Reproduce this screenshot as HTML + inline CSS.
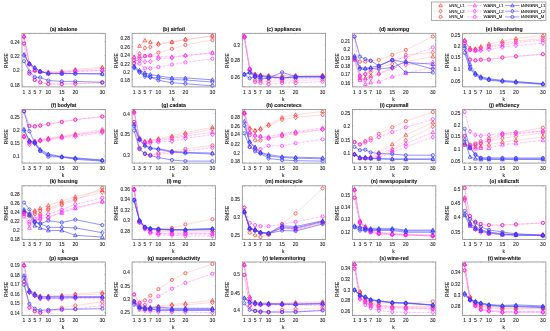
<!DOCTYPE html>
<html><head><meta charset="utf-8"><style>
html,body{margin:0;padding:0;background:#fff;width:550px;height:331px;overflow:hidden}
svg{display:block;font-family:"Liberation Sans",sans-serif;will-change:transform}
</style></head><body>
<svg width="550" height="331" viewBox="0 0 550 331">
<g fill="none"><polyline points="24.00,36.00 29.40,63.60 34.80,70.30 40.20,71.40 48.30,72.10 61.80,71.40 75.30,69.40 102.30,67.20" stroke="#ffb8b8" stroke-width="0.5"/><path d="M24.00,34.05L25.87,37.36L22.13,37.36Z" stroke="#ff3030" stroke-width="0.7"/><path d="M29.40,61.65L31.27,64.96L27.53,64.96Z" stroke="#ff3030" stroke-width="0.7"/><path d="M34.80,68.34L36.67,71.66L32.93,71.66Z" stroke="#ff3030" stroke-width="0.7"/><path d="M40.20,69.45L42.07,72.76L38.33,72.76Z" stroke="#ff3030" stroke-width="0.7"/><path d="M48.30,70.14L50.17,73.46L46.43,73.46Z" stroke="#ff3030" stroke-width="0.7"/><path d="M61.80,69.45L63.67,72.76L59.93,72.76Z" stroke="#ff3030" stroke-width="0.7"/><path d="M75.30,67.45L77.17,70.76L73.43,70.76Z" stroke="#ff3030" stroke-width="0.7"/><path d="M102.30,65.25L104.17,68.56L100.43,68.56Z" stroke="#ff3030" stroke-width="0.7"/><polyline points="24.00,37.00 29.40,64.00 34.80,70.50 40.20,71.60 48.30,72.50 61.80,72.00 75.30,70.50 102.30,68.50" stroke="#ffb8b8" stroke-width="0.5"/><path d="M24.00,34.79L25.61,37.00L24.00,39.21L22.39,37.00Z" stroke="#ff3030" stroke-width="0.7"/><path d="M29.40,61.79L31.01,64.00L29.40,66.21L27.79,64.00Z" stroke="#ff3030" stroke-width="0.7"/><path d="M34.80,68.29L36.41,70.50L34.80,72.71L33.18,70.50Z" stroke="#ff3030" stroke-width="0.7"/><path d="M40.20,69.39L41.82,71.60L40.20,73.81L38.59,71.60Z" stroke="#ff3030" stroke-width="0.7"/><path d="M48.30,70.29L49.91,72.50L48.30,74.71L46.68,72.50Z" stroke="#ff3030" stroke-width="0.7"/><path d="M61.80,69.79L63.42,72.00L61.80,74.21L60.19,72.00Z" stroke="#ff3030" stroke-width="0.7"/><path d="M75.30,68.29L76.92,70.50L75.30,72.71L73.69,70.50Z" stroke="#ff3030" stroke-width="0.7"/><path d="M102.30,66.29L103.92,68.50L102.30,70.71L100.69,68.50Z" stroke="#ff3030" stroke-width="0.7"/><polyline points="24.00,43.60 29.40,73.60 34.80,79.90 40.20,82.30 48.30,83.90 61.80,84.10 75.30,83.70 102.30,82.60" stroke="#ffb8b8" stroke-width="0.5"/><circle cx="24.00" cy="43.60" r="1.61" stroke="#ff3030" stroke-width="0.7"/><circle cx="29.40" cy="73.60" r="1.61" stroke="#ff3030" stroke-width="0.7"/><circle cx="34.80" cy="79.90" r="1.61" stroke="#ff3030" stroke-width="0.7"/><circle cx="40.20" cy="82.30" r="1.61" stroke="#ff3030" stroke-width="0.7"/><circle cx="48.30" cy="83.90" r="1.61" stroke="#ff3030" stroke-width="0.7"/><circle cx="61.80" cy="84.10" r="1.61" stroke="#ff3030" stroke-width="0.7"/><circle cx="75.30" cy="83.70" r="1.61" stroke="#ff3030" stroke-width="0.7"/><circle cx="102.30" cy="82.60" r="1.61" stroke="#ff3030" stroke-width="0.7"/><polyline points="24.00,36.00 29.40,64.00 34.80,70.30 40.20,71.40 48.30,72.50 61.80,72.50 75.30,71.40 102.30,70.30" stroke="#ff6cff" stroke-width="0.5" stroke-dasharray="2.2,0.8,0.6,0.8"/><path d="M24.00,34.05L25.87,37.36L22.13,37.36Z" stroke="#ff20ff" stroke-width="0.7"/><path d="M29.40,62.05L31.27,65.36L27.53,65.36Z" stroke="#ff20ff" stroke-width="0.7"/><path d="M34.80,68.34L36.67,71.66L32.93,71.66Z" stroke="#ff20ff" stroke-width="0.7"/><path d="M40.20,69.45L42.07,72.76L38.33,72.76Z" stroke="#ff20ff" stroke-width="0.7"/><path d="M48.30,70.55L50.17,73.86L46.43,73.86Z" stroke="#ff20ff" stroke-width="0.7"/><path d="M61.80,70.55L63.67,73.86L59.93,73.86Z" stroke="#ff20ff" stroke-width="0.7"/><path d="M75.30,69.45L77.17,72.76L73.43,72.76Z" stroke="#ff20ff" stroke-width="0.7"/><path d="M102.30,68.34L104.17,71.66L100.43,71.66Z" stroke="#ff20ff" stroke-width="0.7"/><polyline points="24.00,37.00 29.40,64.20 34.80,70.50 40.20,71.60 48.30,73.00 61.80,72.80 75.30,71.40 102.30,70.30" stroke="#ff6cff" stroke-width="0.5" stroke-dasharray="2.2,0.8,0.6,0.8"/><path d="M24.00,34.79L25.61,37.00L24.00,39.21L22.39,37.00Z" stroke="#ff20ff" stroke-width="0.7"/><path d="M29.40,61.99L31.01,64.20L29.40,66.41L27.79,64.20Z" stroke="#ff20ff" stroke-width="0.7"/><path d="M34.80,68.29L36.41,70.50L34.80,72.71L33.18,70.50Z" stroke="#ff20ff" stroke-width="0.7"/><path d="M40.20,69.39L41.82,71.60L40.20,73.81L38.59,71.60Z" stroke="#ff20ff" stroke-width="0.7"/><path d="M48.30,70.79L49.91,73.00L48.30,75.21L46.68,73.00Z" stroke="#ff20ff" stroke-width="0.7"/><path d="M61.80,70.59L63.42,72.80L61.80,75.01L60.19,72.80Z" stroke="#ff20ff" stroke-width="0.7"/><path d="M75.30,69.19L76.92,71.40L75.30,73.61L73.69,71.40Z" stroke="#ff20ff" stroke-width="0.7"/><path d="M102.30,68.09L103.92,70.30L102.30,72.51L100.69,70.30Z" stroke="#ff20ff" stroke-width="0.7"/><polyline points="24.00,43.60 29.40,73.60 34.80,79.90 40.20,82.30 48.30,83.90 61.80,84.10 75.30,83.70 102.30,82.60" stroke="#ff6cff" stroke-width="0.5" stroke-dasharray="2.2,0.8,0.6,0.8"/><circle cx="24.00" cy="43.60" r="1.61" stroke="#ff20ff" stroke-width="0.7"/><circle cx="29.40" cy="73.60" r="1.61" stroke="#ff20ff" stroke-width="0.7"/><circle cx="34.80" cy="79.90" r="1.61" stroke="#ff20ff" stroke-width="0.7"/><circle cx="40.20" cy="82.30" r="1.61" stroke="#ff20ff" stroke-width="0.7"/><circle cx="48.30" cy="83.90" r="1.61" stroke="#ff20ff" stroke-width="0.7"/><circle cx="61.80" cy="84.10" r="1.61" stroke="#ff20ff" stroke-width="0.7"/><circle cx="75.30" cy="83.70" r="1.61" stroke="#ff20ff" stroke-width="0.7"/><circle cx="102.30" cy="82.60" r="1.61" stroke="#ff20ff" stroke-width="0.7"/><polyline points="24.00,54.50 29.40,63.60 34.80,67.60 40.20,71.40 48.30,73.60 61.80,73.60 75.30,73.60 102.30,73.90" stroke="#4a4aff" stroke-width="0.6"/><path d="M24.00,52.55L25.87,55.86L22.13,55.86Z" stroke="#3030ff" stroke-width="0.7"/><path d="M29.40,61.65L31.27,64.96L27.53,64.96Z" stroke="#3030ff" stroke-width="0.7"/><path d="M34.80,65.64L36.67,68.96L32.93,68.96Z" stroke="#3030ff" stroke-width="0.7"/><path d="M40.20,69.45L42.07,72.76L38.33,72.76Z" stroke="#3030ff" stroke-width="0.7"/><path d="M48.30,71.64L50.17,74.96L46.43,74.96Z" stroke="#3030ff" stroke-width="0.7"/><path d="M61.80,71.64L63.67,74.96L59.93,74.96Z" stroke="#3030ff" stroke-width="0.7"/><path d="M75.30,71.64L77.17,74.96L73.43,74.96Z" stroke="#3030ff" stroke-width="0.7"/><path d="M102.30,71.95L104.17,75.26L100.43,75.26Z" stroke="#3030ff" stroke-width="0.7"/><polyline points="24.00,55.50 29.40,63.60 34.80,68.00 40.20,71.40 48.30,73.60 61.80,73.60 75.30,73.60 102.30,73.90" stroke="#4a4aff" stroke-width="0.6"/><path d="M24.00,53.29L25.61,55.50L24.00,57.71L22.39,55.50Z" stroke="#3030ff" stroke-width="0.7"/><path d="M29.40,61.39L31.01,63.60L29.40,65.81L27.79,63.60Z" stroke="#3030ff" stroke-width="0.7"/><path d="M34.80,65.79L36.41,68.00L34.80,70.21L33.18,68.00Z" stroke="#3030ff" stroke-width="0.7"/><path d="M40.20,69.19L41.82,71.40L40.20,73.61L38.59,71.40Z" stroke="#3030ff" stroke-width="0.7"/><path d="M48.30,71.39L49.91,73.60L48.30,75.81L46.68,73.60Z" stroke="#3030ff" stroke-width="0.7"/><path d="M61.80,71.39L63.42,73.60L61.80,75.81L60.19,73.60Z" stroke="#3030ff" stroke-width="0.7"/><path d="M75.30,71.39L76.92,73.60L75.30,75.81L73.69,73.60Z" stroke="#3030ff" stroke-width="0.7"/><path d="M102.30,71.69L103.92,73.90L102.30,76.11L100.69,73.90Z" stroke="#3030ff" stroke-width="0.7"/><polyline points="24.00,61.20 29.40,71.70 34.80,77.20 40.20,77.50 48.30,80.50 61.80,81.40 75.30,81.40 102.30,82.30" stroke="#4a4aff" stroke-width="0.6"/><circle cx="24.00" cy="61.20" r="1.61" stroke="#3030ff" stroke-width="0.7"/><circle cx="29.40" cy="71.70" r="1.61" stroke="#3030ff" stroke-width="0.7"/><circle cx="34.80" cy="77.20" r="1.61" stroke="#3030ff" stroke-width="0.7"/><circle cx="40.20" cy="77.50" r="1.61" stroke="#3030ff" stroke-width="0.7"/><circle cx="48.30" cy="80.50" r="1.61" stroke="#3030ff" stroke-width="0.7"/><circle cx="61.80" cy="81.40" r="1.61" stroke="#3030ff" stroke-width="0.7"/><circle cx="75.30" cy="81.40" r="1.61" stroke="#3030ff" stroke-width="0.7"/><circle cx="102.30" cy="82.30" r="1.61" stroke="#3030ff" stroke-width="0.7"/></g>
<rect x="22.00" y="33.30" width="83.30" height="53.60" fill="none" stroke="#8c8c8c" stroke-width="0.8"/>
<path d="M24.00,86.90v-0.9M24.00,33.30v0.9M29.40,86.90v-0.9M29.40,33.30v0.9M34.80,86.90v-0.9M34.80,33.30v0.9M40.20,86.90v-0.9M40.20,33.30v0.9M48.30,86.90v-0.9M48.30,33.30v0.9M61.80,86.90v-0.9M61.80,33.30v0.9M75.30,86.90v-0.9M75.30,33.30v0.9M102.30,86.90v-0.9M102.30,33.30v0.9M22.00,41.60h0.9M105.30,41.60h-0.9M22.00,55.70h0.9M105.30,55.70h-0.9M22.00,70.30h0.9M105.30,70.30h-0.9M22.00,85.10h0.9M105.30,85.10h-0.9" stroke="#8c8c8c" stroke-width="0.6"/>
<g font-size="5.0" fill="#1e1e1e" stroke="#1e1e1e" stroke-width="0.09"><text x="24.00" y="93.50" text-anchor="middle">1</text><text x="29.40" y="93.50" text-anchor="middle">3</text><text x="34.80" y="93.50" text-anchor="middle">5</text><text x="40.20" y="93.50" text-anchor="middle">7</text><text x="48.30" y="93.50" text-anchor="middle">10</text><text x="61.80" y="93.50" text-anchor="middle">15</text><text x="75.30" y="93.50" text-anchor="middle">20</text><text x="102.30" y="93.50" text-anchor="middle">30</text><text x="19.70" y="43.70" text-anchor="end" font-size="4.75">0.24</text><text x="19.70" y="57.80" text-anchor="end" font-size="4.75">0.22</text><text x="19.70" y="72.40" text-anchor="end" font-size="4.75">0.2</text><text x="19.70" y="87.20" text-anchor="end" font-size="4.75">0.18</text><text x="63.05" y="100.50" text-anchor="middle">k</text><text transform="translate(8.30,60.70) rotate(-90)" text-anchor="middle" fill="#222" font-size="5.2">RMSE</text></g>
<text x="63.65" y="30.80" text-anchor="middle" font-size="5.2" font-weight="bold" fill="#111" stroke="#111" stroke-width="0.08">(a) abalone</text>
<g fill="none"><polyline points="134.10,57.10 139.50,46.00 144.90,40.50 150.30,42.10 158.40,43.30 171.90,42.10 185.40,39.60 212.40,35.80" stroke="#ffb8b8" stroke-width="0.5"/><path d="M134.10,55.15L135.97,58.46L132.23,58.46Z" stroke="#ff3030" stroke-width="0.7"/><path d="M139.50,44.05L141.37,47.36L137.63,47.36Z" stroke="#ff3030" stroke-width="0.7"/><path d="M144.90,38.55L146.77,41.86L143.03,41.86Z" stroke="#ff3030" stroke-width="0.7"/><path d="M150.30,40.15L152.17,43.46L148.43,43.46Z" stroke="#ff3030" stroke-width="0.7"/><path d="M158.40,41.34L160.27,44.66L156.53,44.66Z" stroke="#ff3030" stroke-width="0.7"/><path d="M171.90,40.15L173.77,43.46L170.03,43.46Z" stroke="#ff3030" stroke-width="0.7"/><path d="M185.40,37.65L187.27,40.96L183.53,40.96Z" stroke="#ff3030" stroke-width="0.7"/><path d="M212.40,33.84L214.27,37.16L210.53,37.16Z" stroke="#ff3030" stroke-width="0.7"/><polyline points="134.10,60.40 139.50,53.80 144.90,48.00 150.30,47.10 158.40,44.60 171.90,42.10 185.40,39.60 212.40,35.80" stroke="#ffb8b8" stroke-width="0.5"/><path d="M134.10,58.19L135.72,60.40L134.10,62.61L132.48,60.40Z" stroke="#ff3030" stroke-width="0.7"/><path d="M139.50,51.59L141.12,53.80L139.50,56.01L137.88,53.80Z" stroke="#ff3030" stroke-width="0.7"/><path d="M144.90,45.79L146.52,48.00L144.90,50.21L143.28,48.00Z" stroke="#ff3030" stroke-width="0.7"/><path d="M150.30,44.89L151.92,47.10L150.30,49.31L148.69,47.10Z" stroke="#ff3030" stroke-width="0.7"/><path d="M158.40,42.39L160.02,44.60L158.40,46.81L156.78,44.60Z" stroke="#ff3030" stroke-width="0.7"/><path d="M171.90,39.89L173.52,42.10L171.90,44.31L170.28,42.10Z" stroke="#ff3030" stroke-width="0.7"/><path d="M185.40,37.39L187.02,39.60L185.40,41.81L183.78,39.60Z" stroke="#ff3030" stroke-width="0.7"/><path d="M212.40,33.59L214.02,35.80L212.40,38.01L210.78,35.80Z" stroke="#ff3030" stroke-width="0.7"/><polyline points="134.10,63.20 139.50,58.40 144.90,55.90 150.30,55.40 158.40,52.60 171.90,48.80 185.40,45.00 212.40,40.00" stroke="#ffb8b8" stroke-width="0.5"/><circle cx="134.10" cy="63.20" r="1.61" stroke="#ff3030" stroke-width="0.7"/><circle cx="139.50" cy="58.40" r="1.61" stroke="#ff3030" stroke-width="0.7"/><circle cx="144.90" cy="55.90" r="1.61" stroke="#ff3030" stroke-width="0.7"/><circle cx="150.30" cy="55.40" r="1.61" stroke="#ff3030" stroke-width="0.7"/><circle cx="158.40" cy="52.60" r="1.61" stroke="#ff3030" stroke-width="0.7"/><circle cx="171.90" cy="48.80" r="1.61" stroke="#ff3030" stroke-width="0.7"/><circle cx="185.40" cy="45.00" r="1.61" stroke="#ff3030" stroke-width="0.7"/><circle cx="212.40" cy="40.00" r="1.61" stroke="#ff3030" stroke-width="0.7"/><polyline points="134.10,57.10 139.50,56.30 144.90,55.90 150.30,55.40 158.40,56.80 171.90,56.80 185.40,55.40 212.40,52.90" stroke="#ff6cff" stroke-width="0.5" stroke-dasharray="2.2,0.8,0.6,0.8"/><path d="M134.10,55.15L135.97,58.46L132.23,58.46Z" stroke="#ff20ff" stroke-width="0.7"/><path d="M139.50,54.34L141.37,57.66L137.63,57.66Z" stroke="#ff20ff" stroke-width="0.7"/><path d="M144.90,53.95L146.77,57.26L143.03,57.26Z" stroke="#ff20ff" stroke-width="0.7"/><path d="M150.30,53.45L152.17,56.76L148.43,56.76Z" stroke="#ff20ff" stroke-width="0.7"/><path d="M158.40,54.84L160.27,58.16L156.53,58.16Z" stroke="#ff20ff" stroke-width="0.7"/><path d="M171.90,54.84L173.77,58.16L170.03,58.16Z" stroke="#ff20ff" stroke-width="0.7"/><path d="M185.40,53.45L187.27,56.76L183.53,56.76Z" stroke="#ff20ff" stroke-width="0.7"/><path d="M212.40,50.95L214.27,54.26L210.53,54.26Z" stroke="#ff20ff" stroke-width="0.7"/><polyline points="134.10,60.40 139.50,60.40 144.90,61.70 150.30,61.60 158.40,58.70 171.90,57.90 185.40,55.40 212.40,52.90" stroke="#ff6cff" stroke-width="0.5" stroke-dasharray="2.2,0.8,0.6,0.8"/><path d="M134.10,58.19L135.72,60.40L134.10,62.61L132.48,60.40Z" stroke="#ff20ff" stroke-width="0.7"/><path d="M139.50,58.19L141.12,60.40L139.50,62.61L137.88,60.40Z" stroke="#ff20ff" stroke-width="0.7"/><path d="M144.90,59.49L146.52,61.70L144.90,63.91L143.28,61.70Z" stroke="#ff20ff" stroke-width="0.7"/><path d="M150.30,59.39L151.92,61.60L150.30,63.81L148.69,61.60Z" stroke="#ff20ff" stroke-width="0.7"/><path d="M158.40,56.49L160.02,58.70L158.40,60.91L156.78,58.70Z" stroke="#ff20ff" stroke-width="0.7"/><path d="M171.90,55.69L173.52,57.90L171.90,60.11L170.28,57.90Z" stroke="#ff20ff" stroke-width="0.7"/><path d="M185.40,53.19L187.02,55.40L185.40,57.61L183.78,55.40Z" stroke="#ff20ff" stroke-width="0.7"/><path d="M212.40,50.69L214.02,52.90L212.40,55.11L210.78,52.90Z" stroke="#ff20ff" stroke-width="0.7"/><polyline points="134.10,63.20 139.50,63.70 144.90,68.40 150.30,68.40 158.40,67.10 171.90,64.60 185.40,62.40 212.40,58.70" stroke="#ff6cff" stroke-width="0.5" stroke-dasharray="2.2,0.8,0.6,0.8"/><circle cx="134.10" cy="63.20" r="1.61" stroke="#ff20ff" stroke-width="0.7"/><circle cx="139.50" cy="63.70" r="1.61" stroke="#ff20ff" stroke-width="0.7"/><circle cx="144.90" cy="68.40" r="1.61" stroke="#ff20ff" stroke-width="0.7"/><circle cx="150.30" cy="68.40" r="1.61" stroke="#ff20ff" stroke-width="0.7"/><circle cx="158.40" cy="67.10" r="1.61" stroke="#ff20ff" stroke-width="0.7"/><circle cx="171.90" cy="64.60" r="1.61" stroke="#ff20ff" stroke-width="0.7"/><circle cx="185.40" cy="62.40" r="1.61" stroke="#ff20ff" stroke-width="0.7"/><circle cx="212.40" cy="58.70" r="1.61" stroke="#ff20ff" stroke-width="0.7"/><polyline points="134.10,66.20 139.50,70.40 144.90,72.90 150.30,74.50 158.40,75.90 171.90,77.90 185.40,77.90 212.40,79.80" stroke="#4a4aff" stroke-width="0.6"/><path d="M134.10,64.25L135.97,67.56L132.23,67.56Z" stroke="#3030ff" stroke-width="0.7"/><path d="M139.50,68.45L141.37,71.76L137.63,71.76Z" stroke="#3030ff" stroke-width="0.7"/><path d="M144.90,70.95L146.77,74.26L143.03,74.26Z" stroke="#3030ff" stroke-width="0.7"/><path d="M150.30,72.55L152.17,75.86L148.43,75.86Z" stroke="#3030ff" stroke-width="0.7"/><path d="M158.40,73.95L160.27,77.26L156.53,77.26Z" stroke="#3030ff" stroke-width="0.7"/><path d="M171.90,75.95L173.77,79.26L170.03,79.26Z" stroke="#3030ff" stroke-width="0.7"/><path d="M185.40,75.95L187.27,79.26L183.53,79.26Z" stroke="#3030ff" stroke-width="0.7"/><path d="M212.40,77.84L214.27,81.16L210.53,81.16Z" stroke="#3030ff" stroke-width="0.7"/><polyline points="134.10,67.90 139.50,72.40 144.90,76.50 150.30,77.50 158.40,77.90 171.90,79.50 185.40,80.00 212.40,82.00" stroke="#4a4aff" stroke-width="0.6"/><path d="M134.10,65.69L135.72,67.90L134.10,70.11L132.48,67.90Z" stroke="#3030ff" stroke-width="0.7"/><path d="M139.50,70.19L141.12,72.40L139.50,74.61L137.88,72.40Z" stroke="#3030ff" stroke-width="0.7"/><path d="M144.90,74.29L146.52,76.50L144.90,78.71L143.28,76.50Z" stroke="#3030ff" stroke-width="0.7"/><path d="M150.30,75.29L151.92,77.50L150.30,79.71L148.69,77.50Z" stroke="#3030ff" stroke-width="0.7"/><path d="M158.40,75.69L160.02,77.90L158.40,80.11L156.78,77.90Z" stroke="#3030ff" stroke-width="0.7"/><path d="M171.90,77.29L173.52,79.50L171.90,81.71L170.28,79.50Z" stroke="#3030ff" stroke-width="0.7"/><path d="M185.40,77.79L187.02,80.00L185.40,82.21L183.78,80.00Z" stroke="#3030ff" stroke-width="0.7"/><path d="M212.40,79.79L214.02,82.00L212.40,84.21L210.78,82.00Z" stroke="#3030ff" stroke-width="0.7"/><polyline points="134.10,67.00 139.50,71.50 144.90,75.00 150.30,77.00 158.40,80.30 171.90,82.80 185.40,83.70 212.40,85.80" stroke="#4a4aff" stroke-width="0.6"/><circle cx="134.10" cy="67.00" r="1.61" stroke="#3030ff" stroke-width="0.7"/><circle cx="139.50" cy="71.50" r="1.61" stroke="#3030ff" stroke-width="0.7"/><circle cx="144.90" cy="75.00" r="1.61" stroke="#3030ff" stroke-width="0.7"/><circle cx="150.30" cy="77.00" r="1.61" stroke="#3030ff" stroke-width="0.7"/><circle cx="158.40" cy="80.30" r="1.61" stroke="#3030ff" stroke-width="0.7"/><circle cx="171.90" cy="82.80" r="1.61" stroke="#3030ff" stroke-width="0.7"/><circle cx="185.40" cy="83.70" r="1.61" stroke="#3030ff" stroke-width="0.7"/><circle cx="212.40" cy="85.80" r="1.61" stroke="#3030ff" stroke-width="0.7"/></g>
<rect x="132.10" y="33.30" width="83.30" height="53.60" fill="none" stroke="#8c8c8c" stroke-width="0.8"/>
<path d="M134.10,86.90v-0.9M134.10,33.30v0.9M139.50,86.90v-0.9M139.50,33.30v0.9M144.90,86.90v-0.9M144.90,33.30v0.9M150.30,86.90v-0.9M150.30,33.30v0.9M158.40,86.90v-0.9M158.40,33.30v0.9M171.90,86.90v-0.9M171.90,33.30v0.9M185.40,86.90v-0.9M185.40,33.30v0.9M212.40,86.90v-0.9M212.40,33.30v0.9M132.10,38.30h0.9M215.40,38.30h-0.9M132.10,46.40h0.9M215.40,46.40h-0.9M132.10,54.70h0.9M215.40,54.70h-0.9M132.10,63.40h0.9M215.40,63.40h-0.9M132.10,71.50h0.9M215.40,71.50h-0.9M132.10,79.70h0.9M215.40,79.70h-0.9" stroke="#8c8c8c" stroke-width="0.6"/>
<g font-size="5.0" fill="#1e1e1e" stroke="#1e1e1e" stroke-width="0.09"><text x="134.10" y="93.50" text-anchor="middle">1</text><text x="139.50" y="93.50" text-anchor="middle">3</text><text x="144.90" y="93.50" text-anchor="middle">5</text><text x="150.30" y="93.50" text-anchor="middle">7</text><text x="158.40" y="93.50" text-anchor="middle">10</text><text x="171.90" y="93.50" text-anchor="middle">15</text><text x="185.40" y="93.50" text-anchor="middle">20</text><text x="212.40" y="93.50" text-anchor="middle">30</text><text x="129.80" y="40.40" text-anchor="end" font-size="4.75">0.28</text><text x="129.80" y="48.50" text-anchor="end" font-size="4.75">0.26</text><text x="129.80" y="56.80" text-anchor="end" font-size="4.75">0.24</text><text x="129.80" y="65.50" text-anchor="end" font-size="4.75">0.22</text><text x="129.80" y="73.60" text-anchor="end" font-size="4.75">0.2</text><text x="129.80" y="81.80" text-anchor="end" font-size="4.75">0.18</text><text x="173.15" y="100.50" text-anchor="middle">k</text><text transform="translate(118.40,60.70) rotate(-90)" text-anchor="middle" fill="#222" font-size="5.2">RMSE</text></g>
<text x="173.75" y="30.80" text-anchor="middle" font-size="5.2" font-weight="bold" fill="#111" stroke="#111" stroke-width="0.08">(b) airfoil</text>
<g fill="none"><polyline points="244.30,36.00 249.70,69.00 255.10,74.00 260.50,74.70 268.60,75.50 282.10,75.90 295.60,75.50 322.60,75.00" stroke="#ffb8b8" stroke-width="0.5"/><path d="M244.30,34.05L246.17,37.36L242.43,37.36Z" stroke="#ff3030" stroke-width="0.7"/><path d="M249.70,67.05L251.57,70.36L247.83,70.36Z" stroke="#ff3030" stroke-width="0.7"/><path d="M255.10,72.05L256.97,75.36L253.23,75.36Z" stroke="#ff3030" stroke-width="0.7"/><path d="M260.50,72.75L262.37,76.06L258.63,76.06Z" stroke="#ff3030" stroke-width="0.7"/><path d="M268.60,73.55L270.47,76.86L266.73,76.86Z" stroke="#ff3030" stroke-width="0.7"/><path d="M282.10,73.95L283.97,77.26L280.23,77.26Z" stroke="#ff3030" stroke-width="0.7"/><path d="M295.60,73.55L297.47,76.86L293.73,76.86Z" stroke="#ff3030" stroke-width="0.7"/><path d="M322.60,73.05L324.47,76.36L320.73,76.36Z" stroke="#ff3030" stroke-width="0.7"/><polyline points="244.30,36.50 249.70,69.00 255.10,74.50 260.50,75.50 268.60,76.00 282.10,76.50 295.60,76.00 322.60,75.50" stroke="#ffb8b8" stroke-width="0.5"/><path d="M244.30,34.29L245.92,36.50L244.30,38.71L242.69,36.50Z" stroke="#ff3030" stroke-width="0.7"/><path d="M249.70,66.79L251.32,69.00L249.70,71.21L248.09,69.00Z" stroke="#ff3030" stroke-width="0.7"/><path d="M255.10,72.29L256.72,74.50L255.10,76.71L253.49,74.50Z" stroke="#ff3030" stroke-width="0.7"/><path d="M260.50,73.29L262.12,75.50L260.50,77.71L258.88,75.50Z" stroke="#ff3030" stroke-width="0.7"/><path d="M268.60,73.79L270.22,76.00L268.60,78.21L266.99,76.00Z" stroke="#ff3030" stroke-width="0.7"/><path d="M282.10,74.29L283.72,76.50L282.10,78.71L280.49,76.50Z" stroke="#ff3030" stroke-width="0.7"/><path d="M295.60,73.79L297.22,76.00L295.60,78.21L293.99,76.00Z" stroke="#ff3030" stroke-width="0.7"/><path d="M322.60,73.29L324.22,75.50L322.60,77.71L320.99,75.50Z" stroke="#ff3030" stroke-width="0.7"/><polyline points="244.30,37.50 249.70,69.50 255.10,80.50 260.50,81.00 268.60,81.30 282.10,81.00 295.60,80.50 322.60,79.60" stroke="#ffb8b8" stroke-width="0.5"/><circle cx="244.30" cy="37.50" r="1.61" stroke="#ff3030" stroke-width="0.7"/><circle cx="249.70" cy="69.50" r="1.61" stroke="#ff3030" stroke-width="0.7"/><circle cx="255.10" cy="80.50" r="1.61" stroke="#ff3030" stroke-width="0.7"/><circle cx="260.50" cy="81.00" r="1.61" stroke="#ff3030" stroke-width="0.7"/><circle cx="268.60" cy="81.30" r="1.61" stroke="#ff3030" stroke-width="0.7"/><circle cx="282.10" cy="81.00" r="1.61" stroke="#ff3030" stroke-width="0.7"/><circle cx="295.60" cy="80.50" r="1.61" stroke="#ff3030" stroke-width="0.7"/><circle cx="322.60" cy="79.60" r="1.61" stroke="#ff3030" stroke-width="0.7"/><polyline points="244.30,36.00 249.70,69.00 255.10,76.00 260.50,77.00 268.60,77.50 282.10,78.00 295.60,77.00 322.60,76.50" stroke="#ff6cff" stroke-width="0.5" stroke-dasharray="2.2,0.8,0.6,0.8"/><path d="M244.30,34.05L246.17,37.36L242.43,37.36Z" stroke="#ff20ff" stroke-width="0.7"/><path d="M249.70,67.05L251.57,70.36L247.83,70.36Z" stroke="#ff20ff" stroke-width="0.7"/><path d="M255.10,74.05L256.97,77.36L253.23,77.36Z" stroke="#ff20ff" stroke-width="0.7"/><path d="M260.50,75.05L262.37,78.36L258.63,78.36Z" stroke="#ff20ff" stroke-width="0.7"/><path d="M268.60,75.55L270.47,78.86L266.73,78.86Z" stroke="#ff20ff" stroke-width="0.7"/><path d="M282.10,76.05L283.97,79.36L280.23,79.36Z" stroke="#ff20ff" stroke-width="0.7"/><path d="M295.60,75.05L297.47,78.36L293.73,78.36Z" stroke="#ff20ff" stroke-width="0.7"/><path d="M322.60,74.55L324.47,77.86L320.73,77.86Z" stroke="#ff20ff" stroke-width="0.7"/><polyline points="244.30,36.50 249.70,69.00 255.10,77.00 260.50,78.00 268.60,78.50 282.10,79.00 295.60,78.50 322.60,78.00" stroke="#ff6cff" stroke-width="0.5" stroke-dasharray="2.2,0.8,0.6,0.8"/><path d="M244.30,34.29L245.92,36.50L244.30,38.71L242.69,36.50Z" stroke="#ff20ff" stroke-width="0.7"/><path d="M249.70,66.79L251.32,69.00L249.70,71.21L248.09,69.00Z" stroke="#ff20ff" stroke-width="0.7"/><path d="M255.10,74.79L256.72,77.00L255.10,79.21L253.49,77.00Z" stroke="#ff20ff" stroke-width="0.7"/><path d="M260.50,75.79L262.12,78.00L260.50,80.21L258.88,78.00Z" stroke="#ff20ff" stroke-width="0.7"/><path d="M268.60,76.29L270.22,78.50L268.60,80.71L266.99,78.50Z" stroke="#ff20ff" stroke-width="0.7"/><path d="M282.10,76.79L283.72,79.00L282.10,81.21L280.49,79.00Z" stroke="#ff20ff" stroke-width="0.7"/><path d="M295.60,76.29L297.22,78.50L295.60,80.71L293.99,78.50Z" stroke="#ff20ff" stroke-width="0.7"/><path d="M322.60,75.79L324.22,78.00L322.60,80.21L320.99,78.00Z" stroke="#ff20ff" stroke-width="0.7"/><polyline points="244.30,37.50 249.70,69.50 255.10,82.10 260.50,82.90 268.60,84.20 282.10,82.90 295.60,82.90 322.60,81.60" stroke="#ff6cff" stroke-width="0.5" stroke-dasharray="2.2,0.8,0.6,0.8"/><circle cx="244.30" cy="37.50" r="1.61" stroke="#ff20ff" stroke-width="0.7"/><circle cx="249.70" cy="69.50" r="1.61" stroke="#ff20ff" stroke-width="0.7"/><circle cx="255.10" cy="82.10" r="1.61" stroke="#ff20ff" stroke-width="0.7"/><circle cx="260.50" cy="82.90" r="1.61" stroke="#ff20ff" stroke-width="0.7"/><circle cx="268.60" cy="84.20" r="1.61" stroke="#ff20ff" stroke-width="0.7"/><circle cx="282.10" cy="82.90" r="1.61" stroke="#ff20ff" stroke-width="0.7"/><circle cx="295.60" cy="82.90" r="1.61" stroke="#ff20ff" stroke-width="0.7"/><circle cx="322.60" cy="81.60" r="1.61" stroke="#ff20ff" stroke-width="0.7"/><polyline points="244.30,74.40 249.70,71.80 255.10,75.00 260.50,75.50 268.60,76.50 282.10,78.00 295.60,76.70 322.60,76.40" stroke="#4a4aff" stroke-width="0.6"/><path d="M244.30,72.45L246.17,75.76L242.43,75.76Z" stroke="#3030ff" stroke-width="0.7"/><path d="M249.70,69.84L251.57,73.16L247.83,73.16Z" stroke="#3030ff" stroke-width="0.7"/><path d="M255.10,73.05L256.97,76.36L253.23,76.36Z" stroke="#3030ff" stroke-width="0.7"/><path d="M260.50,73.55L262.37,76.86L258.63,76.86Z" stroke="#3030ff" stroke-width="0.7"/><path d="M268.60,74.55L270.47,77.86L266.73,77.86Z" stroke="#3030ff" stroke-width="0.7"/><path d="M282.10,76.05L283.97,79.36L280.23,79.36Z" stroke="#3030ff" stroke-width="0.7"/><path d="M295.60,74.75L297.47,78.06L293.73,78.06Z" stroke="#3030ff" stroke-width="0.7"/><path d="M322.60,74.45L324.47,77.76L320.73,77.76Z" stroke="#3030ff" stroke-width="0.7"/><polyline points="244.30,74.40 249.70,73.00 255.10,76.00 260.50,76.40 268.60,77.20 282.10,78.00 295.60,77.00 322.60,76.80" stroke="#4a4aff" stroke-width="0.6"/><path d="M244.30,72.19L245.92,74.40L244.30,76.61L242.69,74.40Z" stroke="#3030ff" stroke-width="0.7"/><path d="M249.70,70.79L251.32,73.00L249.70,75.21L248.09,73.00Z" stroke="#3030ff" stroke-width="0.7"/><path d="M255.10,73.79L256.72,76.00L255.10,78.21L253.49,76.00Z" stroke="#3030ff" stroke-width="0.7"/><path d="M260.50,74.19L262.12,76.40L260.50,78.61L258.88,76.40Z" stroke="#3030ff" stroke-width="0.7"/><path d="M268.60,74.99L270.22,77.20L268.60,79.41L266.99,77.20Z" stroke="#3030ff" stroke-width="0.7"/><path d="M282.10,75.79L283.72,78.00L282.10,80.21L280.49,78.00Z" stroke="#3030ff" stroke-width="0.7"/><path d="M295.60,74.79L297.22,77.00L295.60,79.21L293.99,77.00Z" stroke="#3030ff" stroke-width="0.7"/><path d="M322.60,74.59L324.22,76.80L322.60,79.01L320.99,76.80Z" stroke="#3030ff" stroke-width="0.7"/><polyline points="244.30,74.40 249.70,78.30 255.10,77.00 260.50,79.30 268.60,78.00 282.10,72.30 295.60,76.50 322.60,77.00" stroke="#4a4aff" stroke-width="0.6"/><circle cx="244.30" cy="74.40" r="1.61" stroke="#3030ff" stroke-width="0.7"/><circle cx="249.70" cy="78.30" r="1.61" stroke="#3030ff" stroke-width="0.7"/><circle cx="255.10" cy="77.00" r="1.61" stroke="#3030ff" stroke-width="0.7"/><circle cx="260.50" cy="79.30" r="1.61" stroke="#3030ff" stroke-width="0.7"/><circle cx="268.60" cy="78.00" r="1.61" stroke="#3030ff" stroke-width="0.7"/><circle cx="282.10" cy="72.30" r="1.61" stroke="#3030ff" stroke-width="0.7"/><circle cx="295.60" cy="76.50" r="1.61" stroke="#3030ff" stroke-width="0.7"/><circle cx="322.60" cy="77.00" r="1.61" stroke="#3030ff" stroke-width="0.7"/></g>
<rect x="242.30" y="33.30" width="83.30" height="53.60" fill="none" stroke="#8c8c8c" stroke-width="0.8"/>
<path d="M244.30,86.90v-0.9M244.30,33.30v0.9M249.70,86.90v-0.9M249.70,33.30v0.9M255.10,86.90v-0.9M255.10,33.30v0.9M260.50,86.90v-0.9M260.50,33.30v0.9M268.60,86.90v-0.9M268.60,33.30v0.9M282.10,86.90v-0.9M282.10,33.30v0.9M295.60,86.90v-0.9M295.60,33.30v0.9M322.60,86.90v-0.9M322.60,33.30v0.9M242.30,44.80h0.9M325.60,44.80h-0.9M242.30,60.30h0.9M325.60,60.30h-0.9M242.30,76.40h0.9M325.60,76.40h-0.9" stroke="#8c8c8c" stroke-width="0.6"/>
<g font-size="5.0" fill="#1e1e1e" stroke="#1e1e1e" stroke-width="0.09"><text x="244.30" y="93.50" text-anchor="middle">1</text><text x="249.70" y="93.50" text-anchor="middle">3</text><text x="255.10" y="93.50" text-anchor="middle">5</text><text x="260.50" y="93.50" text-anchor="middle">7</text><text x="268.60" y="93.50" text-anchor="middle">10</text><text x="282.10" y="93.50" text-anchor="middle">15</text><text x="295.60" y="93.50" text-anchor="middle">20</text><text x="322.60" y="93.50" text-anchor="middle">30</text><text x="240.00" y="46.90" text-anchor="end" font-size="4.75">0.3</text><text x="240.00" y="62.40" text-anchor="end" font-size="4.75">0.28</text><text x="240.00" y="78.50" text-anchor="end" font-size="4.75">0.26</text><text x="283.35" y="100.50" text-anchor="middle">k</text><text transform="translate(228.60,60.70) rotate(-90)" text-anchor="middle" fill="#222" font-size="5.2">RMSE</text></g>
<text x="283.95" y="30.80" text-anchor="middle" font-size="5.2" font-weight="bold" fill="#111" stroke="#111" stroke-width="0.08">(c) appliances</text>
<g fill="none"><polyline points="354.50,59.09 359.90,78.32 365.30,78.32 370.70,75.81 378.80,73.30 392.30,67.45 405.80,61.60 432.80,56.58" stroke="#ffb8b8" stroke-width="0.5"/><path d="M354.50,57.14L356.37,60.45L352.63,60.45Z" stroke="#ff3030" stroke-width="0.7"/><path d="M359.90,76.36L361.77,79.68L358.03,79.68Z" stroke="#ff3030" stroke-width="0.7"/><path d="M365.30,76.36L367.17,79.68L363.43,79.68Z" stroke="#ff3030" stroke-width="0.7"/><path d="M370.70,73.86L372.57,77.17L368.83,77.17Z" stroke="#ff3030" stroke-width="0.7"/><path d="M378.80,71.35L380.67,74.66L376.93,74.66Z" stroke="#ff3030" stroke-width="0.7"/><path d="M392.30,65.50L394.17,68.81L390.43,68.81Z" stroke="#ff3030" stroke-width="0.7"/><path d="M405.80,59.64L407.67,62.96L403.93,62.96Z" stroke="#ff3030" stroke-width="0.7"/><path d="M432.80,54.63L434.67,57.94L430.93,57.94Z" stroke="#ff3030" stroke-width="0.7"/><polyline points="354.50,59.09 359.90,75.81 365.30,74.14 370.70,72.47 378.80,67.45 392.30,64.11 405.80,54.91 432.80,52.40" stroke="#ffb8b8" stroke-width="0.5"/><path d="M354.50,56.88L356.12,59.09L354.50,61.30L352.88,59.09Z" stroke="#ff3030" stroke-width="0.7"/><path d="M359.90,73.60L361.51,75.81L359.90,78.02L358.28,75.81Z" stroke="#ff3030" stroke-width="0.7"/><path d="M365.30,71.93L366.92,74.14L365.30,76.35L363.69,74.14Z" stroke="#ff3030" stroke-width="0.7"/><path d="M370.70,70.26L372.31,72.47L370.70,74.68L369.08,72.47Z" stroke="#ff3030" stroke-width="0.7"/><path d="M378.80,65.24L380.42,67.45L378.80,69.66L377.19,67.45Z" stroke="#ff3030" stroke-width="0.7"/><path d="M392.30,61.90L393.92,64.11L392.30,66.32L390.69,64.11Z" stroke="#ff3030" stroke-width="0.7"/><path d="M405.80,52.70L407.42,54.91L405.80,57.12L404.19,54.91Z" stroke="#ff3030" stroke-width="0.7"/><path d="M432.80,50.19L434.42,52.40L432.80,54.61L431.19,52.40Z" stroke="#ff3030" stroke-width="0.7"/><polyline points="354.50,58.26 359.90,61.60 365.30,61.60 370.70,60.76 378.80,59.93 392.30,54.91 405.80,49.90 432.80,36.52" stroke="#ffb8b8" stroke-width="0.5"/><circle cx="354.50" cy="58.26" r="1.61" stroke="#ff3030" stroke-width="0.7"/><circle cx="359.90" cy="61.60" r="1.61" stroke="#ff3030" stroke-width="0.7"/><circle cx="365.30" cy="61.60" r="1.61" stroke="#ff3030" stroke-width="0.7"/><circle cx="370.70" cy="60.76" r="1.61" stroke="#ff3030" stroke-width="0.7"/><circle cx="378.80" cy="59.93" r="1.61" stroke="#ff3030" stroke-width="0.7"/><circle cx="392.30" cy="54.91" r="1.61" stroke="#ff3030" stroke-width="0.7"/><circle cx="405.80" cy="49.90" r="1.61" stroke="#ff3030" stroke-width="0.7"/><circle cx="432.80" cy="36.52" r="1.61" stroke="#ff3030" stroke-width="0.7"/><polyline points="354.50,59.93 359.90,79.99 365.30,84.17 370.70,82.50 378.80,81.66 392.30,76.65 405.80,73.30 432.80,67.45" stroke="#ff6cff" stroke-width="0.5" stroke-dasharray="2.2,0.8,0.6,0.8"/><path d="M354.50,57.97L356.37,61.29L352.63,61.29Z" stroke="#ff20ff" stroke-width="0.7"/><path d="M359.90,78.04L361.77,81.35L358.03,81.35Z" stroke="#ff20ff" stroke-width="0.7"/><path d="M365.30,82.22L367.17,85.53L363.43,85.53Z" stroke="#ff20ff" stroke-width="0.7"/><path d="M370.70,80.55L372.57,83.86L368.83,83.86Z" stroke="#ff20ff" stroke-width="0.7"/><path d="M378.80,79.71L380.67,83.02L376.93,83.02Z" stroke="#ff20ff" stroke-width="0.7"/><path d="M392.30,74.69L394.17,78.01L390.43,78.01Z" stroke="#ff20ff" stroke-width="0.7"/><path d="M405.80,71.35L407.67,74.66L403.93,74.66Z" stroke="#ff20ff" stroke-width="0.7"/><path d="M432.80,65.50L434.67,68.81L430.93,68.81Z" stroke="#ff20ff" stroke-width="0.7"/><polyline points="354.50,36.69 359.90,77.48 365.30,79.99 370.70,78.32 378.80,74.14 392.30,68.29 405.80,64.94 432.80,62.44" stroke="#ff6cff" stroke-width="0.5" stroke-dasharray="2.2,0.8,0.6,0.8"/><path d="M354.50,34.48L356.12,36.69L354.50,38.90L352.88,36.69Z" stroke="#ff20ff" stroke-width="0.7"/><path d="M359.90,75.27L361.51,77.48L359.90,79.69L358.28,77.48Z" stroke="#ff20ff" stroke-width="0.7"/><path d="M365.30,77.78L366.92,79.99L365.30,82.20L363.69,79.99Z" stroke="#ff20ff" stroke-width="0.7"/><path d="M370.70,76.11L372.31,78.32L370.70,80.53L369.08,78.32Z" stroke="#ff20ff" stroke-width="0.7"/><path d="M378.80,71.93L380.42,74.14L378.80,76.35L377.19,74.14Z" stroke="#ff20ff" stroke-width="0.7"/><path d="M392.30,66.08L393.92,68.29L392.30,70.50L390.69,68.29Z" stroke="#ff20ff" stroke-width="0.7"/><path d="M405.80,62.73L407.42,64.94L405.80,67.15L404.19,64.94Z" stroke="#ff20ff" stroke-width="0.7"/><path d="M432.80,60.23L434.42,62.44L432.80,64.65L431.19,62.44Z" stroke="#ff20ff" stroke-width="0.7"/><polyline points="354.50,58.26 359.90,75.81 365.30,74.14 370.70,69.96 378.80,65.78 392.30,59.93 405.80,57.42 432.80,47.39" stroke="#ff6cff" stroke-width="0.5" stroke-dasharray="2.2,0.8,0.6,0.8"/><circle cx="354.50" cy="58.26" r="1.61" stroke="#ff20ff" stroke-width="0.7"/><circle cx="359.90" cy="75.81" r="1.61" stroke="#ff20ff" stroke-width="0.7"/><circle cx="365.30" cy="74.14" r="1.61" stroke="#ff20ff" stroke-width="0.7"/><circle cx="370.70" cy="69.96" r="1.61" stroke="#ff20ff" stroke-width="0.7"/><circle cx="378.80" cy="65.78" r="1.61" stroke="#ff20ff" stroke-width="0.7"/><circle cx="392.30" cy="59.93" r="1.61" stroke="#ff20ff" stroke-width="0.7"/><circle cx="405.80" cy="57.42" r="1.61" stroke="#ff20ff" stroke-width="0.7"/><circle cx="432.80" cy="47.39" r="1.61" stroke="#ff20ff" stroke-width="0.7"/><polyline points="354.50,55.75 359.90,67.45 365.30,68.29 370.70,67.45 378.80,65.78 392.30,59.93 405.80,62.44 432.80,64.11" stroke="#4a4aff" stroke-width="0.6"/><path d="M354.50,53.79L356.37,57.11L352.63,57.11Z" stroke="#3030ff" stroke-width="0.7"/><path d="M359.90,65.50L361.77,68.81L358.03,68.81Z" stroke="#3030ff" stroke-width="0.7"/><path d="M365.30,66.33L367.17,69.65L363.43,69.65Z" stroke="#3030ff" stroke-width="0.7"/><path d="M370.70,65.50L372.57,68.81L368.83,68.81Z" stroke="#3030ff" stroke-width="0.7"/><path d="M378.80,63.83L380.67,67.14L376.93,67.14Z" stroke="#3030ff" stroke-width="0.7"/><path d="M392.30,57.97L394.17,61.29L390.43,61.29Z" stroke="#3030ff" stroke-width="0.7"/><path d="M405.80,60.48L407.67,63.80L403.93,63.80Z" stroke="#3030ff" stroke-width="0.7"/><path d="M432.80,62.15L434.67,65.47L430.93,65.47Z" stroke="#3030ff" stroke-width="0.7"/><polyline points="354.50,57.42 359.90,69.12 365.30,69.12 370.70,68.29 378.80,69.12 392.30,67.45 405.80,61.60 432.80,69.12" stroke="#4a4aff" stroke-width="0.6"/><path d="M354.50,55.21L356.12,57.42L354.50,59.63L352.88,57.42Z" stroke="#3030ff" stroke-width="0.7"/><path d="M359.90,66.91L361.51,69.12L359.90,71.33L358.28,69.12Z" stroke="#3030ff" stroke-width="0.7"/><path d="M365.30,66.91L366.92,69.12L365.30,71.33L363.69,69.12Z" stroke="#3030ff" stroke-width="0.7"/><path d="M370.70,66.08L372.31,68.29L370.70,70.50L369.08,68.29Z" stroke="#3030ff" stroke-width="0.7"/><path d="M378.80,66.91L380.42,69.12L378.80,71.33L377.19,69.12Z" stroke="#3030ff" stroke-width="0.7"/><path d="M392.30,65.24L393.92,67.45L392.30,69.66L390.69,67.45Z" stroke="#3030ff" stroke-width="0.7"/><path d="M405.80,59.39L407.42,61.60L405.80,63.81L404.19,61.60Z" stroke="#3030ff" stroke-width="0.7"/><path d="M432.80,66.91L434.42,69.12L432.80,71.33L431.19,69.12Z" stroke="#3030ff" stroke-width="0.7"/><polyline points="354.50,36.52 359.90,56.58 365.30,59.09 370.70,60.76 378.80,65.78 392.30,59.93 405.80,72.47 432.80,72.47" stroke="#4a4aff" stroke-width="0.6"/><circle cx="354.50" cy="36.52" r="1.61" stroke="#3030ff" stroke-width="0.7"/><circle cx="359.90" cy="56.58" r="1.61" stroke="#3030ff" stroke-width="0.7"/><circle cx="365.30" cy="59.09" r="1.61" stroke="#3030ff" stroke-width="0.7"/><circle cx="370.70" cy="60.76" r="1.61" stroke="#3030ff" stroke-width="0.7"/><circle cx="378.80" cy="65.78" r="1.61" stroke="#3030ff" stroke-width="0.7"/><circle cx="392.30" cy="59.93" r="1.61" stroke="#3030ff" stroke-width="0.7"/><circle cx="405.80" cy="72.47" r="1.61" stroke="#3030ff" stroke-width="0.7"/><circle cx="432.80" cy="72.47" r="1.61" stroke="#3030ff" stroke-width="0.7"/></g>
<rect x="352.50" y="33.30" width="83.30" height="53.60" fill="none" stroke="#8c8c8c" stroke-width="0.8"/>
<path d="M354.50,86.90v-0.9M354.50,33.30v0.9M359.90,86.90v-0.9M359.90,33.30v0.9M365.30,86.90v-0.9M365.30,33.30v0.9M370.70,86.90v-0.9M370.70,33.30v0.9M378.80,86.90v-0.9M378.80,33.30v0.9M392.30,86.90v-0.9M392.30,33.30v0.9M405.80,86.90v-0.9M405.80,33.30v0.9M432.80,86.90v-0.9M432.80,33.30v0.9M352.50,40.70h0.9M435.80,40.70h-0.9M352.50,49.20h0.9M435.80,49.20h-0.9M352.50,57.50h0.9M435.80,57.50h-0.9M352.50,65.70h0.9M435.80,65.70h-0.9M352.50,74.30h0.9M435.80,74.30h-0.9M352.50,82.50h0.9M435.80,82.50h-0.9" stroke="#8c8c8c" stroke-width="0.6"/>
<g font-size="5.0" fill="#1e1e1e" stroke="#1e1e1e" stroke-width="0.09"><text x="354.50" y="93.50" text-anchor="middle">1</text><text x="359.90" y="93.50" text-anchor="middle">3</text><text x="365.30" y="93.50" text-anchor="middle">5</text><text x="370.70" y="93.50" text-anchor="middle">7</text><text x="378.80" y="93.50" text-anchor="middle">10</text><text x="392.30" y="93.50" text-anchor="middle">15</text><text x="405.80" y="93.50" text-anchor="middle">20</text><text x="432.80" y="93.50" text-anchor="middle">30</text><text x="350.20" y="42.80" text-anchor="end" font-size="4.75">0.21</text><text x="350.20" y="51.30" text-anchor="end" font-size="4.75">0.2</text><text x="350.20" y="59.60" text-anchor="end" font-size="4.75">0.19</text><text x="350.20" y="67.80" text-anchor="end" font-size="4.75">0.18</text><text x="350.20" y="76.40" text-anchor="end" font-size="4.75">0.17</text><text x="350.20" y="84.60" text-anchor="end" font-size="4.75">0.16</text><text x="393.55" y="100.50" text-anchor="middle">k</text><text transform="translate(338.80,60.70) rotate(-90)" text-anchor="middle" fill="#222" font-size="5.2">RMSE</text></g>
<text x="394.15" y="30.80" text-anchor="middle" font-size="5.2" font-weight="bold" fill="#111" stroke="#111" stroke-width="0.08">(d) autompg</text>
<g fill="none"><polyline points="464.60,40.40 470.00,48.30 475.40,48.70 480.80,46.50 488.90,43.90 502.40,41.10 515.90,38.50 542.90,35.60" stroke="#ffb8b8" stroke-width="0.5"/><path d="M464.60,38.45L466.47,41.76L462.73,41.76Z" stroke="#ff3030" stroke-width="0.7"/><path d="M470.00,46.34L471.87,49.66L468.13,49.66Z" stroke="#ff3030" stroke-width="0.7"/><path d="M475.40,46.75L477.27,50.06L473.53,50.06Z" stroke="#ff3030" stroke-width="0.7"/><path d="M480.80,44.55L482.67,47.86L478.93,47.86Z" stroke="#ff3030" stroke-width="0.7"/><path d="M488.90,41.95L490.77,45.26L487.03,45.26Z" stroke="#ff3030" stroke-width="0.7"/><path d="M502.40,39.15L504.27,42.46L500.53,42.46Z" stroke="#ff3030" stroke-width="0.7"/><path d="M515.90,36.55L517.77,39.86L514.03,39.86Z" stroke="#ff3030" stroke-width="0.7"/><path d="M542.90,33.65L544.77,36.96L541.03,36.96Z" stroke="#ff3030" stroke-width="0.7"/><polyline points="464.60,40.80 470.00,48.50 475.40,49.50 480.80,48.00 488.90,46.00 502.40,43.50 515.90,41.00 542.90,38.50" stroke="#ffb8b8" stroke-width="0.5"/><path d="M464.60,38.59L466.22,40.80L464.60,43.01L462.99,40.80Z" stroke="#ff3030" stroke-width="0.7"/><path d="M470.00,46.29L471.62,48.50L470.00,50.71L468.38,48.50Z" stroke="#ff3030" stroke-width="0.7"/><path d="M475.40,47.29L477.02,49.50L475.40,51.71L473.79,49.50Z" stroke="#ff3030" stroke-width="0.7"/><path d="M480.80,45.79L482.42,48.00L480.80,50.21L479.19,48.00Z" stroke="#ff3030" stroke-width="0.7"/><path d="M488.90,43.79L490.52,46.00L488.90,48.21L487.29,46.00Z" stroke="#ff3030" stroke-width="0.7"/><path d="M502.40,41.29L504.02,43.50L502.40,45.71L500.79,43.50Z" stroke="#ff3030" stroke-width="0.7"/><path d="M515.90,38.79L517.51,41.00L515.90,43.21L514.28,41.00Z" stroke="#ff3030" stroke-width="0.7"/><path d="M542.90,36.29L544.52,38.50L542.90,40.71L541.29,38.50Z" stroke="#ff3030" stroke-width="0.7"/><polyline points="464.60,43.30 470.00,59.60 475.40,60.30 480.80,59.60 488.90,59.60 502.40,57.50 515.90,56.40 542.90,54.20" stroke="#ffb8b8" stroke-width="0.5"/><circle cx="464.60" cy="43.30" r="1.61" stroke="#ff3030" stroke-width="0.7"/><circle cx="470.00" cy="59.60" r="1.61" stroke="#ff3030" stroke-width="0.7"/><circle cx="475.40" cy="60.30" r="1.61" stroke="#ff3030" stroke-width="0.7"/><circle cx="480.80" cy="59.60" r="1.61" stroke="#ff3030" stroke-width="0.7"/><circle cx="488.90" cy="59.60" r="1.61" stroke="#ff3030" stroke-width="0.7"/><circle cx="502.40" cy="57.50" r="1.61" stroke="#ff3030" stroke-width="0.7"/><circle cx="515.90" cy="56.40" r="1.61" stroke="#ff3030" stroke-width="0.7"/><circle cx="542.90" cy="54.20" r="1.61" stroke="#ff3030" stroke-width="0.7"/><polyline points="464.60,40.40 470.00,49.80 475.40,50.50 480.80,49.50 488.90,47.20 502.40,45.00 515.90,42.50 542.90,40.00" stroke="#ff6cff" stroke-width="0.5" stroke-dasharray="2.2,0.8,0.6,0.8"/><path d="M464.60,38.45L466.47,41.76L462.73,41.76Z" stroke="#ff20ff" stroke-width="0.7"/><path d="M470.00,47.84L471.87,51.16L468.13,51.16Z" stroke="#ff20ff" stroke-width="0.7"/><path d="M475.40,48.55L477.27,51.86L473.53,51.86Z" stroke="#ff20ff" stroke-width="0.7"/><path d="M480.80,47.55L482.67,50.86L478.93,50.86Z" stroke="#ff20ff" stroke-width="0.7"/><path d="M488.90,45.25L490.77,48.56L487.03,48.56Z" stroke="#ff20ff" stroke-width="0.7"/><path d="M502.40,43.05L504.27,46.36L500.53,46.36Z" stroke="#ff20ff" stroke-width="0.7"/><path d="M515.90,40.55L517.77,43.86L514.03,43.86Z" stroke="#ff20ff" stroke-width="0.7"/><path d="M542.90,38.05L544.77,41.36L541.03,41.36Z" stroke="#ff20ff" stroke-width="0.7"/><polyline points="464.60,40.80 470.00,50.00 475.40,50.80 480.80,50.50 488.90,49.40 502.40,47.20 515.90,45.50 542.90,43.30" stroke="#ff6cff" stroke-width="0.5" stroke-dasharray="2.2,0.8,0.6,0.8"/><path d="M464.60,38.59L466.22,40.80L464.60,43.01L462.99,40.80Z" stroke="#ff20ff" stroke-width="0.7"/><path d="M470.00,47.79L471.62,50.00L470.00,52.21L468.38,50.00Z" stroke="#ff20ff" stroke-width="0.7"/><path d="M475.40,48.59L477.02,50.80L475.40,53.01L473.79,50.80Z" stroke="#ff20ff" stroke-width="0.7"/><path d="M480.80,48.29L482.42,50.50L480.80,52.71L479.19,50.50Z" stroke="#ff20ff" stroke-width="0.7"/><path d="M488.90,47.19L490.52,49.40L488.90,51.61L487.29,49.40Z" stroke="#ff20ff" stroke-width="0.7"/><path d="M502.40,44.99L504.02,47.20L502.40,49.41L500.79,47.20Z" stroke="#ff20ff" stroke-width="0.7"/><path d="M515.90,43.29L517.51,45.50L515.90,47.71L514.28,45.50Z" stroke="#ff20ff" stroke-width="0.7"/><path d="M542.90,41.09L544.52,43.30L542.90,45.51L541.29,43.30Z" stroke="#ff20ff" stroke-width="0.7"/><polyline points="464.60,43.30 470.00,59.80 475.40,60.50 480.80,59.80 488.90,59.60 502.40,57.50 515.90,56.40 542.90,54.20" stroke="#ff6cff" stroke-width="0.5" stroke-dasharray="2.2,0.8,0.6,0.8"/><circle cx="464.60" cy="43.30" r="1.61" stroke="#ff20ff" stroke-width="0.7"/><circle cx="470.00" cy="59.80" r="1.61" stroke="#ff20ff" stroke-width="0.7"/><circle cx="475.40" cy="60.50" r="1.61" stroke="#ff20ff" stroke-width="0.7"/><circle cx="480.80" cy="59.80" r="1.61" stroke="#ff20ff" stroke-width="0.7"/><circle cx="488.90" cy="59.60" r="1.61" stroke="#ff20ff" stroke-width="0.7"/><circle cx="502.40" cy="57.50" r="1.61" stroke="#ff20ff" stroke-width="0.7"/><circle cx="515.90" cy="56.40" r="1.61" stroke="#ff20ff" stroke-width="0.7"/><circle cx="542.90" cy="54.20" r="1.61" stroke="#ff20ff" stroke-width="0.7"/><polyline points="464.60,45.90 470.00,64.30 475.40,73.10 480.80,76.60 488.90,78.70 502.40,80.40 515.90,81.50 542.90,83.60" stroke="#4a4aff" stroke-width="0.6"/><path d="M464.60,43.95L466.47,47.26L462.73,47.26Z" stroke="#3030ff" stroke-width="0.7"/><path d="M470.00,62.34L471.87,65.66L468.13,65.66Z" stroke="#3030ff" stroke-width="0.7"/><path d="M475.40,71.14L477.27,74.46L473.53,74.46Z" stroke="#3030ff" stroke-width="0.7"/><path d="M480.80,74.64L482.67,77.96L478.93,77.96Z" stroke="#3030ff" stroke-width="0.7"/><path d="M488.90,76.75L490.77,80.06L487.03,80.06Z" stroke="#3030ff" stroke-width="0.7"/><path d="M502.40,78.45L504.27,81.76L500.53,81.76Z" stroke="#3030ff" stroke-width="0.7"/><path d="M515.90,79.55L517.77,82.86L514.03,82.86Z" stroke="#3030ff" stroke-width="0.7"/><path d="M542.90,81.64L544.77,84.96L541.03,84.96Z" stroke="#3030ff" stroke-width="0.7"/><polyline points="464.60,48.50 470.00,67.80 475.40,74.00 480.80,77.50 488.90,79.50 502.40,81.00 515.90,82.00 542.90,84.00" stroke="#4a4aff" stroke-width="0.6"/><path d="M464.60,46.29L466.22,48.50L464.60,50.71L462.99,48.50Z" stroke="#3030ff" stroke-width="0.7"/><path d="M470.00,65.59L471.62,67.80L470.00,70.01L468.38,67.80Z" stroke="#3030ff" stroke-width="0.7"/><path d="M475.40,71.79L477.02,74.00L475.40,76.21L473.79,74.00Z" stroke="#3030ff" stroke-width="0.7"/><path d="M480.80,75.29L482.42,77.50L480.80,79.71L479.19,77.50Z" stroke="#3030ff" stroke-width="0.7"/><path d="M488.90,77.29L490.52,79.50L488.90,81.71L487.29,79.50Z" stroke="#3030ff" stroke-width="0.7"/><path d="M502.40,78.79L504.02,81.00L502.40,83.21L500.79,81.00Z" stroke="#3030ff" stroke-width="0.7"/><path d="M515.90,79.79L517.51,82.00L515.90,84.21L514.28,82.00Z" stroke="#3030ff" stroke-width="0.7"/><path d="M542.90,81.79L544.52,84.00L542.90,86.21L541.29,84.00Z" stroke="#3030ff" stroke-width="0.7"/><polyline points="464.60,52.90 470.00,69.20 475.40,74.90 480.80,78.40 488.90,80.10 502.40,81.50 515.90,82.60 542.90,84.30" stroke="#4a4aff" stroke-width="0.6"/><circle cx="464.60" cy="52.90" r="1.61" stroke="#3030ff" stroke-width="0.7"/><circle cx="470.00" cy="69.20" r="1.61" stroke="#3030ff" stroke-width="0.7"/><circle cx="475.40" cy="74.90" r="1.61" stroke="#3030ff" stroke-width="0.7"/><circle cx="480.80" cy="78.40" r="1.61" stroke="#3030ff" stroke-width="0.7"/><circle cx="488.90" cy="80.10" r="1.61" stroke="#3030ff" stroke-width="0.7"/><circle cx="502.40" cy="81.50" r="1.61" stroke="#3030ff" stroke-width="0.7"/><circle cx="515.90" cy="82.60" r="1.61" stroke="#3030ff" stroke-width="0.7"/><circle cx="542.90" cy="84.30" r="1.61" stroke="#3030ff" stroke-width="0.7"/></g>
<rect x="462.60" y="33.30" width="83.30" height="53.60" fill="none" stroke="#8c8c8c" stroke-width="0.8"/>
<path d="M464.60,86.90v-0.9M464.60,33.30v0.9M470.00,86.90v-0.9M470.00,33.30v0.9M475.40,86.90v-0.9M475.40,33.30v0.9M480.80,86.90v-0.9M480.80,33.30v0.9M488.90,86.90v-0.9M488.90,33.30v0.9M502.40,86.90v-0.9M502.40,33.30v0.9M515.90,86.90v-0.9M515.90,33.30v0.9M542.90,86.90v-0.9M542.90,33.30v0.9M462.60,35.00h0.9M545.90,35.00h-0.9M462.60,45.90h0.9M545.90,45.90h-0.9M462.60,57.00h0.9M545.90,57.00h-0.9M462.60,68.40h0.9M545.90,68.40h-0.9M462.60,80.40h0.9M545.90,80.40h-0.9" stroke="#8c8c8c" stroke-width="0.6"/>
<g font-size="5.0" fill="#1e1e1e" stroke="#1e1e1e" stroke-width="0.09"><text x="464.60" y="93.50" text-anchor="middle">1</text><text x="470.00" y="93.50" text-anchor="middle">3</text><text x="475.40" y="93.50" text-anchor="middle">5</text><text x="480.80" y="93.50" text-anchor="middle">7</text><text x="488.90" y="93.50" text-anchor="middle">10</text><text x="502.40" y="93.50" text-anchor="middle">15</text><text x="515.90" y="93.50" text-anchor="middle">20</text><text x="542.90" y="93.50" text-anchor="middle">30</text><text x="460.30" y="37.10" text-anchor="end" font-size="4.75">0.25</text><text x="460.30" y="48.00" text-anchor="end" font-size="4.75">0.2</text><text x="460.30" y="59.10" text-anchor="end" font-size="4.75">0.15</text><text x="460.30" y="70.50" text-anchor="end" font-size="4.75">0.1</text><text x="460.30" y="82.50" text-anchor="end" font-size="4.75">0.05</text><text x="503.65" y="100.50" text-anchor="middle">k</text><text transform="translate(448.90,60.70) rotate(-90)" text-anchor="middle" fill="#222" font-size="5.2">RMSE</text></g>
<text x="504.25" y="30.80" text-anchor="middle" font-size="5.2" font-weight="bold" fill="#111" stroke="#111" stroke-width="0.08">(e) bikesharing</text>
<g fill="none"><polyline points="24.00,136.00 29.40,141.00 34.80,141.00 40.20,139.50 48.30,138.20 61.80,136.00 75.30,133.80 102.30,129.50" stroke="#ffb8b8" stroke-width="0.5"/><path d="M24.00,134.04L25.87,137.36L22.13,137.36Z" stroke="#ff3030" stroke-width="0.7"/><path d="M29.40,139.04L31.27,142.36L27.53,142.36Z" stroke="#ff3030" stroke-width="0.7"/><path d="M34.80,139.04L36.67,142.36L32.93,142.36Z" stroke="#ff3030" stroke-width="0.7"/><path d="M40.20,137.54L42.07,140.86L38.33,140.86Z" stroke="#ff3030" stroke-width="0.7"/><path d="M48.30,136.24L50.17,139.56L46.43,139.56Z" stroke="#ff3030" stroke-width="0.7"/><path d="M61.80,134.04L63.67,137.36L59.93,137.36Z" stroke="#ff3030" stroke-width="0.7"/><path d="M75.30,131.84L77.17,135.16L73.43,135.16Z" stroke="#ff3030" stroke-width="0.7"/><path d="M102.30,127.55L104.17,130.86L100.43,130.86Z" stroke="#ff3030" stroke-width="0.7"/><polyline points="24.00,136.50 29.40,143.00 34.80,142.00 40.20,140.50 48.30,139.00 61.80,137.00 75.30,135.00 102.30,131.60" stroke="#ffb8b8" stroke-width="0.5"/><path d="M24.00,134.29L25.61,136.50L24.00,138.71L22.39,136.50Z" stroke="#ff3030" stroke-width="0.7"/><path d="M29.40,140.79L31.01,143.00L29.40,145.21L27.79,143.00Z" stroke="#ff3030" stroke-width="0.7"/><path d="M34.80,139.79L36.41,142.00L34.80,144.21L33.18,142.00Z" stroke="#ff3030" stroke-width="0.7"/><path d="M40.20,138.29L41.82,140.50L40.20,142.71L38.59,140.50Z" stroke="#ff3030" stroke-width="0.7"/><path d="M48.30,136.79L49.91,139.00L48.30,141.21L46.68,139.00Z" stroke="#ff3030" stroke-width="0.7"/><path d="M61.80,134.79L63.42,137.00L61.80,139.21L60.19,137.00Z" stroke="#ff3030" stroke-width="0.7"/><path d="M75.30,132.79L76.92,135.00L75.30,137.21L73.69,135.00Z" stroke="#ff3030" stroke-width="0.7"/><path d="M102.30,129.39L103.92,131.60L102.30,133.81L100.69,131.60Z" stroke="#ff3030" stroke-width="0.7"/><polyline points="24.00,111.20 29.40,125.90 34.80,126.30 40.20,125.50 48.30,124.10 61.80,121.80 75.30,119.60 102.30,116.40" stroke="#ffb8b8" stroke-width="0.5"/><circle cx="24.00" cy="111.20" r="1.61" stroke="#ff3030" stroke-width="0.7"/><circle cx="29.40" cy="125.90" r="1.61" stroke="#ff3030" stroke-width="0.7"/><circle cx="34.80" cy="126.30" r="1.61" stroke="#ff3030" stroke-width="0.7"/><circle cx="40.20" cy="125.50" r="1.61" stroke="#ff3030" stroke-width="0.7"/><circle cx="48.30" cy="124.10" r="1.61" stroke="#ff3030" stroke-width="0.7"/><circle cx="61.80" cy="121.80" r="1.61" stroke="#ff3030" stroke-width="0.7"/><circle cx="75.30" cy="119.60" r="1.61" stroke="#ff3030" stroke-width="0.7"/><circle cx="102.30" cy="116.40" r="1.61" stroke="#ff3030" stroke-width="0.7"/><polyline points="24.00,136.00 29.40,142.00 34.80,141.50 40.20,140.00 48.30,139.00 61.80,137.00 75.30,135.00 102.30,131.00" stroke="#ff6cff" stroke-width="0.5" stroke-dasharray="2.2,0.8,0.6,0.8"/><path d="M24.00,134.04L25.87,137.36L22.13,137.36Z" stroke="#ff20ff" stroke-width="0.7"/><path d="M29.40,140.04L31.27,143.36L27.53,143.36Z" stroke="#ff20ff" stroke-width="0.7"/><path d="M34.80,139.54L36.67,142.86L32.93,142.86Z" stroke="#ff20ff" stroke-width="0.7"/><path d="M40.20,138.04L42.07,141.36L38.33,141.36Z" stroke="#ff20ff" stroke-width="0.7"/><path d="M48.30,137.04L50.17,140.36L46.43,140.36Z" stroke="#ff20ff" stroke-width="0.7"/><path d="M61.80,135.04L63.67,138.36L59.93,138.36Z" stroke="#ff20ff" stroke-width="0.7"/><path d="M75.30,133.04L77.17,136.36L73.43,136.36Z" stroke="#ff20ff" stroke-width="0.7"/><path d="M102.30,129.04L104.17,132.36L100.43,132.36Z" stroke="#ff20ff" stroke-width="0.7"/><polyline points="24.00,137.00 29.40,144.60 34.80,143.00 40.20,141.00 48.30,140.00 61.80,138.00 75.30,136.50 102.30,132.70" stroke="#ff6cff" stroke-width="0.5" stroke-dasharray="2.2,0.8,0.6,0.8"/><path d="M24.00,134.79L25.61,137.00L24.00,139.21L22.39,137.00Z" stroke="#ff20ff" stroke-width="0.7"/><path d="M29.40,142.39L31.01,144.60L29.40,146.81L27.79,144.60Z" stroke="#ff20ff" stroke-width="0.7"/><path d="M34.80,140.79L36.41,143.00L34.80,145.21L33.18,143.00Z" stroke="#ff20ff" stroke-width="0.7"/><path d="M40.20,138.79L41.82,141.00L40.20,143.21L38.59,141.00Z" stroke="#ff20ff" stroke-width="0.7"/><path d="M48.30,137.79L49.91,140.00L48.30,142.21L46.68,140.00Z" stroke="#ff20ff" stroke-width="0.7"/><path d="M61.80,135.79L63.42,138.00L61.80,140.21L60.19,138.00Z" stroke="#ff20ff" stroke-width="0.7"/><path d="M75.30,134.29L76.92,136.50L75.30,138.71L73.69,136.50Z" stroke="#ff20ff" stroke-width="0.7"/><path d="M102.30,130.49L103.92,132.70L102.30,134.91L100.69,132.70Z" stroke="#ff20ff" stroke-width="0.7"/><polyline points="24.00,111.20 29.40,126.00 34.80,126.50 40.20,125.70 48.30,124.30 61.80,122.00 75.30,119.80 102.30,116.60" stroke="#ff6cff" stroke-width="0.5" stroke-dasharray="2.2,0.8,0.6,0.8"/><circle cx="24.00" cy="111.20" r="1.61" stroke="#ff20ff" stroke-width="0.7"/><circle cx="29.40" cy="126.00" r="1.61" stroke="#ff20ff" stroke-width="0.7"/><circle cx="34.80" cy="126.50" r="1.61" stroke="#ff20ff" stroke-width="0.7"/><circle cx="40.20" cy="125.70" r="1.61" stroke="#ff20ff" stroke-width="0.7"/><circle cx="48.30" cy="124.30" r="1.61" stroke="#ff20ff" stroke-width="0.7"/><circle cx="61.80" cy="122.00" r="1.61" stroke="#ff20ff" stroke-width="0.7"/><circle cx="75.30" cy="119.80" r="1.61" stroke="#ff20ff" stroke-width="0.7"/><circle cx="102.30" cy="116.60" r="1.61" stroke="#ff20ff" stroke-width="0.7"/><polyline points="24.00,129.20 29.40,140.40 34.80,142.20 40.20,149.40 48.30,154.00 61.80,156.70 75.30,157.80 102.30,160.00" stroke="#4a4aff" stroke-width="0.6"/><path d="M24.00,127.24L25.87,130.56L22.13,130.56Z" stroke="#3030ff" stroke-width="0.7"/><path d="M29.40,138.44L31.27,141.76L27.53,141.76Z" stroke="#3030ff" stroke-width="0.7"/><path d="M34.80,140.24L36.67,143.56L32.93,143.56Z" stroke="#3030ff" stroke-width="0.7"/><path d="M40.20,147.44L42.07,150.76L38.33,150.76Z" stroke="#3030ff" stroke-width="0.7"/><path d="M48.30,152.04L50.17,155.36L46.43,155.36Z" stroke="#3030ff" stroke-width="0.7"/><path d="M61.80,154.74L63.67,158.06L59.93,158.06Z" stroke="#3030ff" stroke-width="0.7"/><path d="M75.30,155.84L77.17,159.16L73.43,159.16Z" stroke="#3030ff" stroke-width="0.7"/><path d="M102.30,158.04L104.17,161.36L100.43,161.36Z" stroke="#3030ff" stroke-width="0.7"/><polyline points="24.00,130.50 29.40,141.50 34.80,143.50 40.20,150.50 48.30,155.00 61.80,157.00 75.30,159.30 102.30,161.10" stroke="#4a4aff" stroke-width="0.6"/><path d="M24.00,128.29L25.61,130.50L24.00,132.71L22.39,130.50Z" stroke="#3030ff" stroke-width="0.7"/><path d="M29.40,139.29L31.01,141.50L29.40,143.71L27.79,141.50Z" stroke="#3030ff" stroke-width="0.7"/><path d="M34.80,141.29L36.41,143.50L34.80,145.71L33.18,143.50Z" stroke="#3030ff" stroke-width="0.7"/><path d="M40.20,148.29L41.82,150.50L40.20,152.71L38.59,150.50Z" stroke="#3030ff" stroke-width="0.7"/><path d="M48.30,152.79L49.91,155.00L48.30,157.21L46.68,155.00Z" stroke="#3030ff" stroke-width="0.7"/><path d="M61.80,154.79L63.42,157.00L61.80,159.21L60.19,157.00Z" stroke="#3030ff" stroke-width="0.7"/><path d="M75.30,157.09L76.92,159.30L75.30,161.51L73.69,159.30Z" stroke="#3030ff" stroke-width="0.7"/><path d="M102.30,158.89L103.92,161.10L102.30,163.31L100.69,161.10Z" stroke="#3030ff" stroke-width="0.7"/><polyline points="24.00,111.40 29.40,131.30 34.80,143.00 40.20,151.20 48.30,156.70 61.80,157.00 75.30,158.50 102.30,160.50" stroke="#4a4aff" stroke-width="0.6"/><circle cx="24.00" cy="111.40" r="1.61" stroke="#3030ff" stroke-width="0.7"/><circle cx="29.40" cy="131.30" r="1.61" stroke="#3030ff" stroke-width="0.7"/><circle cx="34.80" cy="143.00" r="1.61" stroke="#3030ff" stroke-width="0.7"/><circle cx="40.20" cy="151.20" r="1.61" stroke="#3030ff" stroke-width="0.7"/><circle cx="48.30" cy="156.70" r="1.61" stroke="#3030ff" stroke-width="0.7"/><circle cx="61.80" cy="157.00" r="1.61" stroke="#3030ff" stroke-width="0.7"/><circle cx="75.30" cy="158.50" r="1.61" stroke="#3030ff" stroke-width="0.7"/><circle cx="102.30" cy="160.50" r="1.61" stroke="#3030ff" stroke-width="0.7"/></g>
<rect x="22.00" y="109.50" width="83.30" height="53.60" fill="none" stroke="#8c8c8c" stroke-width="0.8"/>
<path d="M24.00,163.10v-0.9M24.00,109.50v0.9M29.40,163.10v-0.9M29.40,109.50v0.9M34.80,163.10v-0.9M34.80,109.50v0.9M40.20,163.10v-0.9M40.20,109.50v0.9M48.30,163.10v-0.9M48.30,109.50v0.9M61.80,163.10v-0.9M61.80,109.50v0.9M75.30,163.10v-0.9M75.30,109.50v0.9M102.30,163.10v-0.9M102.30,109.50v0.9M22.00,116.80h0.9M105.30,116.80h-0.9M22.00,129.90h0.9M105.30,129.90h-0.9M22.00,143.00h0.9M105.30,143.00h-0.9M22.00,156.30h0.9M105.30,156.30h-0.9" stroke="#8c8c8c" stroke-width="0.6"/>
<g font-size="5.0" fill="#1e1e1e" stroke="#1e1e1e" stroke-width="0.09"><text x="24.00" y="169.70" text-anchor="middle">1</text><text x="29.40" y="169.70" text-anchor="middle">3</text><text x="34.80" y="169.70" text-anchor="middle">5</text><text x="40.20" y="169.70" text-anchor="middle">7</text><text x="48.30" y="169.70" text-anchor="middle">10</text><text x="61.80" y="169.70" text-anchor="middle">15</text><text x="75.30" y="169.70" text-anchor="middle">20</text><text x="102.30" y="169.70" text-anchor="middle">30</text><text x="19.70" y="118.90" text-anchor="end" font-size="4.75">0.25</text><text x="19.70" y="132.00" text-anchor="end" font-size="4.75">0.2</text><text x="19.70" y="145.10" text-anchor="end" font-size="4.75">0.15</text><text x="19.70" y="158.40" text-anchor="end" font-size="4.75">0.1</text><text x="63.05" y="176.70" text-anchor="middle">k</text><text transform="translate(8.30,136.90) rotate(-90)" text-anchor="middle" fill="#222" font-size="5.2">RMSE</text></g>
<text x="63.65" y="107.00" text-anchor="middle" font-size="5.2" font-weight="bold" fill="#111" stroke="#111" stroke-width="0.08">(f) bodyfat</text>
<g fill="none"><polyline points="134.10,111.40 139.50,137.70 144.90,141.30 150.30,140.40 158.40,138.60 171.90,135.90 185.40,132.70 212.40,127.30" stroke="#ffb8b8" stroke-width="0.5"/><path d="M134.10,109.45L135.97,112.76L132.23,112.76Z" stroke="#ff3030" stroke-width="0.7"/><path d="M139.50,135.74L141.37,139.06L137.63,139.06Z" stroke="#ff3030" stroke-width="0.7"/><path d="M144.90,139.34L146.77,142.66L143.03,142.66Z" stroke="#ff3030" stroke-width="0.7"/><path d="M150.30,138.44L152.17,141.76L148.43,141.76Z" stroke="#ff3030" stroke-width="0.7"/><path d="M158.40,136.64L160.27,139.96L156.53,139.96Z" stroke="#ff3030" stroke-width="0.7"/><path d="M171.90,133.94L173.77,137.26L170.03,137.26Z" stroke="#ff3030" stroke-width="0.7"/><path d="M185.40,130.74L187.27,134.06L183.53,134.06Z" stroke="#ff3030" stroke-width="0.7"/><path d="M212.40,125.34L214.27,128.66L210.53,128.66Z" stroke="#ff3030" stroke-width="0.7"/><polyline points="134.10,112.00 139.50,138.50 144.90,142.00 150.30,141.00 158.40,139.50 171.90,137.50 185.40,134.50 212.40,129.00" stroke="#ffb8b8" stroke-width="0.5"/><path d="M134.10,109.79L135.72,112.00L134.10,114.21L132.48,112.00Z" stroke="#ff3030" stroke-width="0.7"/><path d="M139.50,136.29L141.12,138.50L139.50,140.71L137.88,138.50Z" stroke="#ff3030" stroke-width="0.7"/><path d="M144.90,139.79L146.52,142.00L144.90,144.21L143.28,142.00Z" stroke="#ff3030" stroke-width="0.7"/><path d="M150.30,138.79L151.92,141.00L150.30,143.21L148.69,141.00Z" stroke="#ff3030" stroke-width="0.7"/><path d="M158.40,137.29L160.02,139.50L158.40,141.71L156.78,139.50Z" stroke="#ff3030" stroke-width="0.7"/><path d="M171.90,135.29L173.52,137.50L171.90,139.71L170.28,137.50Z" stroke="#ff3030" stroke-width="0.7"/><path d="M185.40,132.29L187.02,134.50L185.40,136.71L183.78,134.50Z" stroke="#ff3030" stroke-width="0.7"/><path d="M212.40,126.79L214.02,129.00L212.40,131.21L210.78,129.00Z" stroke="#ff3030" stroke-width="0.7"/><polyline points="134.10,122.00 139.50,148.00 144.90,153.60 150.30,154.90 158.40,153.10 171.90,151.30 185.40,149.00 212.40,145.40" stroke="#ffb8b8" stroke-width="0.5"/><circle cx="134.10" cy="122.00" r="1.61" stroke="#ff3030" stroke-width="0.7"/><circle cx="139.50" cy="148.00" r="1.61" stroke="#ff3030" stroke-width="0.7"/><circle cx="144.90" cy="153.60" r="1.61" stroke="#ff3030" stroke-width="0.7"/><circle cx="150.30" cy="154.90" r="1.61" stroke="#ff3030" stroke-width="0.7"/><circle cx="158.40" cy="153.10" r="1.61" stroke="#ff3030" stroke-width="0.7"/><circle cx="171.90" cy="151.30" r="1.61" stroke="#ff3030" stroke-width="0.7"/><circle cx="185.40" cy="149.00" r="1.61" stroke="#ff3030" stroke-width="0.7"/><circle cx="212.40" cy="145.40" r="1.61" stroke="#ff3030" stroke-width="0.7"/><polyline points="134.10,111.40 139.50,138.50 144.90,142.00 150.30,141.50 158.40,140.50 171.90,138.60 185.40,136.00 212.40,132.30" stroke="#ff6cff" stroke-width="0.5" stroke-dasharray="2.2,0.8,0.6,0.8"/><path d="M134.10,109.45L135.97,112.76L132.23,112.76Z" stroke="#ff20ff" stroke-width="0.7"/><path d="M139.50,136.54L141.37,139.86L137.63,139.86Z" stroke="#ff20ff" stroke-width="0.7"/><path d="M144.90,140.04L146.77,143.36L143.03,143.36Z" stroke="#ff20ff" stroke-width="0.7"/><path d="M150.30,139.54L152.17,142.86L148.43,142.86Z" stroke="#ff20ff" stroke-width="0.7"/><path d="M158.40,138.54L160.27,141.86L156.53,141.86Z" stroke="#ff20ff" stroke-width="0.7"/><path d="M171.90,136.64L173.77,139.96L170.03,139.96Z" stroke="#ff20ff" stroke-width="0.7"/><path d="M185.40,134.04L187.27,137.36L183.53,137.36Z" stroke="#ff20ff" stroke-width="0.7"/><path d="M212.40,130.34L214.27,133.66L210.53,133.66Z" stroke="#ff20ff" stroke-width="0.7"/><polyline points="134.10,113.20 139.50,139.50 144.90,144.00 150.30,143.00 158.40,142.00 171.90,141.30 185.40,138.50 212.40,134.50" stroke="#ff6cff" stroke-width="0.5" stroke-dasharray="2.2,0.8,0.6,0.8"/><path d="M134.10,110.99L135.72,113.20L134.10,115.41L132.48,113.20Z" stroke="#ff20ff" stroke-width="0.7"/><path d="M139.50,137.29L141.12,139.50L139.50,141.71L137.88,139.50Z" stroke="#ff20ff" stroke-width="0.7"/><path d="M144.90,141.79L146.52,144.00L144.90,146.21L143.28,144.00Z" stroke="#ff20ff" stroke-width="0.7"/><path d="M150.30,140.79L151.92,143.00L150.30,145.21L148.69,143.00Z" stroke="#ff20ff" stroke-width="0.7"/><path d="M158.40,139.79L160.02,142.00L158.40,144.21L156.78,142.00Z" stroke="#ff20ff" stroke-width="0.7"/><path d="M171.90,139.09L173.52,141.30L171.90,143.51L170.28,141.30Z" stroke="#ff20ff" stroke-width="0.7"/><path d="M185.40,136.29L187.02,138.50L185.40,140.71L183.78,138.50Z" stroke="#ff20ff" stroke-width="0.7"/><path d="M212.40,132.29L214.02,134.50L212.40,136.71L210.78,134.50Z" stroke="#ff20ff" stroke-width="0.7"/><polyline points="134.10,122.00 139.50,148.50 144.90,154.00 150.30,155.50 158.40,154.50 171.90,152.70 185.40,151.00 212.40,147.60" stroke="#ff6cff" stroke-width="0.5" stroke-dasharray="2.2,0.8,0.6,0.8"/><circle cx="134.10" cy="122.00" r="1.61" stroke="#ff20ff" stroke-width="0.7"/><circle cx="139.50" cy="148.50" r="1.61" stroke="#ff20ff" stroke-width="0.7"/><circle cx="144.90" cy="154.00" r="1.61" stroke="#ff20ff" stroke-width="0.7"/><circle cx="150.30" cy="155.50" r="1.61" stroke="#ff20ff" stroke-width="0.7"/><circle cx="158.40" cy="154.50" r="1.61" stroke="#ff20ff" stroke-width="0.7"/><circle cx="171.90" cy="152.70" r="1.61" stroke="#ff20ff" stroke-width="0.7"/><circle cx="185.40" cy="151.00" r="1.61" stroke="#ff20ff" stroke-width="0.7"/><circle cx="212.40" cy="147.60" r="1.61" stroke="#ff20ff" stroke-width="0.7"/><polyline points="134.10,124.10 139.50,139.00 144.90,145.00 150.30,147.70 158.40,148.60 171.90,151.30 185.40,152.40 212.40,153.00" stroke="#4a4aff" stroke-width="0.6"/><path d="M134.10,122.14L135.97,125.46L132.23,125.46Z" stroke="#3030ff" stroke-width="0.7"/><path d="M139.50,137.04L141.37,140.36L137.63,140.36Z" stroke="#3030ff" stroke-width="0.7"/><path d="M144.90,143.04L146.77,146.36L143.03,146.36Z" stroke="#3030ff" stroke-width="0.7"/><path d="M150.30,145.74L152.17,149.06L148.43,149.06Z" stroke="#3030ff" stroke-width="0.7"/><path d="M158.40,146.64L160.27,149.96L156.53,149.96Z" stroke="#3030ff" stroke-width="0.7"/><path d="M171.90,149.34L173.77,152.66L170.03,152.66Z" stroke="#3030ff" stroke-width="0.7"/><path d="M185.40,150.44L187.27,153.76L183.53,153.76Z" stroke="#3030ff" stroke-width="0.7"/><path d="M212.40,151.04L214.27,154.36L210.53,154.36Z" stroke="#3030ff" stroke-width="0.7"/><polyline points="134.10,125.90 139.50,140.00 144.90,146.00 150.30,148.50 158.40,149.50 171.90,152.00 185.40,153.00 212.40,154.00" stroke="#4a4aff" stroke-width="0.6"/><path d="M134.10,123.69L135.72,125.90L134.10,128.11L132.48,125.90Z" stroke="#3030ff" stroke-width="0.7"/><path d="M139.50,137.79L141.12,140.00L139.50,142.21L137.88,140.00Z" stroke="#3030ff" stroke-width="0.7"/><path d="M144.90,143.79L146.52,146.00L144.90,148.21L143.28,146.00Z" stroke="#3030ff" stroke-width="0.7"/><path d="M150.30,146.29L151.92,148.50L150.30,150.71L148.69,148.50Z" stroke="#3030ff" stroke-width="0.7"/><path d="M158.40,147.29L160.02,149.50L158.40,151.71L156.78,149.50Z" stroke="#3030ff" stroke-width="0.7"/><path d="M171.90,149.79L173.52,152.00L171.90,154.21L170.28,152.00Z" stroke="#3030ff" stroke-width="0.7"/><path d="M185.40,150.79L187.02,153.00L185.40,155.21L183.78,153.00Z" stroke="#3030ff" stroke-width="0.7"/><path d="M212.40,151.79L214.02,154.00L212.40,156.21L210.78,154.00Z" stroke="#3030ff" stroke-width="0.7"/><polyline points="134.10,130.50 139.50,149.10 144.90,153.60 150.30,155.60 158.40,157.60 171.90,160.00 185.40,161.10 212.40,161.10" stroke="#4a4aff" stroke-width="0.6"/><circle cx="134.10" cy="130.50" r="1.61" stroke="#3030ff" stroke-width="0.7"/><circle cx="139.50" cy="149.10" r="1.61" stroke="#3030ff" stroke-width="0.7"/><circle cx="144.90" cy="153.60" r="1.61" stroke="#3030ff" stroke-width="0.7"/><circle cx="150.30" cy="155.60" r="1.61" stroke="#3030ff" stroke-width="0.7"/><circle cx="158.40" cy="157.60" r="1.61" stroke="#3030ff" stroke-width="0.7"/><circle cx="171.90" cy="160.00" r="1.61" stroke="#3030ff" stroke-width="0.7"/><circle cx="185.40" cy="161.10" r="1.61" stroke="#3030ff" stroke-width="0.7"/><circle cx="212.40" cy="161.10" r="1.61" stroke="#3030ff" stroke-width="0.7"/></g>
<rect x="132.10" y="109.50" width="83.30" height="53.60" fill="none" stroke="#8c8c8c" stroke-width="0.8"/>
<path d="M134.10,163.10v-0.9M134.10,109.50v0.9M139.50,163.10v-0.9M139.50,109.50v0.9M144.90,163.10v-0.9M144.90,109.50v0.9M150.30,163.10v-0.9M150.30,109.50v0.9M158.40,163.10v-0.9M158.40,109.50v0.9M171.90,163.10v-0.9M171.90,109.50v0.9M185.40,163.10v-0.9M185.40,109.50v0.9M212.40,163.10v-0.9M212.40,109.50v0.9M132.10,113.50h0.9M215.40,113.50h-0.9M132.10,133.80h0.9M215.40,133.80h-0.9M132.10,154.50h0.9M215.40,154.50h-0.9" stroke="#8c8c8c" stroke-width="0.6"/>
<g font-size="5.0" fill="#1e1e1e" stroke="#1e1e1e" stroke-width="0.09"><text x="134.10" y="169.70" text-anchor="middle">1</text><text x="139.50" y="169.70" text-anchor="middle">3</text><text x="144.90" y="169.70" text-anchor="middle">5</text><text x="150.30" y="169.70" text-anchor="middle">7</text><text x="158.40" y="169.70" text-anchor="middle">10</text><text x="171.90" y="169.70" text-anchor="middle">15</text><text x="185.40" y="169.70" text-anchor="middle">20</text><text x="212.40" y="169.70" text-anchor="middle">30</text><text x="129.80" y="115.60" text-anchor="end" font-size="4.75">0.4</text><text x="129.80" y="135.90" text-anchor="end" font-size="4.75">0.35</text><text x="129.80" y="156.60" text-anchor="end" font-size="4.75">0.3</text><text x="173.15" y="176.70" text-anchor="middle">k</text><text transform="translate(118.40,136.90) rotate(-90)" text-anchor="middle" fill="#222" font-size="5.2">RMSE</text></g>
<text x="173.75" y="107.00" text-anchor="middle" font-size="5.2" font-weight="bold" fill="#111" stroke="#111" stroke-width="0.08">(g) cadata</text>
<g fill="none"><polyline points="244.30,112.70 249.70,127.90 255.10,130.50 260.50,128.40 268.60,124.40 282.10,117.50 295.60,114.80 322.60,111.30" stroke="#ffb8b8" stroke-width="0.5"/><path d="M244.30,110.75L246.17,114.06L242.43,114.06Z" stroke="#ff3030" stroke-width="0.7"/><path d="M249.70,125.95L251.57,129.26L247.83,129.26Z" stroke="#ff3030" stroke-width="0.7"/><path d="M255.10,128.54L256.97,131.86L253.23,131.86Z" stroke="#ff3030" stroke-width="0.7"/><path d="M260.50,126.45L262.37,129.76L258.63,129.76Z" stroke="#ff3030" stroke-width="0.7"/><path d="M268.60,122.45L270.47,125.76L266.73,125.76Z" stroke="#ff3030" stroke-width="0.7"/><path d="M282.10,115.55L283.97,118.86L280.23,118.86Z" stroke="#ff3030" stroke-width="0.7"/><path d="M295.60,112.84L297.47,116.16L293.73,116.16Z" stroke="#ff3030" stroke-width="0.7"/><path d="M322.60,109.34L324.47,112.66L320.73,112.66Z" stroke="#ff3030" stroke-width="0.7"/><polyline points="244.30,113.00 249.70,129.00 255.10,131.00 260.50,129.50 268.60,125.50 282.10,119.60 295.60,117.50 322.60,114.80" stroke="#ffb8b8" stroke-width="0.5"/><path d="M244.30,110.79L245.92,113.00L244.30,115.21L242.69,113.00Z" stroke="#ff3030" stroke-width="0.7"/><path d="M249.70,126.79L251.32,129.00L249.70,131.21L248.09,129.00Z" stroke="#ff3030" stroke-width="0.7"/><path d="M255.10,128.79L256.72,131.00L255.10,133.21L253.49,131.00Z" stroke="#ff3030" stroke-width="0.7"/><path d="M260.50,127.29L262.12,129.50L260.50,131.71L258.88,129.50Z" stroke="#ff3030" stroke-width="0.7"/><path d="M268.60,123.29L270.22,125.50L268.60,127.71L266.99,125.50Z" stroke="#ff3030" stroke-width="0.7"/><path d="M282.10,117.39L283.72,119.60L282.10,121.81L280.49,119.60Z" stroke="#ff3030" stroke-width="0.7"/><path d="M295.60,115.29L297.22,117.50L295.60,119.71L293.99,117.50Z" stroke="#ff3030" stroke-width="0.7"/><path d="M322.60,112.59L324.22,114.80L322.60,117.01L320.99,114.80Z" stroke="#ff3030" stroke-width="0.7"/><polyline points="244.30,113.50 249.70,135.00 255.10,140.40 260.50,140.40 268.60,138.50 282.10,136.00 295.60,133.80 322.60,129.50" stroke="#ffb8b8" stroke-width="0.5"/><circle cx="244.30" cy="113.50" r="1.61" stroke="#ff3030" stroke-width="0.7"/><circle cx="249.70" cy="135.00" r="1.61" stroke="#ff3030" stroke-width="0.7"/><circle cx="255.10" cy="140.40" r="1.61" stroke="#ff3030" stroke-width="0.7"/><circle cx="260.50" cy="140.40" r="1.61" stroke="#ff3030" stroke-width="0.7"/><circle cx="268.60" cy="138.50" r="1.61" stroke="#ff3030" stroke-width="0.7"/><circle cx="282.10" cy="136.00" r="1.61" stroke="#ff3030" stroke-width="0.7"/><circle cx="295.60" cy="133.80" r="1.61" stroke="#ff3030" stroke-width="0.7"/><circle cx="322.60" cy="129.50" r="1.61" stroke="#ff3030" stroke-width="0.7"/><polyline points="244.30,112.70 249.70,132.30 255.10,134.90 260.50,136.00 268.60,136.70 282.10,133.80 295.60,131.60 322.60,127.90" stroke="#ff6cff" stroke-width="0.5" stroke-dasharray="2.2,0.8,0.6,0.8"/><path d="M244.30,110.75L246.17,114.06L242.43,114.06Z" stroke="#ff20ff" stroke-width="0.7"/><path d="M249.70,130.34L251.57,133.66L247.83,133.66Z" stroke="#ff20ff" stroke-width="0.7"/><path d="M255.10,132.94L256.97,136.26L253.23,136.26Z" stroke="#ff20ff" stroke-width="0.7"/><path d="M260.50,134.04L262.37,137.36L258.63,137.36Z" stroke="#ff20ff" stroke-width="0.7"/><path d="M268.60,134.74L270.47,138.06L266.73,138.06Z" stroke="#ff20ff" stroke-width="0.7"/><path d="M282.10,131.84L283.97,135.16L280.23,135.16Z" stroke="#ff20ff" stroke-width="0.7"/><path d="M295.60,129.64L297.47,132.96L293.73,132.96Z" stroke="#ff20ff" stroke-width="0.7"/><path d="M322.60,125.95L324.47,129.26L320.73,129.26Z" stroke="#ff20ff" stroke-width="0.7"/><polyline points="244.30,113.00 249.70,133.00 255.10,136.00 260.50,137.00 268.60,138.20 282.10,135.00 295.60,132.50 322.60,129.50" stroke="#ff6cff" stroke-width="0.5" stroke-dasharray="2.2,0.8,0.6,0.8"/><path d="M244.30,110.79L245.92,113.00L244.30,115.21L242.69,113.00Z" stroke="#ff20ff" stroke-width="0.7"/><path d="M249.70,130.79L251.32,133.00L249.70,135.21L248.09,133.00Z" stroke="#ff20ff" stroke-width="0.7"/><path d="M255.10,133.79L256.72,136.00L255.10,138.21L253.49,136.00Z" stroke="#ff20ff" stroke-width="0.7"/><path d="M260.50,134.79L262.12,137.00L260.50,139.21L258.88,137.00Z" stroke="#ff20ff" stroke-width="0.7"/><path d="M268.60,135.99L270.22,138.20L268.60,140.41L266.99,138.20Z" stroke="#ff20ff" stroke-width="0.7"/><path d="M282.10,132.79L283.72,135.00L282.10,137.21L280.49,135.00Z" stroke="#ff20ff" stroke-width="0.7"/><path d="M295.60,130.29L297.22,132.50L295.60,134.71L293.99,132.50Z" stroke="#ff20ff" stroke-width="0.7"/><path d="M322.60,127.29L324.22,129.50L322.60,131.71L320.99,129.50Z" stroke="#ff20ff" stroke-width="0.7"/><polyline points="244.30,113.50 249.70,146.90 255.10,149.50 260.50,149.10 268.60,145.80 282.10,145.80 295.60,143.20 322.60,139.30" stroke="#ff6cff" stroke-width="0.5" stroke-dasharray="2.2,0.8,0.6,0.8"/><circle cx="244.30" cy="113.50" r="1.61" stroke="#ff20ff" stroke-width="0.7"/><circle cx="249.70" cy="146.90" r="1.61" stroke="#ff20ff" stroke-width="0.7"/><circle cx="255.10" cy="149.50" r="1.61" stroke="#ff20ff" stroke-width="0.7"/><circle cx="260.50" cy="149.10" r="1.61" stroke="#ff20ff" stroke-width="0.7"/><circle cx="268.60" cy="145.80" r="1.61" stroke="#ff20ff" stroke-width="0.7"/><circle cx="282.10" cy="145.80" r="1.61" stroke="#ff20ff" stroke-width="0.7"/><circle cx="295.60" cy="143.20" r="1.61" stroke="#ff20ff" stroke-width="0.7"/><circle cx="322.60" cy="139.30" r="1.61" stroke="#ff20ff" stroke-width="0.7"/><polyline points="244.30,121.40 249.70,141.50 255.10,146.90 260.50,152.40 268.60,154.50 282.10,156.70 295.60,157.20 322.60,157.80" stroke="#4a4aff" stroke-width="0.6"/><path d="M244.30,119.45L246.17,122.76L242.43,122.76Z" stroke="#3030ff" stroke-width="0.7"/><path d="M249.70,139.54L251.57,142.86L247.83,142.86Z" stroke="#3030ff" stroke-width="0.7"/><path d="M255.10,144.94L256.97,148.26L253.23,148.26Z" stroke="#3030ff" stroke-width="0.7"/><path d="M260.50,150.44L262.37,153.76L258.63,153.76Z" stroke="#3030ff" stroke-width="0.7"/><path d="M268.60,152.54L270.47,155.86L266.73,155.86Z" stroke="#3030ff" stroke-width="0.7"/><path d="M282.10,154.74L283.97,158.06L280.23,158.06Z" stroke="#3030ff" stroke-width="0.7"/><path d="M295.60,155.24L297.47,158.56L293.73,158.56Z" stroke="#3030ff" stroke-width="0.7"/><path d="M322.60,155.84L324.47,159.16L320.73,159.16Z" stroke="#3030ff" stroke-width="0.7"/><polyline points="244.30,125.50 249.70,142.50 255.10,148.00 260.50,153.00 268.60,156.00 282.10,157.50 295.60,158.20 322.60,158.80" stroke="#4a4aff" stroke-width="0.6"/><path d="M244.30,123.29L245.92,125.50L244.30,127.71L242.69,125.50Z" stroke="#3030ff" stroke-width="0.7"/><path d="M249.70,140.29L251.32,142.50L249.70,144.71L248.09,142.50Z" stroke="#3030ff" stroke-width="0.7"/><path d="M255.10,145.79L256.72,148.00L255.10,150.21L253.49,148.00Z" stroke="#3030ff" stroke-width="0.7"/><path d="M260.50,150.79L262.12,153.00L260.50,155.21L258.88,153.00Z" stroke="#3030ff" stroke-width="0.7"/><path d="M268.60,153.79L270.22,156.00L268.60,158.21L266.99,156.00Z" stroke="#3030ff" stroke-width="0.7"/><path d="M282.10,155.29L283.72,157.50L282.10,159.71L280.49,157.50Z" stroke="#3030ff" stroke-width="0.7"/><path d="M295.60,155.99L297.22,158.20L295.60,160.41L293.99,158.20Z" stroke="#3030ff" stroke-width="0.7"/><path d="M322.60,156.59L324.22,158.80L322.60,161.01L320.99,158.80Z" stroke="#3030ff" stroke-width="0.7"/><polyline points="244.30,133.30 249.70,146.90 255.10,151.30 260.50,153.50 268.60,158.50 282.10,160.00 295.60,160.70 322.60,161.10" stroke="#4a4aff" stroke-width="0.6"/><circle cx="244.30" cy="133.30" r="1.61" stroke="#3030ff" stroke-width="0.7"/><circle cx="249.70" cy="146.90" r="1.61" stroke="#3030ff" stroke-width="0.7"/><circle cx="255.10" cy="151.30" r="1.61" stroke="#3030ff" stroke-width="0.7"/><circle cx="260.50" cy="153.50" r="1.61" stroke="#3030ff" stroke-width="0.7"/><circle cx="268.60" cy="158.50" r="1.61" stroke="#3030ff" stroke-width="0.7"/><circle cx="282.10" cy="160.00" r="1.61" stroke="#3030ff" stroke-width="0.7"/><circle cx="295.60" cy="160.70" r="1.61" stroke="#3030ff" stroke-width="0.7"/><circle cx="322.60" cy="161.10" r="1.61" stroke="#3030ff" stroke-width="0.7"/></g>
<rect x="242.30" y="109.50" width="83.30" height="53.60" fill="none" stroke="#8c8c8c" stroke-width="0.8"/>
<path d="M244.30,163.10v-0.9M244.30,109.50v0.9M249.70,163.10v-0.9M249.70,109.50v0.9M255.10,163.10v-0.9M255.10,109.50v0.9M260.50,163.10v-0.9M260.50,109.50v0.9M268.60,163.10v-0.9M268.60,109.50v0.9M282.10,163.10v-0.9M282.10,109.50v0.9M295.60,163.10v-0.9M295.60,109.50v0.9M322.60,163.10v-0.9M322.60,109.50v0.9M242.30,116.40h0.9M325.60,116.40h-0.9M242.30,125.70h0.9M325.60,125.70h-0.9M242.30,134.30h0.9M325.60,134.30h-0.9M242.30,143.60h0.9M325.60,143.60h-0.9M242.30,152.40h0.9M325.60,152.40h-0.9M242.30,161.10h0.9M325.60,161.10h-0.9" stroke="#8c8c8c" stroke-width="0.6"/>
<g font-size="5.0" fill="#1e1e1e" stroke="#1e1e1e" stroke-width="0.09"><text x="244.30" y="169.70" text-anchor="middle">1</text><text x="249.70" y="169.70" text-anchor="middle">3</text><text x="255.10" y="169.70" text-anchor="middle">5</text><text x="260.50" y="169.70" text-anchor="middle">7</text><text x="268.60" y="169.70" text-anchor="middle">10</text><text x="282.10" y="169.70" text-anchor="middle">15</text><text x="295.60" y="169.70" text-anchor="middle">20</text><text x="322.60" y="169.70" text-anchor="middle">30</text><text x="240.00" y="118.50" text-anchor="end" font-size="4.75">0.28</text><text x="240.00" y="127.80" text-anchor="end" font-size="4.75">0.26</text><text x="240.00" y="136.40" text-anchor="end" font-size="4.75">0.24</text><text x="240.00" y="145.70" text-anchor="end" font-size="4.75">0.22</text><text x="240.00" y="154.50" text-anchor="end" font-size="4.75">0.2</text><text x="240.00" y="163.20" text-anchor="end" font-size="4.75">0.18</text><text x="283.35" y="176.70" text-anchor="middle">k</text><text transform="translate(228.60,136.90) rotate(-90)" text-anchor="middle" fill="#222" font-size="5.2">RMSE</text></g>
<text x="283.95" y="107.00" text-anchor="middle" font-size="5.2" font-weight="bold" fill="#111" stroke="#111" stroke-width="0.08">(h) concretecs</text>
<g fill="none"><polyline points="354.50,154.10 359.90,157.80 365.30,157.80 370.70,156.70 378.80,152.40 392.30,144.30 405.80,134.90 432.80,122.50" stroke="#ffb8b8" stroke-width="0.5"/><path d="M354.50,152.14L356.37,155.46L352.63,155.46Z" stroke="#ff3030" stroke-width="0.7"/><path d="M359.90,155.84L361.77,159.16L358.03,159.16Z" stroke="#ff3030" stroke-width="0.7"/><path d="M365.30,155.84L367.17,159.16L363.43,159.16Z" stroke="#ff3030" stroke-width="0.7"/><path d="M370.70,154.74L372.57,158.06L368.83,158.06Z" stroke="#ff3030" stroke-width="0.7"/><path d="M378.80,150.44L380.67,153.76L376.93,153.76Z" stroke="#ff3030" stroke-width="0.7"/><path d="M392.30,142.34L394.17,145.66L390.43,145.66Z" stroke="#ff3030" stroke-width="0.7"/><path d="M405.80,132.94L407.67,136.26L403.93,136.26Z" stroke="#ff3030" stroke-width="0.7"/><path d="M432.80,120.55L434.67,123.86L430.93,123.86Z" stroke="#ff3030" stroke-width="0.7"/><polyline points="354.50,154.50 359.90,158.00 365.30,158.00 370.70,157.50 378.80,154.00 392.30,149.10 405.80,140.40 432.80,126.60" stroke="#ffb8b8" stroke-width="0.5"/><path d="M354.50,152.29L356.12,154.50L354.50,156.71L352.88,154.50Z" stroke="#ff3030" stroke-width="0.7"/><path d="M359.90,155.79L361.51,158.00L359.90,160.21L358.28,158.00Z" stroke="#ff3030" stroke-width="0.7"/><path d="M365.30,155.79L366.92,158.00L365.30,160.21L363.69,158.00Z" stroke="#ff3030" stroke-width="0.7"/><path d="M370.70,155.29L372.31,157.50L370.70,159.71L369.08,157.50Z" stroke="#ff3030" stroke-width="0.7"/><path d="M378.80,151.79L380.42,154.00L378.80,156.21L377.19,154.00Z" stroke="#ff3030" stroke-width="0.7"/><path d="M392.30,146.89L393.92,149.10L392.30,151.31L390.69,149.10Z" stroke="#ff3030" stroke-width="0.7"/><path d="M405.80,138.19L407.42,140.40L405.80,142.61L404.19,140.40Z" stroke="#ff3030" stroke-width="0.7"/><path d="M432.80,124.39L434.42,126.60L432.80,128.81L431.19,126.60Z" stroke="#ff3030" stroke-width="0.7"/><polyline points="354.50,142.10 359.90,144.30 365.30,141.00 370.70,138.20 378.80,133.80 392.30,127.30 405.80,121.20 432.80,112.00" stroke="#ffb8b8" stroke-width="0.5"/><circle cx="354.50" cy="142.10" r="1.61" stroke="#ff3030" stroke-width="0.7"/><circle cx="359.90" cy="144.30" r="1.61" stroke="#ff3030" stroke-width="0.7"/><circle cx="365.30" cy="141.00" r="1.61" stroke="#ff3030" stroke-width="0.7"/><circle cx="370.70" cy="138.20" r="1.61" stroke="#ff3030" stroke-width="0.7"/><circle cx="378.80" cy="133.80" r="1.61" stroke="#ff3030" stroke-width="0.7"/><circle cx="392.30" cy="127.30" r="1.61" stroke="#ff3030" stroke-width="0.7"/><circle cx="405.80" cy="121.20" r="1.61" stroke="#ff3030" stroke-width="0.7"/><circle cx="432.80" cy="112.00" r="1.61" stroke="#ff3030" stroke-width="0.7"/><polyline points="354.50,154.10 359.90,158.00 365.30,158.20 370.70,158.00 378.80,156.00 392.30,150.20 405.80,143.60 432.80,132.30" stroke="#ff6cff" stroke-width="0.5" stroke-dasharray="2.2,0.8,0.6,0.8"/><path d="M354.50,152.14L356.37,155.46L352.63,155.46Z" stroke="#ff20ff" stroke-width="0.7"/><path d="M359.90,156.04L361.77,159.36L358.03,159.36Z" stroke="#ff20ff" stroke-width="0.7"/><path d="M365.30,156.24L367.17,159.56L363.43,159.56Z" stroke="#ff20ff" stroke-width="0.7"/><path d="M370.70,156.04L372.57,159.36L368.83,159.36Z" stroke="#ff20ff" stroke-width="0.7"/><path d="M378.80,154.04L380.67,157.36L376.93,157.36Z" stroke="#ff20ff" stroke-width="0.7"/><path d="M392.30,148.24L394.17,151.56L390.43,151.56Z" stroke="#ff20ff" stroke-width="0.7"/><path d="M405.80,141.64L407.67,144.96L403.93,144.96Z" stroke="#ff20ff" stroke-width="0.7"/><path d="M432.80,130.34L434.67,133.66L430.93,133.66Z" stroke="#ff20ff" stroke-width="0.7"/><polyline points="354.50,154.50 359.90,158.20 365.30,158.50 370.70,158.50 378.80,157.50 392.30,152.50 405.80,146.90 432.80,137.10" stroke="#ff6cff" stroke-width="0.5" stroke-dasharray="2.2,0.8,0.6,0.8"/><path d="M354.50,152.29L356.12,154.50L354.50,156.71L352.88,154.50Z" stroke="#ff20ff" stroke-width="0.7"/><path d="M359.90,155.99L361.51,158.20L359.90,160.41L358.28,158.20Z" stroke="#ff20ff" stroke-width="0.7"/><path d="M365.30,156.29L366.92,158.50L365.30,160.71L363.69,158.50Z" stroke="#ff20ff" stroke-width="0.7"/><path d="M370.70,156.29L372.31,158.50L370.70,160.71L369.08,158.50Z" stroke="#ff20ff" stroke-width="0.7"/><path d="M378.80,155.29L380.42,157.50L378.80,159.71L377.19,157.50Z" stroke="#ff20ff" stroke-width="0.7"/><path d="M392.30,150.29L393.92,152.50L392.30,154.71L390.69,152.50Z" stroke="#ff20ff" stroke-width="0.7"/><path d="M405.80,144.69L407.42,146.90L405.80,149.11L404.19,146.90Z" stroke="#ff20ff" stroke-width="0.7"/><path d="M432.80,134.89L434.42,137.10L432.80,139.31L431.19,137.10Z" stroke="#ff20ff" stroke-width="0.7"/><polyline points="354.50,142.10 359.90,144.50 365.30,142.50 370.70,140.40 378.80,137.10 392.30,132.10 405.80,127.30 432.80,119.20" stroke="#ff6cff" stroke-width="0.5" stroke-dasharray="2.2,0.8,0.6,0.8"/><circle cx="354.50" cy="142.10" r="1.61" stroke="#ff20ff" stroke-width="0.7"/><circle cx="359.90" cy="144.50" r="1.61" stroke="#ff20ff" stroke-width="0.7"/><circle cx="365.30" cy="142.50" r="1.61" stroke="#ff20ff" stroke-width="0.7"/><circle cx="370.70" cy="140.40" r="1.61" stroke="#ff20ff" stroke-width="0.7"/><circle cx="378.80" cy="137.10" r="1.61" stroke="#ff20ff" stroke-width="0.7"/><circle cx="392.30" cy="132.10" r="1.61" stroke="#ff20ff" stroke-width="0.7"/><circle cx="405.80" cy="127.30" r="1.61" stroke="#ff20ff" stroke-width="0.7"/><circle cx="432.80" cy="119.20" r="1.61" stroke="#ff20ff" stroke-width="0.7"/><polyline points="354.50,154.10 359.90,157.80 365.30,157.80 370.70,158.50 378.80,158.90 392.30,159.30 405.80,159.30 432.80,159.30" stroke="#4a4aff" stroke-width="0.6"/><path d="M354.50,152.14L356.37,155.46L352.63,155.46Z" stroke="#3030ff" stroke-width="0.7"/><path d="M359.90,155.84L361.77,159.16L358.03,159.16Z" stroke="#3030ff" stroke-width="0.7"/><path d="M365.30,155.84L367.17,159.16L363.43,159.16Z" stroke="#3030ff" stroke-width="0.7"/><path d="M370.70,156.54L372.57,159.86L368.83,159.86Z" stroke="#3030ff" stroke-width="0.7"/><path d="M378.80,156.94L380.67,160.26L376.93,160.26Z" stroke="#3030ff" stroke-width="0.7"/><path d="M392.30,157.34L394.17,160.66L390.43,160.66Z" stroke="#3030ff" stroke-width="0.7"/><path d="M405.80,157.34L407.67,160.66L403.93,160.66Z" stroke="#3030ff" stroke-width="0.7"/><path d="M432.80,157.34L434.67,160.66L430.93,160.66Z" stroke="#3030ff" stroke-width="0.7"/><polyline points="354.50,154.50 359.90,157.50 365.30,157.50 370.70,158.00 378.80,158.50 392.30,159.00 405.80,159.00 432.80,159.00" stroke="#4a4aff" stroke-width="0.6"/><path d="M354.50,152.29L356.12,154.50L354.50,156.71L352.88,154.50Z" stroke="#3030ff" stroke-width="0.7"/><path d="M359.90,155.29L361.51,157.50L359.90,159.71L358.28,157.50Z" stroke="#3030ff" stroke-width="0.7"/><path d="M365.30,155.29L366.92,157.50L365.30,159.71L363.69,157.50Z" stroke="#3030ff" stroke-width="0.7"/><path d="M370.70,155.79L372.31,158.00L370.70,160.21L369.08,158.00Z" stroke="#3030ff" stroke-width="0.7"/><path d="M378.80,156.29L380.42,158.50L378.80,160.71L377.19,158.50Z" stroke="#3030ff" stroke-width="0.7"/><path d="M392.30,156.79L393.92,159.00L392.30,161.21L390.69,159.00Z" stroke="#3030ff" stroke-width="0.7"/><path d="M405.80,156.79L407.42,159.00L405.80,161.21L404.19,159.00Z" stroke="#3030ff" stroke-width="0.7"/><path d="M432.80,156.79L434.42,159.00L432.80,161.21L431.19,159.00Z" stroke="#3030ff" stroke-width="0.7"/><polyline points="354.50,146.90 359.90,150.20 365.30,149.70 370.70,152.40 378.80,153.50 392.30,154.10 405.80,155.20 432.80,155.20" stroke="#4a4aff" stroke-width="0.6"/><circle cx="354.50" cy="146.90" r="1.61" stroke="#3030ff" stroke-width="0.7"/><circle cx="359.90" cy="150.20" r="1.61" stroke="#3030ff" stroke-width="0.7"/><circle cx="365.30" cy="149.70" r="1.61" stroke="#3030ff" stroke-width="0.7"/><circle cx="370.70" cy="152.40" r="1.61" stroke="#3030ff" stroke-width="0.7"/><circle cx="378.80" cy="153.50" r="1.61" stroke="#3030ff" stroke-width="0.7"/><circle cx="392.30" cy="154.10" r="1.61" stroke="#3030ff" stroke-width="0.7"/><circle cx="405.80" cy="155.20" r="1.61" stroke="#3030ff" stroke-width="0.7"/><circle cx="432.80" cy="155.20" r="1.61" stroke="#3030ff" stroke-width="0.7"/></g>
<rect x="352.50" y="109.50" width="83.30" height="53.60" fill="none" stroke="#8c8c8c" stroke-width="0.8"/>
<path d="M354.50,163.10v-0.9M354.50,109.50v0.9M359.90,163.10v-0.9M359.90,109.50v0.9M365.30,163.10v-0.9M365.30,109.50v0.9M370.70,163.10v-0.9M370.70,109.50v0.9M378.80,163.10v-0.9M378.80,109.50v0.9M392.30,163.10v-0.9M392.30,109.50v0.9M405.80,163.10v-0.9M405.80,109.50v0.9M432.80,163.10v-0.9M432.80,109.50v0.9M352.50,113.10h0.9M435.80,113.10h-0.9M352.50,126.20h0.9M435.80,126.20h-0.9M352.50,139.90h0.9M435.80,139.90h-0.9M352.50,153.00h0.9M435.80,153.00h-0.9" stroke="#8c8c8c" stroke-width="0.6"/>
<g font-size="5.0" fill="#1e1e1e" stroke="#1e1e1e" stroke-width="0.09"><text x="354.50" y="169.70" text-anchor="middle">1</text><text x="359.90" y="169.70" text-anchor="middle">3</text><text x="365.30" y="169.70" text-anchor="middle">5</text><text x="370.70" y="169.70" text-anchor="middle">7</text><text x="378.80" y="169.70" text-anchor="middle">10</text><text x="392.30" y="169.70" text-anchor="middle">15</text><text x="405.80" y="169.70" text-anchor="middle">20</text><text x="432.80" y="169.70" text-anchor="middle">30</text><text x="350.20" y="115.20" text-anchor="end" font-size="4.75">0.25</text><text x="350.20" y="128.30" text-anchor="end" font-size="4.75">0.2</text><text x="350.20" y="142.00" text-anchor="end" font-size="4.75">0.15</text><text x="350.20" y="155.10" text-anchor="end" font-size="4.75">0.1</text><text x="393.55" y="176.70" text-anchor="middle">k</text><text transform="translate(338.80,136.90) rotate(-90)" text-anchor="middle" fill="#222" font-size="5.2">RMSE</text></g>
<text x="394.15" y="107.00" text-anchor="middle" font-size="5.2" font-weight="bold" fill="#111" stroke="#111" stroke-width="0.08">(i) cpusmall</text>
<g fill="none"><polyline points="464.60,144.70 470.00,147.00 475.40,147.00 480.80,146.40 488.90,144.70 502.40,142.00 515.90,140.30 542.90,136.80" stroke="#ffb8b8" stroke-width="0.5"/><path d="M464.60,142.74L466.47,146.06L462.73,146.06Z" stroke="#ff3030" stroke-width="0.7"/><path d="M470.00,145.04L471.87,148.36L468.13,148.36Z" stroke="#ff3030" stroke-width="0.7"/><path d="M475.40,145.04L477.27,148.36L473.53,148.36Z" stroke="#ff3030" stroke-width="0.7"/><path d="M480.80,144.44L482.67,147.76L478.93,147.76Z" stroke="#ff3030" stroke-width="0.7"/><path d="M488.90,142.74L490.77,146.06L487.03,146.06Z" stroke="#ff3030" stroke-width="0.7"/><path d="M502.40,140.04L504.27,143.36L500.53,143.36Z" stroke="#ff3030" stroke-width="0.7"/><path d="M515.90,138.34L517.77,141.66L514.03,141.66Z" stroke="#ff3030" stroke-width="0.7"/><path d="M542.90,134.84L544.77,138.16L541.03,138.16Z" stroke="#ff3030" stroke-width="0.7"/><polyline points="464.60,144.70 470.00,145.90 475.40,145.20 480.80,143.80 488.90,141.20 502.40,138.20 515.90,136.40 542.90,132.90" stroke="#ffb8b8" stroke-width="0.5"/><path d="M464.60,142.49L466.22,144.70L464.60,146.91L462.99,144.70Z" stroke="#ff3030" stroke-width="0.7"/><path d="M470.00,143.69L471.62,145.90L470.00,148.11L468.38,145.90Z" stroke="#ff3030" stroke-width="0.7"/><path d="M475.40,142.99L477.02,145.20L475.40,147.41L473.79,145.20Z" stroke="#ff3030" stroke-width="0.7"/><path d="M480.80,141.59L482.42,143.80L480.80,146.01L479.19,143.80Z" stroke="#ff3030" stroke-width="0.7"/><path d="M488.90,138.99L490.52,141.20L488.90,143.41L487.29,141.20Z" stroke="#ff3030" stroke-width="0.7"/><path d="M502.40,135.99L504.02,138.20L502.40,140.41L500.79,138.20Z" stroke="#ff3030" stroke-width="0.7"/><path d="M515.90,134.19L517.51,136.40L515.90,138.61L514.28,136.40Z" stroke="#ff3030" stroke-width="0.7"/><path d="M542.90,130.69L544.52,132.90L542.90,135.11L541.29,132.90Z" stroke="#ff3030" stroke-width="0.7"/><polyline points="464.60,135.90 470.00,144.70 475.40,143.40 480.80,141.20 488.90,138.50 502.40,134.10 515.90,132.40 542.90,127.70" stroke="#ffb8b8" stroke-width="0.5"/><circle cx="464.60" cy="135.90" r="1.61" stroke="#ff3030" stroke-width="0.7"/><circle cx="470.00" cy="144.70" r="1.61" stroke="#ff3030" stroke-width="0.7"/><circle cx="475.40" cy="143.40" r="1.61" stroke="#ff3030" stroke-width="0.7"/><circle cx="480.80" cy="141.20" r="1.61" stroke="#ff3030" stroke-width="0.7"/><circle cx="488.90" cy="138.50" r="1.61" stroke="#ff3030" stroke-width="0.7"/><circle cx="502.40" cy="134.10" r="1.61" stroke="#ff3030" stroke-width="0.7"/><circle cx="515.90" cy="132.40" r="1.61" stroke="#ff3030" stroke-width="0.7"/><circle cx="542.90" cy="127.70" r="1.61" stroke="#ff3030" stroke-width="0.7"/><polyline points="464.60,144.70 470.00,148.20 475.40,148.70 480.80,148.20 488.90,148.20 502.40,144.70 515.90,143.40 542.90,140.30" stroke="#ff6cff" stroke-width="0.5" stroke-dasharray="2.2,0.8,0.6,0.8"/><path d="M464.60,142.74L466.47,146.06L462.73,146.06Z" stroke="#ff20ff" stroke-width="0.7"/><path d="M470.00,146.24L471.87,149.56L468.13,149.56Z" stroke="#ff20ff" stroke-width="0.7"/><path d="M475.40,146.74L477.27,150.06L473.53,150.06Z" stroke="#ff20ff" stroke-width="0.7"/><path d="M480.80,146.24L482.67,149.56L478.93,149.56Z" stroke="#ff20ff" stroke-width="0.7"/><path d="M488.90,146.24L490.77,149.56L487.03,149.56Z" stroke="#ff20ff" stroke-width="0.7"/><path d="M502.40,142.74L504.27,146.06L500.53,146.06Z" stroke="#ff20ff" stroke-width="0.7"/><path d="M515.90,141.44L517.77,144.76L514.03,144.76Z" stroke="#ff20ff" stroke-width="0.7"/><path d="M542.90,138.34L544.77,141.66L541.03,141.66Z" stroke="#ff20ff" stroke-width="0.7"/><polyline points="464.60,111.90 470.00,131.50 475.40,135.00 480.80,135.90 488.90,135.00 502.40,133.30 515.90,132.40 542.90,131.50" stroke="#ff6cff" stroke-width="0.5" stroke-dasharray="2.2,0.8,0.6,0.8"/><path d="M464.60,109.69L466.22,111.90L464.60,114.11L462.99,111.90Z" stroke="#ff20ff" stroke-width="0.7"/><path d="M470.00,129.29L471.62,131.50L470.00,133.71L468.38,131.50Z" stroke="#ff20ff" stroke-width="0.7"/><path d="M475.40,132.79L477.02,135.00L475.40,137.21L473.79,135.00Z" stroke="#ff20ff" stroke-width="0.7"/><path d="M480.80,133.69L482.42,135.90L480.80,138.11L479.19,135.90Z" stroke="#ff20ff" stroke-width="0.7"/><path d="M488.90,132.79L490.52,135.00L488.90,137.21L487.29,135.00Z" stroke="#ff20ff" stroke-width="0.7"/><path d="M502.40,131.09L504.02,133.30L502.40,135.51L500.79,133.30Z" stroke="#ff20ff" stroke-width="0.7"/><path d="M515.90,130.19L517.51,132.40L515.90,134.61L514.28,132.40Z" stroke="#ff20ff" stroke-width="0.7"/><path d="M542.90,129.29L544.52,131.50L542.90,133.71L541.29,131.50Z" stroke="#ff20ff" stroke-width="0.7"/><polyline points="464.60,135.90 470.00,145.50 475.40,144.50 480.80,143.00 488.90,140.50 502.40,135.00 515.90,134.00 542.90,131.00" stroke="#ff6cff" stroke-width="0.5" stroke-dasharray="2.2,0.8,0.6,0.8"/><circle cx="464.60" cy="135.90" r="1.61" stroke="#ff20ff" stroke-width="0.7"/><circle cx="470.00" cy="145.50" r="1.61" stroke="#ff20ff" stroke-width="0.7"/><circle cx="475.40" cy="144.50" r="1.61" stroke="#ff20ff" stroke-width="0.7"/><circle cx="480.80" cy="143.00" r="1.61" stroke="#ff20ff" stroke-width="0.7"/><circle cx="488.90" cy="140.50" r="1.61" stroke="#ff20ff" stroke-width="0.7"/><circle cx="502.40" cy="135.00" r="1.61" stroke="#ff20ff" stroke-width="0.7"/><circle cx="515.90" cy="134.00" r="1.61" stroke="#ff20ff" stroke-width="0.7"/><circle cx="542.90" cy="131.00" r="1.61" stroke="#ff20ff" stroke-width="0.7"/><polyline points="464.60,139.40 470.00,156.90 475.40,158.70 480.80,159.50 488.90,159.50 502.40,159.50 515.90,159.50 542.90,159.50" stroke="#4a4aff" stroke-width="0.6"/><path d="M464.60,137.44L466.47,140.76L462.73,140.76Z" stroke="#3030ff" stroke-width="0.7"/><path d="M470.00,154.94L471.87,158.26L468.13,158.26Z" stroke="#3030ff" stroke-width="0.7"/><path d="M475.40,156.74L477.27,160.06L473.53,160.06Z" stroke="#3030ff" stroke-width="0.7"/><path d="M480.80,157.54L482.67,160.86L478.93,160.86Z" stroke="#3030ff" stroke-width="0.7"/><path d="M488.90,157.54L490.77,160.86L487.03,160.86Z" stroke="#3030ff" stroke-width="0.7"/><path d="M502.40,157.54L504.27,160.86L500.53,160.86Z" stroke="#3030ff" stroke-width="0.7"/><path d="M515.90,157.54L517.77,160.86L514.03,160.86Z" stroke="#3030ff" stroke-width="0.7"/><path d="M542.90,157.54L544.77,160.86L541.03,160.86Z" stroke="#3030ff" stroke-width="0.7"/><polyline points="464.60,142.90 470.00,147.30 475.40,155.00 480.80,158.50 488.90,158.80 502.40,158.80 515.90,158.80 542.90,158.80" stroke="#4a4aff" stroke-width="0.6"/><path d="M464.60,140.69L466.22,142.90L464.60,145.11L462.99,142.90Z" stroke="#3030ff" stroke-width="0.7"/><path d="M470.00,145.09L471.62,147.30L470.00,149.51L468.38,147.30Z" stroke="#3030ff" stroke-width="0.7"/><path d="M475.40,152.79L477.02,155.00L475.40,157.21L473.79,155.00Z" stroke="#3030ff" stroke-width="0.7"/><path d="M480.80,156.29L482.42,158.50L480.80,160.71L479.19,158.50Z" stroke="#3030ff" stroke-width="0.7"/><path d="M488.90,156.59L490.52,158.80L488.90,161.01L487.29,158.80Z" stroke="#3030ff" stroke-width="0.7"/><path d="M502.40,156.59L504.02,158.80L502.40,161.01L500.79,158.80Z" stroke="#3030ff" stroke-width="0.7"/><path d="M515.90,156.59L517.51,158.80L515.90,161.01L514.28,158.80Z" stroke="#3030ff" stroke-width="0.7"/><path d="M542.90,156.59L544.52,158.80L542.90,161.01L541.29,158.80Z" stroke="#3030ff" stroke-width="0.7"/><polyline points="464.60,128.90 470.00,148.20 475.40,154.30 480.80,157.80 488.90,157.80 502.40,158.00 515.90,158.00 542.90,158.00" stroke="#4a4aff" stroke-width="0.6"/><circle cx="464.60" cy="128.90" r="1.61" stroke="#3030ff" stroke-width="0.7"/><circle cx="470.00" cy="148.20" r="1.61" stroke="#3030ff" stroke-width="0.7"/><circle cx="475.40" cy="154.30" r="1.61" stroke="#3030ff" stroke-width="0.7"/><circle cx="480.80" cy="157.80" r="1.61" stroke="#3030ff" stroke-width="0.7"/><circle cx="488.90" cy="157.80" r="1.61" stroke="#3030ff" stroke-width="0.7"/><circle cx="502.40" cy="158.00" r="1.61" stroke="#3030ff" stroke-width="0.7"/><circle cx="515.90" cy="158.00" r="1.61" stroke="#3030ff" stroke-width="0.7"/><circle cx="542.90" cy="158.00" r="1.61" stroke="#3030ff" stroke-width="0.7"/></g>
<rect x="462.60" y="109.50" width="83.30" height="53.60" fill="none" stroke="#8c8c8c" stroke-width="0.8"/>
<path d="M464.60,163.10v-0.9M464.60,109.50v0.9M470.00,163.10v-0.9M470.00,109.50v0.9M475.40,163.10v-0.9M475.40,109.50v0.9M480.80,163.10v-0.9M480.80,109.50v0.9M488.90,163.10v-0.9M488.90,109.50v0.9M502.40,163.10v-0.9M502.40,109.50v0.9M515.90,163.10v-0.9M515.90,109.50v0.9M542.90,163.10v-0.9M542.90,109.50v0.9M462.60,113.10h0.9M545.90,113.10h-0.9M462.60,124.70h0.9M545.90,124.70h-0.9M462.60,136.00h0.9M545.90,136.00h-0.9M462.60,148.40h0.9M545.90,148.40h-0.9M462.60,160.40h0.9M545.90,160.40h-0.9" stroke="#8c8c8c" stroke-width="0.6"/>
<g font-size="5.0" fill="#1e1e1e" stroke="#1e1e1e" stroke-width="0.09"><text x="464.60" y="169.70" text-anchor="middle">1</text><text x="470.00" y="169.70" text-anchor="middle">3</text><text x="475.40" y="169.70" text-anchor="middle">5</text><text x="480.80" y="169.70" text-anchor="middle">7</text><text x="488.90" y="169.70" text-anchor="middle">10</text><text x="502.40" y="169.70" text-anchor="middle">15</text><text x="515.90" y="169.70" text-anchor="middle">20</text><text x="542.90" y="169.70" text-anchor="middle">30</text><text x="460.30" y="115.20" text-anchor="end" font-size="4.75">0.25</text><text x="460.30" y="126.80" text-anchor="end" font-size="4.75">0.2</text><text x="460.30" y="138.10" text-anchor="end" font-size="4.75">0.15</text><text x="460.30" y="150.50" text-anchor="end" font-size="4.75">0.1</text><text x="460.30" y="162.50" text-anchor="end" font-size="4.75">0.05</text><text x="503.65" y="176.70" text-anchor="middle">k</text><text transform="translate(448.90,136.90) rotate(-90)" text-anchor="middle" fill="#222" font-size="5.2">RMSE</text></g>
<text x="504.25" y="107.00" text-anchor="middle" font-size="5.2" font-weight="bold" fill="#111" stroke="#111" stroke-width="0.08">(j) efficiency</text>
<g fill="none"><polyline points="24.00,212.00 29.40,214.20 34.80,210.50 40.20,208.30 48.30,205.50 61.80,201.10 75.30,196.70 102.30,190.20" stroke="#ffb8b8" stroke-width="0.5"/><path d="M24.00,210.04L25.87,213.36L22.13,213.36Z" stroke="#ff3030" stroke-width="0.7"/><path d="M29.40,212.24L31.27,215.56L27.53,215.56Z" stroke="#ff3030" stroke-width="0.7"/><path d="M34.80,208.54L36.67,211.86L32.93,211.86Z" stroke="#ff3030" stroke-width="0.7"/><path d="M40.20,206.34L42.07,209.66L38.33,209.66Z" stroke="#ff3030" stroke-width="0.7"/><path d="M48.30,203.54L50.17,206.86L46.43,206.86Z" stroke="#ff3030" stroke-width="0.7"/><path d="M61.80,199.14L63.67,202.46L59.93,202.46Z" stroke="#ff3030" stroke-width="0.7"/><path d="M75.30,194.74L77.17,198.06L73.43,198.06Z" stroke="#ff3030" stroke-width="0.7"/><path d="M102.30,188.24L104.17,191.56L100.43,191.56Z" stroke="#ff3030" stroke-width="0.7"/><polyline points="24.00,213.00 29.40,215.00 34.80,212.00 40.20,211.00 48.30,208.70 61.80,203.30 75.30,198.90 102.30,192.40" stroke="#ffb8b8" stroke-width="0.5"/><path d="M24.00,210.79L25.61,213.00L24.00,215.21L22.39,213.00Z" stroke="#ff3030" stroke-width="0.7"/><path d="M29.40,212.79L31.01,215.00L29.40,217.21L27.79,215.00Z" stroke="#ff3030" stroke-width="0.7"/><path d="M34.80,209.79L36.41,212.00L34.80,214.21L33.18,212.00Z" stroke="#ff3030" stroke-width="0.7"/><path d="M40.20,208.79L41.82,211.00L40.20,213.21L38.59,211.00Z" stroke="#ff3030" stroke-width="0.7"/><path d="M48.30,206.49L49.91,208.70L48.30,210.91L46.68,208.70Z" stroke="#ff3030" stroke-width="0.7"/><path d="M61.80,201.09L63.42,203.30L61.80,205.51L60.19,203.30Z" stroke="#ff3030" stroke-width="0.7"/><path d="M75.30,196.69L76.92,198.90L75.30,201.11L73.69,198.90Z" stroke="#ff3030" stroke-width="0.7"/><path d="M102.30,190.19L103.92,192.40L102.30,194.61L100.69,192.40Z" stroke="#ff3030" stroke-width="0.7"/><polyline points="24.00,212.00 29.40,216.00 34.80,214.00 40.20,214.20 48.30,210.00 61.80,205.00 75.30,200.00 102.30,188.00" stroke="#ffb8b8" stroke-width="0.5"/><circle cx="24.00" cy="212.00" r="1.61" stroke="#ff3030" stroke-width="0.7"/><circle cx="29.40" cy="216.00" r="1.61" stroke="#ff3030" stroke-width="0.7"/><circle cx="34.80" cy="214.00" r="1.61" stroke="#ff3030" stroke-width="0.7"/><circle cx="40.20" cy="214.20" r="1.61" stroke="#ff3030" stroke-width="0.7"/><circle cx="48.30" cy="210.00" r="1.61" stroke="#ff3030" stroke-width="0.7"/><circle cx="61.80" cy="205.00" r="1.61" stroke="#ff3030" stroke-width="0.7"/><circle cx="75.30" cy="200.00" r="1.61" stroke="#ff3030" stroke-width="0.7"/><circle cx="102.30" cy="188.00" r="1.61" stroke="#ff3030" stroke-width="0.7"/><polyline points="24.00,214.20 29.40,227.90 34.80,221.00 40.20,219.00 48.30,217.00 61.80,213.00 75.30,208.50 102.30,201.70" stroke="#ff6cff" stroke-width="0.5" stroke-dasharray="2.2,0.8,0.6,0.8"/><path d="M24.00,212.24L25.87,215.56L22.13,215.56Z" stroke="#ff20ff" stroke-width="0.7"/><path d="M29.40,225.94L31.27,229.26L27.53,229.26Z" stroke="#ff20ff" stroke-width="0.7"/><path d="M34.80,219.04L36.67,222.36L32.93,222.36Z" stroke="#ff20ff" stroke-width="0.7"/><path d="M40.20,217.04L42.07,220.36L38.33,220.36Z" stroke="#ff20ff" stroke-width="0.7"/><path d="M48.30,215.04L50.17,218.36L46.43,218.36Z" stroke="#ff20ff" stroke-width="0.7"/><path d="M61.80,211.04L63.67,214.36L59.93,214.36Z" stroke="#ff20ff" stroke-width="0.7"/><path d="M75.30,206.54L77.17,209.86L73.43,209.86Z" stroke="#ff20ff" stroke-width="0.7"/><path d="M102.30,199.74L104.17,203.06L100.43,203.06Z" stroke="#ff20ff" stroke-width="0.7"/><polyline points="24.00,216.40 29.40,224.00 34.80,221.00 40.20,218.00 48.30,217.50 61.80,212.00 75.30,207.60 102.30,201.70" stroke="#ff6cff" stroke-width="0.5" stroke-dasharray="2.2,0.8,0.6,0.8"/><path d="M24.00,214.19L25.61,216.40L24.00,218.61L22.39,216.40Z" stroke="#ff20ff" stroke-width="0.7"/><path d="M29.40,221.79L31.01,224.00L29.40,226.21L27.79,224.00Z" stroke="#ff20ff" stroke-width="0.7"/><path d="M34.80,218.79L36.41,221.00L34.80,223.21L33.18,221.00Z" stroke="#ff20ff" stroke-width="0.7"/><path d="M40.20,215.79L41.82,218.00L40.20,220.21L38.59,218.00Z" stroke="#ff20ff" stroke-width="0.7"/><path d="M48.30,215.29L49.91,217.50L48.30,219.71L46.68,217.50Z" stroke="#ff20ff" stroke-width="0.7"/><path d="M61.80,209.79L63.42,212.00L61.80,214.21L60.19,212.00Z" stroke="#ff20ff" stroke-width="0.7"/><path d="M75.30,205.39L76.92,207.60L75.30,209.81L73.69,207.60Z" stroke="#ff20ff" stroke-width="0.7"/><path d="M102.30,199.49L103.92,201.70L102.30,203.91L100.69,201.70Z" stroke="#ff20ff" stroke-width="0.7"/><polyline points="24.00,214.00 29.40,221.80 34.80,218.50 40.20,216.00 48.30,214.20 61.80,209.80 75.30,204.40 102.30,197.80" stroke="#ff6cff" stroke-width="0.5" stroke-dasharray="2.2,0.8,0.6,0.8"/><circle cx="24.00" cy="214.00" r="1.61" stroke="#ff20ff" stroke-width="0.7"/><circle cx="29.40" cy="221.80" r="1.61" stroke="#ff20ff" stroke-width="0.7"/><circle cx="34.80" cy="218.50" r="1.61" stroke="#ff20ff" stroke-width="0.7"/><circle cx="40.20" cy="216.00" r="1.61" stroke="#ff20ff" stroke-width="0.7"/><circle cx="48.30" cy="214.20" r="1.61" stroke="#ff20ff" stroke-width="0.7"/><circle cx="61.80" cy="209.80" r="1.61" stroke="#ff20ff" stroke-width="0.7"/><circle cx="75.30" cy="204.40" r="1.61" stroke="#ff20ff" stroke-width="0.7"/><circle cx="102.30" cy="197.80" r="1.61" stroke="#ff20ff" stroke-width="0.7"/><polyline points="24.00,210.50 29.40,215.00 34.80,225.70 40.20,227.90 48.30,230.50 61.80,230.50 75.30,235.30 102.30,237.10" stroke="#4a4aff" stroke-width="0.6"/><path d="M24.00,208.54L25.87,211.86L22.13,211.86Z" stroke="#3030ff" stroke-width="0.7"/><path d="M29.40,213.04L31.27,216.36L27.53,216.36Z" stroke="#3030ff" stroke-width="0.7"/><path d="M34.80,223.74L36.67,227.06L32.93,227.06Z" stroke="#3030ff" stroke-width="0.7"/><path d="M40.20,225.94L42.07,229.26L38.33,229.26Z" stroke="#3030ff" stroke-width="0.7"/><path d="M48.30,228.54L50.17,231.86L46.43,231.86Z" stroke="#3030ff" stroke-width="0.7"/><path d="M61.80,228.54L63.67,231.86L59.93,231.86Z" stroke="#3030ff" stroke-width="0.7"/><path d="M75.30,233.34L77.17,236.66L73.43,236.66Z" stroke="#3030ff" stroke-width="0.7"/><path d="M102.30,235.14L104.17,238.46L100.43,238.46Z" stroke="#3030ff" stroke-width="0.7"/><polyline points="24.00,209.80 29.40,214.00 34.80,222.30 40.20,223.60 48.30,227.30 61.80,227.30 75.30,227.90 102.30,232.70" stroke="#4a4aff" stroke-width="0.6"/><path d="M24.00,207.59L25.61,209.80L24.00,212.01L22.39,209.80Z" stroke="#3030ff" stroke-width="0.7"/><path d="M29.40,211.79L31.01,214.00L29.40,216.21L27.79,214.00Z" stroke="#3030ff" stroke-width="0.7"/><path d="M34.80,220.09L36.41,222.30L34.80,224.51L33.18,222.30Z" stroke="#3030ff" stroke-width="0.7"/><path d="M40.20,221.39L41.82,223.60L40.20,225.81L38.59,223.60Z" stroke="#3030ff" stroke-width="0.7"/><path d="M48.30,225.09L49.91,227.30L48.30,229.51L46.68,227.30Z" stroke="#3030ff" stroke-width="0.7"/><path d="M61.80,225.09L63.42,227.30L61.80,229.51L60.19,227.30Z" stroke="#3030ff" stroke-width="0.7"/><path d="M75.30,225.69L76.92,227.90L75.30,230.11L73.69,227.90Z" stroke="#3030ff" stroke-width="0.7"/><path d="M102.30,230.49L103.92,232.70L102.30,234.91L100.69,232.70Z" stroke="#3030ff" stroke-width="0.7"/><polyline points="24.00,202.60 29.40,209.40 34.80,222.00 40.20,223.60 48.30,220.70 61.80,222.50 75.30,219.60 102.30,225.10" stroke="#4a4aff" stroke-width="0.6"/><circle cx="24.00" cy="202.60" r="1.61" stroke="#3030ff" stroke-width="0.7"/><circle cx="29.40" cy="209.40" r="1.61" stroke="#3030ff" stroke-width="0.7"/><circle cx="34.80" cy="222.00" r="1.61" stroke="#3030ff" stroke-width="0.7"/><circle cx="40.20" cy="223.60" r="1.61" stroke="#3030ff" stroke-width="0.7"/><circle cx="48.30" cy="220.70" r="1.61" stroke="#3030ff" stroke-width="0.7"/><circle cx="61.80" cy="222.50" r="1.61" stroke="#3030ff" stroke-width="0.7"/><circle cx="75.30" cy="219.60" r="1.61" stroke="#3030ff" stroke-width="0.7"/><circle cx="102.30" cy="225.10" r="1.61" stroke="#3030ff" stroke-width="0.7"/></g>
<rect x="22.00" y="185.80" width="83.30" height="53.60" fill="none" stroke="#8c8c8c" stroke-width="0.8"/>
<path d="M24.00,239.40v-0.9M24.00,185.80v0.9M29.40,239.40v-0.9M29.40,185.80v0.9M34.80,239.40v-0.9M34.80,185.80v0.9M40.20,239.40v-0.9M40.20,185.80v0.9M48.30,239.40v-0.9M48.30,185.80v0.9M61.80,239.40v-0.9M61.80,185.80v0.9M75.30,239.40v-0.9M75.30,185.80v0.9M102.30,239.40v-0.9M102.30,185.80v0.9M22.00,193.50h0.9M105.30,193.50h-0.9M22.00,202.60h0.9M105.30,202.60h-0.9M22.00,212.00h0.9M105.30,212.00h-0.9M22.00,220.70h0.9M105.30,220.70h-0.9M22.00,229.90h0.9M105.30,229.90h-0.9M22.00,239.30h0.9M105.30,239.30h-0.9" stroke="#8c8c8c" stroke-width="0.6"/>
<g font-size="5.0" fill="#1e1e1e" stroke="#1e1e1e" stroke-width="0.09"><text x="24.00" y="246.00" text-anchor="middle">1</text><text x="29.40" y="246.00" text-anchor="middle">3</text><text x="34.80" y="246.00" text-anchor="middle">5</text><text x="40.20" y="246.00" text-anchor="middle">7</text><text x="48.30" y="246.00" text-anchor="middle">10</text><text x="61.80" y="246.00" text-anchor="middle">15</text><text x="75.30" y="246.00" text-anchor="middle">20</text><text x="102.30" y="246.00" text-anchor="middle">30</text><text x="19.70" y="195.60" text-anchor="end" font-size="4.75">0.28</text><text x="19.70" y="204.70" text-anchor="end" font-size="4.75">0.26</text><text x="19.70" y="214.10" text-anchor="end" font-size="4.75">0.24</text><text x="19.70" y="222.80" text-anchor="end" font-size="4.75">0.22</text><text x="19.70" y="232.00" text-anchor="end" font-size="4.75">0.2</text><text x="19.70" y="241.40" text-anchor="end" font-size="4.75">0.18</text><text x="63.05" y="253.00" text-anchor="middle">k</text><text transform="translate(8.30,213.20) rotate(-90)" text-anchor="middle" fill="#222" font-size="5.2">RMSE</text></g>
<text x="63.65" y="183.30" text-anchor="middle" font-size="5.2" font-weight="bold" fill="#111" stroke="#111" stroke-width="0.08">(k) housing</text>
<g fill="none"><polyline points="134.10,189.10 139.50,220.50 144.90,227.00 150.30,229.00 158.40,230.00 171.90,230.50 185.40,231.00 212.40,230.50" stroke="#ffb8b8" stroke-width="0.5"/><path d="M134.10,187.14L135.97,190.46L132.23,190.46Z" stroke="#ff3030" stroke-width="0.7"/><path d="M139.50,218.54L141.37,221.86L137.63,221.86Z" stroke="#ff3030" stroke-width="0.7"/><path d="M144.90,225.04L146.77,228.36L143.03,228.36Z" stroke="#ff3030" stroke-width="0.7"/><path d="M150.30,227.04L152.17,230.36L148.43,230.36Z" stroke="#ff3030" stroke-width="0.7"/><path d="M158.40,228.04L160.27,231.36L156.53,231.36Z" stroke="#ff3030" stroke-width="0.7"/><path d="M171.90,228.54L173.77,231.86L170.03,231.86Z" stroke="#ff3030" stroke-width="0.7"/><path d="M185.40,229.04L187.27,232.36L183.53,232.36Z" stroke="#ff3030" stroke-width="0.7"/><path d="M212.40,228.54L214.27,231.86L210.53,231.86Z" stroke="#ff3030" stroke-width="0.7"/><polyline points="134.10,189.50 139.50,221.00 144.90,227.50 150.30,230.00 158.40,231.00 171.90,232.00 185.40,232.30 212.40,231.60" stroke="#ffb8b8" stroke-width="0.5"/><path d="M134.10,187.29L135.72,189.50L134.10,191.71L132.48,189.50Z" stroke="#ff3030" stroke-width="0.7"/><path d="M139.50,218.79L141.12,221.00L139.50,223.21L137.88,221.00Z" stroke="#ff3030" stroke-width="0.7"/><path d="M144.90,225.29L146.52,227.50L144.90,229.71L143.28,227.50Z" stroke="#ff3030" stroke-width="0.7"/><path d="M150.30,227.79L151.92,230.00L150.30,232.21L148.69,230.00Z" stroke="#ff3030" stroke-width="0.7"/><path d="M158.40,228.79L160.02,231.00L158.40,233.21L156.78,231.00Z" stroke="#ff3030" stroke-width="0.7"/><path d="M171.90,229.79L173.52,232.00L171.90,234.21L170.28,232.00Z" stroke="#ff3030" stroke-width="0.7"/><path d="M185.40,230.09L187.02,232.30L185.40,234.51L183.78,232.30Z" stroke="#ff3030" stroke-width="0.7"/><path d="M212.40,229.39L214.02,231.60L212.40,233.81L210.78,231.60Z" stroke="#ff3030" stroke-width="0.7"/><polyline points="134.10,190.00 139.50,221.50 144.90,227.50 150.30,229.50 158.40,228.50 171.90,227.90 185.40,224.40 212.40,219.20" stroke="#ffb8b8" stroke-width="0.5"/><circle cx="134.10" cy="190.00" r="1.61" stroke="#ff3030" stroke-width="0.7"/><circle cx="139.50" cy="221.50" r="1.61" stroke="#ff3030" stroke-width="0.7"/><circle cx="144.90" cy="227.50" r="1.61" stroke="#ff3030" stroke-width="0.7"/><circle cx="150.30" cy="229.50" r="1.61" stroke="#ff3030" stroke-width="0.7"/><circle cx="158.40" cy="228.50" r="1.61" stroke="#ff3030" stroke-width="0.7"/><circle cx="171.90" cy="227.90" r="1.61" stroke="#ff3030" stroke-width="0.7"/><circle cx="185.40" cy="224.40" r="1.61" stroke="#ff3030" stroke-width="0.7"/><circle cx="212.40" cy="219.20" r="1.61" stroke="#ff3030" stroke-width="0.7"/><polyline points="134.10,189.10 139.50,222.00 144.90,228.40 150.30,231.60 158.40,233.20 171.90,233.50 185.40,233.80 212.40,233.50" stroke="#ff6cff" stroke-width="0.5" stroke-dasharray="2.2,0.8,0.6,0.8"/><path d="M134.10,187.14L135.97,190.46L132.23,190.46Z" stroke="#ff20ff" stroke-width="0.7"/><path d="M139.50,220.04L141.37,223.36L137.63,223.36Z" stroke="#ff20ff" stroke-width="0.7"/><path d="M144.90,226.44L146.77,229.76L143.03,229.76Z" stroke="#ff20ff" stroke-width="0.7"/><path d="M150.30,229.64L152.17,232.96L148.43,232.96Z" stroke="#ff20ff" stroke-width="0.7"/><path d="M158.40,231.24L160.27,234.56L156.53,234.56Z" stroke="#ff20ff" stroke-width="0.7"/><path d="M171.90,231.54L173.77,234.86L170.03,234.86Z" stroke="#ff20ff" stroke-width="0.7"/><path d="M185.40,231.84L187.27,235.16L183.53,235.16Z" stroke="#ff20ff" stroke-width="0.7"/><path d="M212.40,231.54L214.27,234.86L210.53,234.86Z" stroke="#ff20ff" stroke-width="0.7"/><polyline points="134.10,189.50 139.50,222.50 144.90,229.00 150.30,233.20 158.40,234.90 171.90,235.30 185.40,236.00 212.40,236.00" stroke="#ff6cff" stroke-width="0.5" stroke-dasharray="2.2,0.8,0.6,0.8"/><path d="M134.10,187.29L135.72,189.50L134.10,191.71L132.48,189.50Z" stroke="#ff20ff" stroke-width="0.7"/><path d="M139.50,220.29L141.12,222.50L139.50,224.71L137.88,222.50Z" stroke="#ff20ff" stroke-width="0.7"/><path d="M144.90,226.79L146.52,229.00L144.90,231.21L143.28,229.00Z" stroke="#ff20ff" stroke-width="0.7"/><path d="M150.30,230.99L151.92,233.20L150.30,235.41L148.69,233.20Z" stroke="#ff20ff" stroke-width="0.7"/><path d="M158.40,232.69L160.02,234.90L158.40,237.11L156.78,234.90Z" stroke="#ff20ff" stroke-width="0.7"/><path d="M171.90,233.09L173.52,235.30L171.90,237.51L170.28,235.30Z" stroke="#ff20ff" stroke-width="0.7"/><path d="M185.40,233.79L187.02,236.00L185.40,238.21L183.78,236.00Z" stroke="#ff20ff" stroke-width="0.7"/><path d="M212.40,233.79L214.02,236.00L212.40,238.21L210.78,236.00Z" stroke="#ff20ff" stroke-width="0.7"/><polyline points="134.10,190.00 139.50,222.50 144.90,228.50 150.30,232.00 158.40,233.50 171.90,234.00 185.40,234.00 212.40,234.00" stroke="#ff6cff" stroke-width="0.5" stroke-dasharray="2.2,0.8,0.6,0.8"/><circle cx="134.10" cy="190.00" r="1.61" stroke="#ff20ff" stroke-width="0.7"/><circle cx="139.50" cy="222.50" r="1.61" stroke="#ff20ff" stroke-width="0.7"/><circle cx="144.90" cy="228.50" r="1.61" stroke="#ff20ff" stroke-width="0.7"/><circle cx="150.30" cy="232.00" r="1.61" stroke="#ff20ff" stroke-width="0.7"/><circle cx="158.40" cy="233.50" r="1.61" stroke="#ff20ff" stroke-width="0.7"/><circle cx="171.90" cy="234.00" r="1.61" stroke="#ff20ff" stroke-width="0.7"/><circle cx="185.40" cy="234.00" r="1.61" stroke="#ff20ff" stroke-width="0.7"/><circle cx="212.40" cy="234.00" r="1.61" stroke="#ff20ff" stroke-width="0.7"/><polyline points="134.10,199.60 139.50,220.30 144.90,226.80 150.30,228.40 158.40,229.00 171.90,229.50 185.40,229.50 212.40,228.40" stroke="#4a4aff" stroke-width="0.6"/><path d="M134.10,197.64L135.97,200.96L132.23,200.96Z" stroke="#3030ff" stroke-width="0.7"/><path d="M139.50,218.34L141.37,221.66L137.63,221.66Z" stroke="#3030ff" stroke-width="0.7"/><path d="M144.90,224.84L146.77,228.16L143.03,228.16Z" stroke="#3030ff" stroke-width="0.7"/><path d="M150.30,226.44L152.17,229.76L148.43,229.76Z" stroke="#3030ff" stroke-width="0.7"/><path d="M158.40,227.04L160.27,230.36L156.53,230.36Z" stroke="#3030ff" stroke-width="0.7"/><path d="M171.90,227.54L173.77,230.86L170.03,230.86Z" stroke="#3030ff" stroke-width="0.7"/><path d="M185.40,227.54L187.27,230.86L183.53,230.86Z" stroke="#3030ff" stroke-width="0.7"/><path d="M212.40,226.44L214.27,229.76L210.53,229.76Z" stroke="#3030ff" stroke-width="0.7"/><polyline points="134.10,200.50 139.50,221.00 144.90,227.50 150.30,229.00 158.40,229.50 171.90,230.00 185.40,230.00 212.40,229.50" stroke="#4a4aff" stroke-width="0.6"/><path d="M134.10,198.29L135.72,200.50L134.10,202.71L132.48,200.50Z" stroke="#3030ff" stroke-width="0.7"/><path d="M139.50,218.79L141.12,221.00L139.50,223.21L137.88,221.00Z" stroke="#3030ff" stroke-width="0.7"/><path d="M144.90,225.29L146.52,227.50L144.90,229.71L143.28,227.50Z" stroke="#3030ff" stroke-width="0.7"/><path d="M150.30,226.79L151.92,229.00L150.30,231.21L148.69,229.00Z" stroke="#3030ff" stroke-width="0.7"/><path d="M158.40,227.29L160.02,229.50L158.40,231.71L156.78,229.50Z" stroke="#3030ff" stroke-width="0.7"/><path d="M171.90,227.79L173.52,230.00L171.90,232.21L170.28,230.00Z" stroke="#3030ff" stroke-width="0.7"/><path d="M185.40,227.79L187.02,230.00L185.40,232.21L183.78,230.00Z" stroke="#3030ff" stroke-width="0.7"/><path d="M212.40,227.29L214.02,229.50L212.40,231.71L210.78,229.50Z" stroke="#3030ff" stroke-width="0.7"/><polyline points="134.10,200.00 139.50,220.50 144.90,227.00 150.30,228.50 158.40,229.30 171.90,229.80 185.40,229.80 212.40,229.00" stroke="#4a4aff" stroke-width="0.6"/><circle cx="134.10" cy="200.00" r="1.61" stroke="#3030ff" stroke-width="0.7"/><circle cx="139.50" cy="220.50" r="1.61" stroke="#3030ff" stroke-width="0.7"/><circle cx="144.90" cy="227.00" r="1.61" stroke="#3030ff" stroke-width="0.7"/><circle cx="150.30" cy="228.50" r="1.61" stroke="#3030ff" stroke-width="0.7"/><circle cx="158.40" cy="229.30" r="1.61" stroke="#3030ff" stroke-width="0.7"/><circle cx="171.90" cy="229.80" r="1.61" stroke="#3030ff" stroke-width="0.7"/><circle cx="185.40" cy="229.80" r="1.61" stroke="#3030ff" stroke-width="0.7"/><circle cx="212.40" cy="229.00" r="1.61" stroke="#3030ff" stroke-width="0.7"/></g>
<rect x="132.10" y="185.80" width="83.30" height="53.60" fill="none" stroke="#8c8c8c" stroke-width="0.8"/>
<path d="M134.10,239.40v-0.9M134.10,185.80v0.9M139.50,239.40v-0.9M139.50,185.80v0.9M144.90,239.40v-0.9M144.90,185.80v0.9M150.30,239.40v-0.9M150.30,185.80v0.9M158.40,239.40v-0.9M158.40,185.80v0.9M171.90,239.40v-0.9M171.90,185.80v0.9M185.40,239.40v-0.9M185.40,185.80v0.9M212.40,239.40v-0.9M212.40,185.80v0.9M132.10,188.40h0.9M215.40,188.40h-0.9M132.10,198.50h0.9M215.40,198.50h-0.9M132.10,209.40h0.9M215.40,209.40h-0.9M132.10,219.60h0.9M215.40,219.60h-0.9M132.10,231.20h0.9M215.40,231.20h-0.9" stroke="#8c8c8c" stroke-width="0.6"/>
<g font-size="5.0" fill="#1e1e1e" stroke="#1e1e1e" stroke-width="0.09"><text x="134.10" y="246.00" text-anchor="middle">1</text><text x="139.50" y="246.00" text-anchor="middle">3</text><text x="144.90" y="246.00" text-anchor="middle">5</text><text x="150.30" y="246.00" text-anchor="middle">7</text><text x="158.40" y="246.00" text-anchor="middle">10</text><text x="171.90" y="246.00" text-anchor="middle">15</text><text x="185.40" y="246.00" text-anchor="middle">20</text><text x="212.40" y="246.00" text-anchor="middle">30</text><text x="129.80" y="190.50" text-anchor="end" font-size="4.75">0.36</text><text x="129.80" y="200.60" text-anchor="end" font-size="4.75">0.34</text><text x="129.80" y="211.50" text-anchor="end" font-size="4.75">0.32</text><text x="129.80" y="221.70" text-anchor="end" font-size="4.75">0.3</text><text x="129.80" y="233.30" text-anchor="end" font-size="4.75">0.28</text><text x="173.15" y="253.00" text-anchor="middle">k</text><text transform="translate(118.40,213.20) rotate(-90)" text-anchor="middle" fill="#222" font-size="5.2">RMSE</text></g>
<text x="173.75" y="183.30" text-anchor="middle" font-size="5.2" font-weight="bold" fill="#111" stroke="#111" stroke-width="0.08">(l) mg</text>
<g fill="none"><polyline points="244.30,211.30 249.70,228.50 255.10,230.00 260.50,232.50 268.60,233.50 282.10,226.50 295.60,228.00 322.60,222.00" stroke="#ffb8b8" stroke-width="0.5"/><path d="M244.30,209.34L246.17,212.66L242.43,212.66Z" stroke="#ff3030" stroke-width="0.7"/><path d="M249.70,226.54L251.57,229.86L247.83,229.86Z" stroke="#ff3030" stroke-width="0.7"/><path d="M255.10,228.04L256.97,231.36L253.23,231.36Z" stroke="#ff3030" stroke-width="0.7"/><path d="M260.50,230.54L262.37,233.86L258.63,233.86Z" stroke="#ff3030" stroke-width="0.7"/><path d="M268.60,231.54L270.47,234.86L266.73,234.86Z" stroke="#ff3030" stroke-width="0.7"/><path d="M282.10,224.54L283.97,227.86L280.23,227.86Z" stroke="#ff3030" stroke-width="0.7"/><path d="M295.60,226.04L297.47,229.36L293.73,229.36Z" stroke="#ff3030" stroke-width="0.7"/><path d="M322.60,220.04L324.47,223.36L320.73,223.36Z" stroke="#ff3030" stroke-width="0.7"/><polyline points="244.30,211.50 249.70,229.00 255.10,230.50 260.50,233.00 268.60,234.00 282.10,227.00 295.60,229.00 322.60,223.00" stroke="#ffb8b8" stroke-width="0.5"/><path d="M244.30,209.29L245.92,211.50L244.30,213.71L242.69,211.50Z" stroke="#ff3030" stroke-width="0.7"/><path d="M249.70,226.79L251.32,229.00L249.70,231.21L248.09,229.00Z" stroke="#ff3030" stroke-width="0.7"/><path d="M255.10,228.29L256.72,230.50L255.10,232.71L253.49,230.50Z" stroke="#ff3030" stroke-width="0.7"/><path d="M260.50,230.79L262.12,233.00L260.50,235.21L258.88,233.00Z" stroke="#ff3030" stroke-width="0.7"/><path d="M268.60,231.79L270.22,234.00L268.60,236.21L266.99,234.00Z" stroke="#ff3030" stroke-width="0.7"/><path d="M282.10,224.79L283.72,227.00L282.10,229.21L280.49,227.00Z" stroke="#ff3030" stroke-width="0.7"/><path d="M295.60,226.79L297.22,229.00L295.60,231.21L293.99,229.00Z" stroke="#ff3030" stroke-width="0.7"/><path d="M322.60,220.79L324.22,223.00L322.60,225.21L320.99,223.00Z" stroke="#ff3030" stroke-width="0.7"/><polyline points="244.30,207.60 249.70,232.70 255.10,235.30 260.50,237.10 268.60,234.90 282.10,224.00 295.60,213.50 322.60,188.40" stroke="#ffb8b8" stroke-width="0.5"/><circle cx="244.30" cy="207.60" r="1.61" stroke="#ff3030" stroke-width="0.7"/><circle cx="249.70" cy="232.70" r="1.61" stroke="#ff3030" stroke-width="0.7"/><circle cx="255.10" cy="235.30" r="1.61" stroke="#ff3030" stroke-width="0.7"/><circle cx="260.50" cy="237.10" r="1.61" stroke="#ff3030" stroke-width="0.7"/><circle cx="268.60" cy="234.90" r="1.61" stroke="#ff3030" stroke-width="0.7"/><circle cx="282.10" cy="224.00" r="1.61" stroke="#ff3030" stroke-width="0.7"/><circle cx="295.60" cy="213.50" r="1.61" stroke="#ff3030" stroke-width="0.7"/><circle cx="322.60" cy="188.40" r="1.61" stroke="#ff3030" stroke-width="0.7"/><polyline points="244.30,211.30 249.70,228.40 255.10,229.50 260.50,232.30 268.60,233.20 282.10,227.00 295.60,229.00 322.60,221.50" stroke="#ff6cff" stroke-width="0.5" stroke-dasharray="2.2,0.8,0.6,0.8"/><path d="M244.30,209.34L246.17,212.66L242.43,212.66Z" stroke="#ff20ff" stroke-width="0.7"/><path d="M249.70,226.44L251.57,229.76L247.83,229.76Z" stroke="#ff20ff" stroke-width="0.7"/><path d="M255.10,227.54L256.97,230.86L253.23,230.86Z" stroke="#ff20ff" stroke-width="0.7"/><path d="M260.50,230.34L262.37,233.66L258.63,233.66Z" stroke="#ff20ff" stroke-width="0.7"/><path d="M268.60,231.24L270.47,234.56L266.73,234.56Z" stroke="#ff20ff" stroke-width="0.7"/><path d="M282.10,225.04L283.97,228.36L280.23,228.36Z" stroke="#ff20ff" stroke-width="0.7"/><path d="M295.60,227.04L297.47,230.36L293.73,230.36Z" stroke="#ff20ff" stroke-width="0.7"/><path d="M322.60,219.54L324.47,222.86L320.73,222.86Z" stroke="#ff20ff" stroke-width="0.7"/><polyline points="244.30,211.80 249.70,228.80 255.10,230.00 260.50,232.80 268.60,233.50 282.10,228.00 295.60,230.00 322.60,222.50" stroke="#ff6cff" stroke-width="0.5" stroke-dasharray="2.2,0.8,0.6,0.8"/><path d="M244.30,209.59L245.92,211.80L244.30,214.01L242.69,211.80Z" stroke="#ff20ff" stroke-width="0.7"/><path d="M249.70,226.59L251.32,228.80L249.70,231.01L248.09,228.80Z" stroke="#ff20ff" stroke-width="0.7"/><path d="M255.10,227.79L256.72,230.00L255.10,232.21L253.49,230.00Z" stroke="#ff20ff" stroke-width="0.7"/><path d="M260.50,230.59L262.12,232.80L260.50,235.01L258.88,232.80Z" stroke="#ff20ff" stroke-width="0.7"/><path d="M268.60,231.29L270.22,233.50L268.60,235.71L266.99,233.50Z" stroke="#ff20ff" stroke-width="0.7"/><path d="M282.10,225.79L283.72,228.00L282.10,230.21L280.49,228.00Z" stroke="#ff20ff" stroke-width="0.7"/><path d="M295.60,227.79L297.22,230.00L295.60,232.21L293.99,230.00Z" stroke="#ff20ff" stroke-width="0.7"/><path d="M322.60,220.29L324.22,222.50L322.60,224.71L320.99,222.50Z" stroke="#ff20ff" stroke-width="0.7"/><polyline points="244.30,207.60 249.70,222.90 255.10,225.10 260.50,226.20 268.60,226.20 282.10,224.50 295.60,221.80 322.60,216.40" stroke="#ff6cff" stroke-width="0.5" stroke-dasharray="2.2,0.8,0.6,0.8"/><circle cx="244.30" cy="207.60" r="1.61" stroke="#ff20ff" stroke-width="0.7"/><circle cx="249.70" cy="222.90" r="1.61" stroke="#ff20ff" stroke-width="0.7"/><circle cx="255.10" cy="225.10" r="1.61" stroke="#ff20ff" stroke-width="0.7"/><circle cx="260.50" cy="226.20" r="1.61" stroke="#ff20ff" stroke-width="0.7"/><circle cx="268.60" cy="226.20" r="1.61" stroke="#ff20ff" stroke-width="0.7"/><circle cx="282.10" cy="224.50" r="1.61" stroke="#ff20ff" stroke-width="0.7"/><circle cx="295.60" cy="221.80" r="1.61" stroke="#ff20ff" stroke-width="0.7"/><circle cx="322.60" cy="216.40" r="1.61" stroke="#ff20ff" stroke-width="0.7"/><polyline points="244.30,211.30 249.70,228.40 255.10,229.50 260.50,232.30 268.60,233.20 282.10,225.70 295.60,226.60 322.60,220.70" stroke="#4a4aff" stroke-width="0.6"/><path d="M244.30,209.34L246.17,212.66L242.43,212.66Z" stroke="#3030ff" stroke-width="0.7"/><path d="M249.70,226.44L251.57,229.76L247.83,229.76Z" stroke="#3030ff" stroke-width="0.7"/><path d="M255.10,227.54L256.97,230.86L253.23,230.86Z" stroke="#3030ff" stroke-width="0.7"/><path d="M260.50,230.34L262.37,233.66L258.63,233.66Z" stroke="#3030ff" stroke-width="0.7"/><path d="M268.60,231.24L270.47,234.56L266.73,234.56Z" stroke="#3030ff" stroke-width="0.7"/><path d="M282.10,223.74L283.97,227.06L280.23,227.06Z" stroke="#3030ff" stroke-width="0.7"/><path d="M295.60,224.64L297.47,227.96L293.73,227.96Z" stroke="#3030ff" stroke-width="0.7"/><path d="M322.60,218.74L324.47,222.06L320.73,222.06Z" stroke="#3030ff" stroke-width="0.7"/><polyline points="244.30,212.00 249.70,228.40 255.10,230.00 260.50,232.50 268.60,233.20 282.10,227.90 295.60,228.00 322.60,221.50" stroke="#4a4aff" stroke-width="0.6"/><path d="M244.30,209.79L245.92,212.00L244.30,214.21L242.69,212.00Z" stroke="#3030ff" stroke-width="0.7"/><path d="M249.70,226.19L251.32,228.40L249.70,230.61L248.09,228.40Z" stroke="#3030ff" stroke-width="0.7"/><path d="M255.10,227.79L256.72,230.00L255.10,232.21L253.49,230.00Z" stroke="#3030ff" stroke-width="0.7"/><path d="M260.50,230.29L262.12,232.50L260.50,234.71L258.88,232.50Z" stroke="#3030ff" stroke-width="0.7"/><path d="M268.60,230.99L270.22,233.20L268.60,235.41L266.99,233.20Z" stroke="#3030ff" stroke-width="0.7"/><path d="M282.10,225.69L283.72,227.90L282.10,230.11L280.49,227.90Z" stroke="#3030ff" stroke-width="0.7"/><path d="M295.60,225.79L297.22,228.00L295.60,230.21L293.99,228.00Z" stroke="#3030ff" stroke-width="0.7"/><path d="M322.60,219.29L324.22,221.50L322.60,223.71L320.99,221.50Z" stroke="#3030ff" stroke-width="0.7"/><polyline points="244.30,212.50 249.70,228.00 255.10,230.50 260.50,232.50 268.60,233.50 282.10,230.50 295.60,231.00 322.60,224.00" stroke="#4a4aff" stroke-width="0.6"/><circle cx="244.30" cy="212.50" r="1.61" stroke="#3030ff" stroke-width="0.7"/><circle cx="249.70" cy="228.00" r="1.61" stroke="#3030ff" stroke-width="0.7"/><circle cx="255.10" cy="230.50" r="1.61" stroke="#3030ff" stroke-width="0.7"/><circle cx="260.50" cy="232.50" r="1.61" stroke="#3030ff" stroke-width="0.7"/><circle cx="268.60" cy="233.50" r="1.61" stroke="#3030ff" stroke-width="0.7"/><circle cx="282.10" cy="230.50" r="1.61" stroke="#3030ff" stroke-width="0.7"/><circle cx="295.60" cy="231.00" r="1.61" stroke="#3030ff" stroke-width="0.7"/><circle cx="322.60" cy="224.00" r="1.61" stroke="#3030ff" stroke-width="0.7"/></g>
<rect x="242.30" y="185.80" width="83.30" height="53.60" fill="none" stroke="#8c8c8c" stroke-width="0.8"/>
<path d="M244.30,239.40v-0.9M244.30,185.80v0.9M249.70,239.40v-0.9M249.70,185.80v0.9M255.10,239.40v-0.9M255.10,185.80v0.9M260.50,239.40v-0.9M260.50,185.80v0.9M268.60,239.40v-0.9M268.60,185.80v0.9M282.10,239.40v-0.9M282.10,185.80v0.9M295.60,239.40v-0.9M295.60,185.80v0.9M322.60,239.40v-0.9M322.60,185.80v0.9M242.30,198.90h0.9M325.60,198.90h-0.9M242.30,217.00h0.9M325.60,217.00h-0.9M242.30,234.90h0.9M325.60,234.90h-0.9" stroke="#8c8c8c" stroke-width="0.6"/>
<g font-size="5.0" fill="#1e1e1e" stroke="#1e1e1e" stroke-width="0.09"><text x="244.30" y="246.00" text-anchor="middle">1</text><text x="249.70" y="246.00" text-anchor="middle">3</text><text x="255.10" y="246.00" text-anchor="middle">5</text><text x="260.50" y="246.00" text-anchor="middle">7</text><text x="268.60" y="246.00" text-anchor="middle">10</text><text x="282.10" y="246.00" text-anchor="middle">15</text><text x="295.60" y="246.00" text-anchor="middle">20</text><text x="322.60" y="246.00" text-anchor="middle">30</text><text x="240.00" y="201.00" text-anchor="end" font-size="4.75">0.35</text><text x="240.00" y="219.10" text-anchor="end" font-size="4.75">0.3</text><text x="240.00" y="237.00" text-anchor="end" font-size="4.75">0.25</text><text x="283.35" y="253.00" text-anchor="middle">k</text><text transform="translate(228.60,213.20) rotate(-90)" text-anchor="middle" fill="#222" font-size="5.2">RMSE</text></g>
<text x="283.95" y="183.30" text-anchor="middle" font-size="5.2" font-weight="bold" fill="#111" stroke="#111" stroke-width="0.08">(m) motorcycle</text>
<g fill="none"><polyline points="354.50,189.50 359.90,220.70 365.30,226.60 370.70,230.00 378.80,232.00 392.30,233.50 405.80,234.00 432.80,235.00" stroke="#ffb8b8" stroke-width="0.5"/><path d="M354.50,187.54L356.37,190.86L352.63,190.86Z" stroke="#ff3030" stroke-width="0.7"/><path d="M359.90,218.74L361.77,222.06L358.03,222.06Z" stroke="#ff3030" stroke-width="0.7"/><path d="M365.30,224.64L367.17,227.96L363.43,227.96Z" stroke="#ff3030" stroke-width="0.7"/><path d="M370.70,228.04L372.57,231.36L368.83,231.36Z" stroke="#ff3030" stroke-width="0.7"/><path d="M378.80,230.04L380.67,233.36L376.93,233.36Z" stroke="#ff3030" stroke-width="0.7"/><path d="M392.30,231.54L394.17,234.86L390.43,234.86Z" stroke="#ff3030" stroke-width="0.7"/><path d="M405.80,232.04L407.67,235.36L403.93,235.36Z" stroke="#ff3030" stroke-width="0.7"/><path d="M432.80,233.04L434.67,236.36L430.93,236.36Z" stroke="#ff3030" stroke-width="0.7"/><polyline points="354.50,190.00 359.90,221.50 365.30,227.00 370.70,230.50 378.80,232.50 392.30,234.00 405.80,234.50 432.80,235.50" stroke="#ffb8b8" stroke-width="0.5"/><path d="M354.50,187.79L356.12,190.00L354.50,192.21L352.88,190.00Z" stroke="#ff3030" stroke-width="0.7"/><path d="M359.90,219.29L361.51,221.50L359.90,223.71L358.28,221.50Z" stroke="#ff3030" stroke-width="0.7"/><path d="M365.30,224.79L366.92,227.00L365.30,229.21L363.69,227.00Z" stroke="#ff3030" stroke-width="0.7"/><path d="M370.70,228.29L372.31,230.50L370.70,232.71L369.08,230.50Z" stroke="#ff3030" stroke-width="0.7"/><path d="M378.80,230.29L380.42,232.50L378.80,234.71L377.19,232.50Z" stroke="#ff3030" stroke-width="0.7"/><path d="M392.30,231.79L393.92,234.00L392.30,236.21L390.69,234.00Z" stroke="#ff3030" stroke-width="0.7"/><path d="M405.80,232.29L407.42,234.50L405.80,236.71L404.19,234.50Z" stroke="#ff3030" stroke-width="0.7"/><path d="M432.80,233.29L434.42,235.50L432.80,237.71L431.19,235.50Z" stroke="#ff3030" stroke-width="0.7"/><polyline points="354.50,197.80 359.90,222.90 365.30,228.40 370.70,232.30 378.80,233.80 392.30,234.50 405.80,234.90 432.80,236.00" stroke="#ffb8b8" stroke-width="0.5"/><circle cx="354.50" cy="197.80" r="1.61" stroke="#ff3030" stroke-width="0.7"/><circle cx="359.90" cy="222.90" r="1.61" stroke="#ff3030" stroke-width="0.7"/><circle cx="365.30" cy="228.40" r="1.61" stroke="#ff3030" stroke-width="0.7"/><circle cx="370.70" cy="232.30" r="1.61" stroke="#ff3030" stroke-width="0.7"/><circle cx="378.80" cy="233.80" r="1.61" stroke="#ff3030" stroke-width="0.7"/><circle cx="392.30" cy="234.50" r="1.61" stroke="#ff3030" stroke-width="0.7"/><circle cx="405.80" cy="234.90" r="1.61" stroke="#ff3030" stroke-width="0.7"/><circle cx="432.80" cy="236.00" r="1.61" stroke="#ff3030" stroke-width="0.7"/><polyline points="354.50,189.50 359.90,221.00 365.30,227.00 370.70,231.00 378.80,233.00 392.30,234.00 405.80,234.50 432.80,235.50" stroke="#ff6cff" stroke-width="0.5" stroke-dasharray="2.2,0.8,0.6,0.8"/><path d="M354.50,187.54L356.37,190.86L352.63,190.86Z" stroke="#ff20ff" stroke-width="0.7"/><path d="M359.90,219.04L361.77,222.36L358.03,222.36Z" stroke="#ff20ff" stroke-width="0.7"/><path d="M365.30,225.04L367.17,228.36L363.43,228.36Z" stroke="#ff20ff" stroke-width="0.7"/><path d="M370.70,229.04L372.57,232.36L368.83,232.36Z" stroke="#ff20ff" stroke-width="0.7"/><path d="M378.80,231.04L380.67,234.36L376.93,234.36Z" stroke="#ff20ff" stroke-width="0.7"/><path d="M392.30,232.04L394.17,235.36L390.43,235.36Z" stroke="#ff20ff" stroke-width="0.7"/><path d="M405.80,232.54L407.67,235.86L403.93,235.86Z" stroke="#ff20ff" stroke-width="0.7"/><path d="M432.80,233.54L434.67,236.86L430.93,236.86Z" stroke="#ff20ff" stroke-width="0.7"/><polyline points="354.50,190.00 359.90,222.00 365.30,227.50 370.70,231.50 378.80,233.50 392.30,234.50 405.80,235.00 432.80,236.00" stroke="#ff6cff" stroke-width="0.5" stroke-dasharray="2.2,0.8,0.6,0.8"/><path d="M354.50,187.79L356.12,190.00L354.50,192.21L352.88,190.00Z" stroke="#ff20ff" stroke-width="0.7"/><path d="M359.90,219.79L361.51,222.00L359.90,224.21L358.28,222.00Z" stroke="#ff20ff" stroke-width="0.7"/><path d="M365.30,225.29L366.92,227.50L365.30,229.71L363.69,227.50Z" stroke="#ff20ff" stroke-width="0.7"/><path d="M370.70,229.29L372.31,231.50L370.70,233.71L369.08,231.50Z" stroke="#ff20ff" stroke-width="0.7"/><path d="M378.80,231.29L380.42,233.50L378.80,235.71L377.19,233.50Z" stroke="#ff20ff" stroke-width="0.7"/><path d="M392.30,232.29L393.92,234.50L392.30,236.71L390.69,234.50Z" stroke="#ff20ff" stroke-width="0.7"/><path d="M405.80,232.79L407.42,235.00L405.80,237.21L404.19,235.00Z" stroke="#ff20ff" stroke-width="0.7"/><path d="M432.80,233.79L434.42,236.00L432.80,238.21L431.19,236.00Z" stroke="#ff20ff" stroke-width="0.7"/><polyline points="354.50,197.80 359.90,223.00 365.30,228.40 370.70,232.30 378.80,233.80 392.30,234.50 405.80,234.90 432.80,236.00" stroke="#ff6cff" stroke-width="0.5" stroke-dasharray="2.2,0.8,0.6,0.8"/><circle cx="354.50" cy="197.80" r="1.61" stroke="#ff20ff" stroke-width="0.7"/><circle cx="359.90" cy="223.00" r="1.61" stroke="#ff20ff" stroke-width="0.7"/><circle cx="365.30" cy="228.40" r="1.61" stroke="#ff20ff" stroke-width="0.7"/><circle cx="370.70" cy="232.30" r="1.61" stroke="#ff20ff" stroke-width="0.7"/><circle cx="378.80" cy="233.80" r="1.61" stroke="#ff20ff" stroke-width="0.7"/><circle cx="392.30" cy="234.50" r="1.61" stroke="#ff20ff" stroke-width="0.7"/><circle cx="405.80" cy="234.90" r="1.61" stroke="#ff20ff" stroke-width="0.7"/><circle cx="432.80" cy="236.00" r="1.61" stroke="#ff20ff" stroke-width="0.7"/><polyline points="354.50,225.70 359.90,226.60 365.30,228.40 370.70,228.40 378.80,228.40 392.30,228.40 405.80,230.10 432.80,230.10" stroke="#4a4aff" stroke-width="0.6"/><path d="M354.50,223.74L356.37,227.06L352.63,227.06Z" stroke="#3030ff" stroke-width="0.7"/><path d="M359.90,224.64L361.77,227.96L358.03,227.96Z" stroke="#3030ff" stroke-width="0.7"/><path d="M365.30,226.44L367.17,229.76L363.43,229.76Z" stroke="#3030ff" stroke-width="0.7"/><path d="M370.70,226.44L372.57,229.76L368.83,229.76Z" stroke="#3030ff" stroke-width="0.7"/><path d="M378.80,226.44L380.67,229.76L376.93,229.76Z" stroke="#3030ff" stroke-width="0.7"/><path d="M392.30,226.44L394.17,229.76L390.43,229.76Z" stroke="#3030ff" stroke-width="0.7"/><path d="M405.80,228.14L407.67,231.46L403.93,231.46Z" stroke="#3030ff" stroke-width="0.7"/><path d="M432.80,228.14L434.67,231.46L430.93,231.46Z" stroke="#3030ff" stroke-width="0.7"/><polyline points="354.50,226.50 359.90,228.50 365.30,229.50 370.70,229.50 378.80,229.50 392.30,229.50 405.80,231.00 432.80,231.00" stroke="#4a4aff" stroke-width="0.6"/><path d="M354.50,224.29L356.12,226.50L354.50,228.71L352.88,226.50Z" stroke="#3030ff" stroke-width="0.7"/><path d="M359.90,226.29L361.51,228.50L359.90,230.71L358.28,228.50Z" stroke="#3030ff" stroke-width="0.7"/><path d="M365.30,227.29L366.92,229.50L365.30,231.71L363.69,229.50Z" stroke="#3030ff" stroke-width="0.7"/><path d="M370.70,227.29L372.31,229.50L370.70,231.71L369.08,229.50Z" stroke="#3030ff" stroke-width="0.7"/><path d="M378.80,227.29L380.42,229.50L378.80,231.71L377.19,229.50Z" stroke="#3030ff" stroke-width="0.7"/><path d="M392.30,227.29L393.92,229.50L392.30,231.71L390.69,229.50Z" stroke="#3030ff" stroke-width="0.7"/><path d="M405.80,228.79L407.42,231.00L405.80,233.21L404.19,231.00Z" stroke="#3030ff" stroke-width="0.7"/><path d="M432.80,228.79L434.42,231.00L432.80,233.21L431.19,231.00Z" stroke="#3030ff" stroke-width="0.7"/><polyline points="354.50,227.30 359.90,230.50 365.30,230.50 370.70,230.50 378.80,230.50 392.30,230.50 405.80,232.30 432.80,232.30" stroke="#4a4aff" stroke-width="0.6"/><circle cx="354.50" cy="227.30" r="1.61" stroke="#3030ff" stroke-width="0.7"/><circle cx="359.90" cy="230.50" r="1.61" stroke="#3030ff" stroke-width="0.7"/><circle cx="365.30" cy="230.50" r="1.61" stroke="#3030ff" stroke-width="0.7"/><circle cx="370.70" cy="230.50" r="1.61" stroke="#3030ff" stroke-width="0.7"/><circle cx="378.80" cy="230.50" r="1.61" stroke="#3030ff" stroke-width="0.7"/><circle cx="392.30" cy="230.50" r="1.61" stroke="#3030ff" stroke-width="0.7"/><circle cx="405.80" cy="232.30" r="1.61" stroke="#3030ff" stroke-width="0.7"/><circle cx="432.80" cy="232.30" r="1.61" stroke="#3030ff" stroke-width="0.7"/></g>
<rect x="352.50" y="185.80" width="83.30" height="53.60" fill="none" stroke="#8c8c8c" stroke-width="0.8"/>
<path d="M354.50,239.40v-0.9M354.50,185.80v0.9M359.90,239.40v-0.9M359.90,185.80v0.9M365.30,239.40v-0.9M365.30,185.80v0.9M370.70,239.40v-0.9M370.70,185.80v0.9M378.80,239.40v-0.9M378.80,185.80v0.9M392.30,239.40v-0.9M392.30,185.80v0.9M405.80,239.40v-0.9M405.80,185.80v0.9M432.80,239.40v-0.9M432.80,185.80v0.9M352.50,195.20h0.9M435.80,195.20h-0.9M352.50,207.20h0.9M435.80,207.20h-0.9M352.50,219.20h0.9M435.80,219.20h-0.9M352.50,231.60h0.9M435.80,231.60h-0.9" stroke="#8c8c8c" stroke-width="0.6"/>
<g font-size="5.0" fill="#1e1e1e" stroke="#1e1e1e" stroke-width="0.09"><text x="354.50" y="246.00" text-anchor="middle">1</text><text x="359.90" y="246.00" text-anchor="middle">3</text><text x="365.30" y="246.00" text-anchor="middle">5</text><text x="370.70" y="246.00" text-anchor="middle">7</text><text x="378.80" y="246.00" text-anchor="middle">10</text><text x="392.30" y="246.00" text-anchor="middle">15</text><text x="405.80" y="246.00" text-anchor="middle">20</text><text x="432.80" y="246.00" text-anchor="middle">30</text><text x="350.20" y="197.30" text-anchor="end" font-size="4.75">0.15</text><text x="350.20" y="209.30" text-anchor="end" font-size="4.75">0.14</text><text x="350.20" y="221.30" text-anchor="end" font-size="4.75">0.13</text><text x="350.20" y="233.70" text-anchor="end" font-size="4.75">0.12</text><text x="393.55" y="253.00" text-anchor="middle">k</text><text transform="translate(338.80,213.20) rotate(-90)" text-anchor="middle" fill="#222" font-size="5.2">RMSE</text></g>
<text x="394.15" y="183.30" text-anchor="middle" font-size="5.2" font-weight="bold" fill="#111" stroke="#111" stroke-width="0.08">(n) newspopularity</text>
<g fill="none"><polyline points="464.60,197.80 470.00,222.90 475.40,227.30 480.80,229.50 488.90,232.30 502.40,233.20 515.90,234.00 542.90,234.50" stroke="#ffb8b8" stroke-width="0.5"/><path d="M464.60,195.84L466.47,199.16L462.73,199.16Z" stroke="#ff3030" stroke-width="0.7"/><path d="M470.00,220.94L471.87,224.26L468.13,224.26Z" stroke="#ff3030" stroke-width="0.7"/><path d="M475.40,225.34L477.27,228.66L473.53,228.66Z" stroke="#ff3030" stroke-width="0.7"/><path d="M480.80,227.54L482.67,230.86L478.93,230.86Z" stroke="#ff3030" stroke-width="0.7"/><path d="M488.90,230.34L490.77,233.66L487.03,233.66Z" stroke="#ff3030" stroke-width="0.7"/><path d="M502.40,231.24L504.27,234.56L500.53,234.56Z" stroke="#ff3030" stroke-width="0.7"/><path d="M515.90,232.04L517.77,235.36L514.03,235.36Z" stroke="#ff3030" stroke-width="0.7"/><path d="M542.90,232.54L544.77,235.86L541.03,235.86Z" stroke="#ff3030" stroke-width="0.7"/><polyline points="464.60,200.00 470.00,224.00 475.40,228.00 480.80,230.50 488.90,233.00 502.40,234.00 515.90,234.90 542.90,235.00" stroke="#ffb8b8" stroke-width="0.5"/><path d="M464.60,197.79L466.22,200.00L464.60,202.21L462.99,200.00Z" stroke="#ff3030" stroke-width="0.7"/><path d="M470.00,221.79L471.62,224.00L470.00,226.21L468.38,224.00Z" stroke="#ff3030" stroke-width="0.7"/><path d="M475.40,225.79L477.02,228.00L475.40,230.21L473.79,228.00Z" stroke="#ff3030" stroke-width="0.7"/><path d="M480.80,228.29L482.42,230.50L480.80,232.71L479.19,230.50Z" stroke="#ff3030" stroke-width="0.7"/><path d="M488.90,230.79L490.52,233.00L488.90,235.21L487.29,233.00Z" stroke="#ff3030" stroke-width="0.7"/><path d="M502.40,231.79L504.02,234.00L502.40,236.21L500.79,234.00Z" stroke="#ff3030" stroke-width="0.7"/><path d="M515.90,232.69L517.51,234.90L515.90,237.11L514.28,234.90Z" stroke="#ff3030" stroke-width="0.7"/><path d="M542.90,232.79L544.52,235.00L542.90,237.21L541.29,235.00Z" stroke="#ff3030" stroke-width="0.7"/><polyline points="464.60,188.00 470.00,216.00 475.40,221.80 480.80,224.00 488.90,225.10 502.40,225.10 515.90,224.40 542.90,222.90" stroke="#ffb8b8" stroke-width="0.5"/><circle cx="464.60" cy="188.00" r="1.61" stroke="#ff3030" stroke-width="0.7"/><circle cx="470.00" cy="216.00" r="1.61" stroke="#ff3030" stroke-width="0.7"/><circle cx="475.40" cy="221.80" r="1.61" stroke="#ff3030" stroke-width="0.7"/><circle cx="480.80" cy="224.00" r="1.61" stroke="#ff3030" stroke-width="0.7"/><circle cx="488.90" cy="225.10" r="1.61" stroke="#ff3030" stroke-width="0.7"/><circle cx="502.40" cy="225.10" r="1.61" stroke="#ff3030" stroke-width="0.7"/><circle cx="515.90" cy="224.40" r="1.61" stroke="#ff3030" stroke-width="0.7"/><circle cx="542.90" cy="222.90" r="1.61" stroke="#ff3030" stroke-width="0.7"/><polyline points="464.60,197.80 470.00,224.00 475.40,228.50 480.80,231.00 488.90,233.50 502.40,234.50 515.90,235.00 542.90,235.30" stroke="#ff6cff" stroke-width="0.5" stroke-dasharray="2.2,0.8,0.6,0.8"/><path d="M464.60,195.84L466.47,199.16L462.73,199.16Z" stroke="#ff20ff" stroke-width="0.7"/><path d="M470.00,222.04L471.87,225.36L468.13,225.36Z" stroke="#ff20ff" stroke-width="0.7"/><path d="M475.40,226.54L477.27,229.86L473.53,229.86Z" stroke="#ff20ff" stroke-width="0.7"/><path d="M480.80,229.04L482.67,232.36L478.93,232.36Z" stroke="#ff20ff" stroke-width="0.7"/><path d="M488.90,231.54L490.77,234.86L487.03,234.86Z" stroke="#ff20ff" stroke-width="0.7"/><path d="M502.40,232.54L504.27,235.86L500.53,235.86Z" stroke="#ff20ff" stroke-width="0.7"/><path d="M515.90,233.04L517.77,236.36L514.03,236.36Z" stroke="#ff20ff" stroke-width="0.7"/><path d="M542.90,233.34L544.77,236.66L541.03,236.66Z" stroke="#ff20ff" stroke-width="0.7"/><polyline points="464.60,200.00 470.00,225.10 475.40,229.50 480.80,232.30 488.90,233.80 502.40,234.50 515.90,234.90 542.90,235.30" stroke="#ff6cff" stroke-width="0.5" stroke-dasharray="2.2,0.8,0.6,0.8"/><path d="M464.60,197.79L466.22,200.00L464.60,202.21L462.99,200.00Z" stroke="#ff20ff" stroke-width="0.7"/><path d="M470.00,222.89L471.62,225.10L470.00,227.31L468.38,225.10Z" stroke="#ff20ff" stroke-width="0.7"/><path d="M475.40,227.29L477.02,229.50L475.40,231.71L473.79,229.50Z" stroke="#ff20ff" stroke-width="0.7"/><path d="M480.80,230.09L482.42,232.30L480.80,234.51L479.19,232.30Z" stroke="#ff20ff" stroke-width="0.7"/><path d="M488.90,231.59L490.52,233.80L488.90,236.01L487.29,233.80Z" stroke="#ff20ff" stroke-width="0.7"/><path d="M502.40,232.29L504.02,234.50L502.40,236.71L500.79,234.50Z" stroke="#ff20ff" stroke-width="0.7"/><path d="M515.90,232.69L517.51,234.90L515.90,237.11L514.28,234.90Z" stroke="#ff20ff" stroke-width="0.7"/><path d="M542.90,233.09L544.52,235.30L542.90,237.51L541.29,235.30Z" stroke="#ff20ff" stroke-width="0.7"/><polyline points="464.60,188.00 470.00,216.00 475.40,221.80 480.80,224.00 488.90,225.10 502.40,225.10 515.90,224.40 542.90,222.90" stroke="#ff6cff" stroke-width="0.5" stroke-dasharray="2.2,0.8,0.6,0.8"/><circle cx="464.60" cy="188.00" r="1.61" stroke="#ff20ff" stroke-width="0.7"/><circle cx="470.00" cy="216.00" r="1.61" stroke="#ff20ff" stroke-width="0.7"/><circle cx="475.40" cy="221.80" r="1.61" stroke="#ff20ff" stroke-width="0.7"/><circle cx="480.80" cy="224.00" r="1.61" stroke="#ff20ff" stroke-width="0.7"/><circle cx="488.90" cy="225.10" r="1.61" stroke="#ff20ff" stroke-width="0.7"/><circle cx="502.40" cy="225.10" r="1.61" stroke="#ff20ff" stroke-width="0.7"/><circle cx="515.90" cy="224.40" r="1.61" stroke="#ff20ff" stroke-width="0.7"/><circle cx="542.90" cy="222.90" r="1.61" stroke="#ff20ff" stroke-width="0.7"/><polyline points="464.60,215.40 470.00,225.90 475.40,228.90 480.80,231.20 488.90,232.90 502.40,234.70 515.90,235.20 542.90,235.50" stroke="#4a4aff" stroke-width="0.6"/><path d="M464.60,213.44L466.47,216.76L462.73,216.76Z" stroke="#3030ff" stroke-width="0.7"/><path d="M470.00,223.94L471.87,227.26L468.13,227.26Z" stroke="#3030ff" stroke-width="0.7"/><path d="M475.40,226.94L477.27,230.26L473.53,230.26Z" stroke="#3030ff" stroke-width="0.7"/><path d="M480.80,229.24L482.67,232.56L478.93,232.56Z" stroke="#3030ff" stroke-width="0.7"/><path d="M488.90,230.94L490.77,234.26L487.03,234.26Z" stroke="#3030ff" stroke-width="0.7"/><path d="M502.40,232.74L504.27,236.06L500.53,236.06Z" stroke="#3030ff" stroke-width="0.7"/><path d="M515.90,233.24L517.77,236.56L514.03,236.56Z" stroke="#3030ff" stroke-width="0.7"/><path d="M542.90,233.54L544.77,236.86L541.03,236.86Z" stroke="#3030ff" stroke-width="0.7"/><polyline points="464.60,214.00 470.00,223.50 475.40,227.50 480.80,230.00 488.90,232.00 502.40,234.00 515.90,234.80 542.90,235.30" stroke="#4a4aff" stroke-width="0.6"/><path d="M464.60,211.79L466.22,214.00L464.60,216.21L462.99,214.00Z" stroke="#3030ff" stroke-width="0.7"/><path d="M470.00,221.29L471.62,223.50L470.00,225.71L468.38,223.50Z" stroke="#3030ff" stroke-width="0.7"/><path d="M475.40,225.29L477.02,227.50L475.40,229.71L473.79,227.50Z" stroke="#3030ff" stroke-width="0.7"/><path d="M480.80,227.79L482.42,230.00L480.80,232.21L479.19,230.00Z" stroke="#3030ff" stroke-width="0.7"/><path d="M488.90,229.79L490.52,232.00L488.90,234.21L487.29,232.00Z" stroke="#3030ff" stroke-width="0.7"/><path d="M502.40,231.79L504.02,234.00L502.40,236.21L500.79,234.00Z" stroke="#3030ff" stroke-width="0.7"/><path d="M515.90,232.59L517.51,234.80L515.90,237.01L514.28,234.80Z" stroke="#3030ff" stroke-width="0.7"/><path d="M542.90,233.09L544.52,235.30L542.90,237.51L541.29,235.30Z" stroke="#3030ff" stroke-width="0.7"/><polyline points="464.60,211.00 470.00,218.90 475.40,222.90 480.80,226.80 488.90,229.90 502.40,232.00 515.90,233.80 542.90,235.20" stroke="#4a4aff" stroke-width="0.6"/><circle cx="464.60" cy="211.00" r="1.61" stroke="#3030ff" stroke-width="0.7"/><circle cx="470.00" cy="218.90" r="1.61" stroke="#3030ff" stroke-width="0.7"/><circle cx="475.40" cy="222.90" r="1.61" stroke="#3030ff" stroke-width="0.7"/><circle cx="480.80" cy="226.80" r="1.61" stroke="#3030ff" stroke-width="0.7"/><circle cx="488.90" cy="229.90" r="1.61" stroke="#3030ff" stroke-width="0.7"/><circle cx="502.40" cy="232.00" r="1.61" stroke="#3030ff" stroke-width="0.7"/><circle cx="515.90" cy="233.80" r="1.61" stroke="#3030ff" stroke-width="0.7"/><circle cx="542.90" cy="235.20" r="1.61" stroke="#3030ff" stroke-width="0.7"/></g>
<rect x="462.60" y="185.80" width="83.30" height="53.60" fill="none" stroke="#8c8c8c" stroke-width="0.8"/>
<path d="M464.60,239.40v-0.9M464.60,185.80v0.9M470.00,239.40v-0.9M470.00,185.80v0.9M475.40,239.40v-0.9M475.40,185.80v0.9M480.80,239.40v-0.9M480.80,185.80v0.9M488.90,239.40v-0.9M488.90,185.80v0.9M502.40,239.40v-0.9M502.40,185.80v0.9M515.90,239.40v-0.9M515.90,185.80v0.9M542.90,239.40v-0.9M542.90,185.80v0.9M462.60,188.70h0.9M545.90,188.70h-0.9M462.60,202.80h0.9M545.90,202.80h-0.9M462.60,217.00h0.9M545.90,217.00h-0.9M462.60,231.60h0.9M545.90,231.60h-0.9" stroke="#8c8c8c" stroke-width="0.6"/>
<g font-size="5.0" fill="#1e1e1e" stroke="#1e1e1e" stroke-width="0.09"><text x="464.60" y="246.00" text-anchor="middle">1</text><text x="470.00" y="246.00" text-anchor="middle">3</text><text x="475.40" y="246.00" text-anchor="middle">5</text><text x="480.80" y="246.00" text-anchor="middle">7</text><text x="488.90" y="246.00" text-anchor="middle">10</text><text x="502.40" y="246.00" text-anchor="middle">15</text><text x="515.90" y="246.00" text-anchor="middle">20</text><text x="542.90" y="246.00" text-anchor="middle">30</text><text x="460.30" y="190.80" text-anchor="end" font-size="4.75">0.5</text><text x="460.30" y="204.90" text-anchor="end" font-size="4.75">0.45</text><text x="460.30" y="219.10" text-anchor="end" font-size="4.75">0.4</text><text x="460.30" y="233.70" text-anchor="end" font-size="4.75">0.35</text><text x="503.65" y="253.00" text-anchor="middle">k</text><text transform="translate(448.90,213.20) rotate(-90)" text-anchor="middle" fill="#222" font-size="5.2">RMSE</text></g>
<text x="504.25" y="183.30" text-anchor="middle" font-size="5.2" font-weight="bold" fill="#111" stroke="#111" stroke-width="0.08">(o) skillcraft</text>
<g fill="none"><polyline points="24.00,265.10 29.40,291.00 34.80,294.00 40.20,296.00 48.30,296.00 61.80,295.20 75.30,293.90 102.30,292.40" stroke="#ffb8b8" stroke-width="0.5"/><path d="M24.00,263.15L25.87,266.46L22.13,266.46Z" stroke="#ff3030" stroke-width="0.7"/><path d="M29.40,289.05L31.27,292.36L27.53,292.36Z" stroke="#ff3030" stroke-width="0.7"/><path d="M34.80,292.05L36.67,295.36L32.93,295.36Z" stroke="#ff3030" stroke-width="0.7"/><path d="M40.20,294.05L42.07,297.36L38.33,297.36Z" stroke="#ff3030" stroke-width="0.7"/><path d="M48.30,294.05L50.17,297.36L46.43,297.36Z" stroke="#ff3030" stroke-width="0.7"/><path d="M61.80,293.25L63.67,296.56L59.93,296.56Z" stroke="#ff3030" stroke-width="0.7"/><path d="M75.30,291.94L77.17,295.26L73.43,295.26Z" stroke="#ff3030" stroke-width="0.7"/><path d="M102.30,290.44L104.17,293.76L100.43,293.76Z" stroke="#ff3030" stroke-width="0.7"/><polyline points="24.00,265.50 29.40,291.50 34.80,294.50 40.20,296.70 48.30,296.70 61.80,296.00 75.30,295.00 102.30,294.00" stroke="#ffb8b8" stroke-width="0.5"/><path d="M24.00,263.29L25.61,265.50L24.00,267.71L22.39,265.50Z" stroke="#ff3030" stroke-width="0.7"/><path d="M29.40,289.29L31.01,291.50L29.40,293.71L27.79,291.50Z" stroke="#ff3030" stroke-width="0.7"/><path d="M34.80,292.29L36.41,294.50L34.80,296.71L33.18,294.50Z" stroke="#ff3030" stroke-width="0.7"/><path d="M40.20,294.49L41.82,296.70L40.20,298.91L38.59,296.70Z" stroke="#ff3030" stroke-width="0.7"/><path d="M48.30,294.49L49.91,296.70L48.30,298.91L46.68,296.70Z" stroke="#ff3030" stroke-width="0.7"/><path d="M61.80,293.79L63.42,296.00L61.80,298.21L60.19,296.00Z" stroke="#ff3030" stroke-width="0.7"/><path d="M75.30,292.79L76.92,295.00L75.30,297.21L73.69,295.00Z" stroke="#ff3030" stroke-width="0.7"/><path d="M102.30,291.79L103.92,294.00L102.30,296.21L100.69,294.00Z" stroke="#ff3030" stroke-width="0.7"/><polyline points="24.00,281.50 29.40,307.60 34.80,311.30 40.20,312.70 48.30,311.30 61.80,307.60 75.30,305.50 102.30,301.70" stroke="#ffb8b8" stroke-width="0.5"/><circle cx="24.00" cy="281.50" r="1.61" stroke="#ff3030" stroke-width="0.7"/><circle cx="29.40" cy="307.60" r="1.61" stroke="#ff3030" stroke-width="0.7"/><circle cx="34.80" cy="311.30" r="1.61" stroke="#ff3030" stroke-width="0.7"/><circle cx="40.20" cy="312.70" r="1.61" stroke="#ff3030" stroke-width="0.7"/><circle cx="48.30" cy="311.30" r="1.61" stroke="#ff3030" stroke-width="0.7"/><circle cx="61.80" cy="307.60" r="1.61" stroke="#ff3030" stroke-width="0.7"/><circle cx="75.30" cy="305.50" r="1.61" stroke="#ff3030" stroke-width="0.7"/><circle cx="102.30" cy="301.70" r="1.61" stroke="#ff3030" stroke-width="0.7"/><polyline points="24.00,265.10 29.40,291.50 34.80,295.00 40.20,297.50 48.30,297.50 61.80,297.40 75.30,296.70 102.30,296.70" stroke="#ff6cff" stroke-width="0.5" stroke-dasharray="2.2,0.8,0.6,0.8"/><path d="M24.00,263.15L25.87,266.46L22.13,266.46Z" stroke="#ff20ff" stroke-width="0.7"/><path d="M29.40,289.55L31.27,292.86L27.53,292.86Z" stroke="#ff20ff" stroke-width="0.7"/><path d="M34.80,293.05L36.67,296.36L32.93,296.36Z" stroke="#ff20ff" stroke-width="0.7"/><path d="M40.20,295.55L42.07,298.86L38.33,298.86Z" stroke="#ff20ff" stroke-width="0.7"/><path d="M48.30,295.55L50.17,298.86L46.43,298.86Z" stroke="#ff20ff" stroke-width="0.7"/><path d="M61.80,295.44L63.67,298.76L59.93,298.76Z" stroke="#ff20ff" stroke-width="0.7"/><path d="M75.30,294.75L77.17,298.06L73.43,298.06Z" stroke="#ff20ff" stroke-width="0.7"/><path d="M102.30,294.75L104.17,298.06L100.43,298.06Z" stroke="#ff20ff" stroke-width="0.7"/><polyline points="24.00,265.50 29.40,292.00 34.80,295.60 40.20,298.90 48.30,298.90 61.80,298.90 75.30,298.50 102.30,298.90" stroke="#ff6cff" stroke-width="0.5" stroke-dasharray="2.2,0.8,0.6,0.8"/><path d="M24.00,263.29L25.61,265.50L24.00,267.71L22.39,265.50Z" stroke="#ff20ff" stroke-width="0.7"/><path d="M29.40,289.79L31.01,292.00L29.40,294.21L27.79,292.00Z" stroke="#ff20ff" stroke-width="0.7"/><path d="M34.80,293.39L36.41,295.60L34.80,297.81L33.18,295.60Z" stroke="#ff20ff" stroke-width="0.7"/><path d="M40.20,296.69L41.82,298.90L40.20,301.11L38.59,298.90Z" stroke="#ff20ff" stroke-width="0.7"/><path d="M48.30,296.69L49.91,298.90L48.30,301.11L46.68,298.90Z" stroke="#ff20ff" stroke-width="0.7"/><path d="M61.80,296.69L63.42,298.90L61.80,301.11L60.19,298.90Z" stroke="#ff20ff" stroke-width="0.7"/><path d="M75.30,296.29L76.92,298.50L75.30,300.71L73.69,298.50Z" stroke="#ff20ff" stroke-width="0.7"/><path d="M102.30,296.69L103.92,298.90L102.30,301.11L100.69,298.90Z" stroke="#ff20ff" stroke-width="0.7"/><polyline points="24.00,281.50 29.40,307.60 34.80,311.30 40.20,312.70 48.30,311.30 61.80,310.00 75.30,309.00 102.30,305.50" stroke="#ff6cff" stroke-width="0.5" stroke-dasharray="2.2,0.8,0.6,0.8"/><circle cx="24.00" cy="281.50" r="1.61" stroke="#ff20ff" stroke-width="0.7"/><circle cx="29.40" cy="307.60" r="1.61" stroke="#ff20ff" stroke-width="0.7"/><circle cx="34.80" cy="311.30" r="1.61" stroke="#ff20ff" stroke-width="0.7"/><circle cx="40.20" cy="312.70" r="1.61" stroke="#ff20ff" stroke-width="0.7"/><circle cx="48.30" cy="311.30" r="1.61" stroke="#ff20ff" stroke-width="0.7"/><circle cx="61.80" cy="310.00" r="1.61" stroke="#ff20ff" stroke-width="0.7"/><circle cx="75.30" cy="309.00" r="1.61" stroke="#ff20ff" stroke-width="0.7"/><circle cx="102.30" cy="305.50" r="1.61" stroke="#ff20ff" stroke-width="0.7"/><polyline points="24.00,275.60 29.40,290.20 34.80,293.50 40.20,296.70 48.30,296.70 61.80,296.70 75.30,296.70 102.30,296.70" stroke="#4a4aff" stroke-width="0.6"/><path d="M24.00,273.65L25.87,276.96L22.13,276.96Z" stroke="#3030ff" stroke-width="0.7"/><path d="M29.40,288.25L31.27,291.56L27.53,291.56Z" stroke="#3030ff" stroke-width="0.7"/><path d="M34.80,291.55L36.67,294.86L32.93,294.86Z" stroke="#3030ff" stroke-width="0.7"/><path d="M40.20,294.75L42.07,298.06L38.33,298.06Z" stroke="#3030ff" stroke-width="0.7"/><path d="M48.30,294.75L50.17,298.06L46.43,298.06Z" stroke="#3030ff" stroke-width="0.7"/><path d="M61.80,294.75L63.67,298.06L59.93,298.06Z" stroke="#3030ff" stroke-width="0.7"/><path d="M75.30,294.75L77.17,298.06L73.43,298.06Z" stroke="#3030ff" stroke-width="0.7"/><path d="M102.30,294.75L104.17,298.06L100.43,298.06Z" stroke="#3030ff" stroke-width="0.7"/><polyline points="24.00,277.70 29.40,292.40 34.80,295.60 40.20,298.00 48.30,298.00 61.80,298.00 75.30,297.50 102.30,297.50" stroke="#4a4aff" stroke-width="0.6"/><path d="M24.00,275.49L25.61,277.70L24.00,279.91L22.39,277.70Z" stroke="#3030ff" stroke-width="0.7"/><path d="M29.40,290.19L31.01,292.40L29.40,294.61L27.79,292.40Z" stroke="#3030ff" stroke-width="0.7"/><path d="M34.80,293.39L36.41,295.60L34.80,297.81L33.18,295.60Z" stroke="#3030ff" stroke-width="0.7"/><path d="M40.20,295.79L41.82,298.00L40.20,300.21L38.59,298.00Z" stroke="#3030ff" stroke-width="0.7"/><path d="M48.30,295.79L49.91,298.00L48.30,300.21L46.68,298.00Z" stroke="#3030ff" stroke-width="0.7"/><path d="M61.80,295.79L63.42,298.00L61.80,300.21L60.19,298.00Z" stroke="#3030ff" stroke-width="0.7"/><path d="M75.30,295.29L76.92,297.50L75.30,299.71L73.69,297.50Z" stroke="#3030ff" stroke-width="0.7"/><path d="M102.30,295.29L103.92,297.50L102.30,299.71L100.69,297.50Z" stroke="#3030ff" stroke-width="0.7"/><polyline points="24.00,284.70 29.40,303.90 34.80,308.70 40.20,310.50 48.30,309.80 61.80,309.20 75.30,309.20 102.30,308.70" stroke="#4a4aff" stroke-width="0.6"/><circle cx="24.00" cy="284.70" r="1.61" stroke="#3030ff" stroke-width="0.7"/><circle cx="29.40" cy="303.90" r="1.61" stroke="#3030ff" stroke-width="0.7"/><circle cx="34.80" cy="308.70" r="1.61" stroke="#3030ff" stroke-width="0.7"/><circle cx="40.20" cy="310.50" r="1.61" stroke="#3030ff" stroke-width="0.7"/><circle cx="48.30" cy="309.80" r="1.61" stroke="#3030ff" stroke-width="0.7"/><circle cx="61.80" cy="309.20" r="1.61" stroke="#3030ff" stroke-width="0.7"/><circle cx="75.30" cy="309.20" r="1.61" stroke="#3030ff" stroke-width="0.7"/><circle cx="102.30" cy="308.70" r="1.61" stroke="#3030ff" stroke-width="0.7"/></g>
<rect x="22.00" y="262.00" width="83.30" height="53.60" fill="none" stroke="#8c8c8c" stroke-width="0.8"/>
<path d="M24.00,315.60v-0.9M24.00,262.00v0.9M29.40,315.60v-0.9M29.40,262.00v0.9M34.80,315.60v-0.9M34.80,262.00v0.9M40.20,315.60v-0.9M40.20,262.00v0.9M48.30,315.60v-0.9M48.30,262.00v0.9M61.80,315.60v-0.9M61.80,262.00v0.9M75.30,315.60v-0.9M75.30,262.00v0.9M102.30,315.60v-0.9M102.30,262.00v0.9M22.00,265.10h0.9M105.30,265.10h-0.9M22.00,274.50h0.9M105.30,274.50h-0.9M22.00,283.60h0.9M105.30,283.60h-0.9M22.00,293.50h0.9M105.30,293.50h-0.9M22.00,303.30h0.9M105.30,303.30h-0.9M22.00,312.70h0.9M105.30,312.70h-0.9" stroke="#8c8c8c" stroke-width="0.6"/>
<g font-size="5.0" fill="#1e1e1e" stroke="#1e1e1e" stroke-width="0.09"><text x="24.00" y="322.20" text-anchor="middle">1</text><text x="29.40" y="322.20" text-anchor="middle">3</text><text x="34.80" y="322.20" text-anchor="middle">5</text><text x="40.20" y="322.20" text-anchor="middle">7</text><text x="48.30" y="322.20" text-anchor="middle">10</text><text x="61.80" y="322.20" text-anchor="middle">15</text><text x="75.30" y="322.20" text-anchor="middle">20</text><text x="102.30" y="322.20" text-anchor="middle">30</text><text x="19.70" y="267.20" text-anchor="end" font-size="4.75">0.19</text><text x="19.70" y="276.60" text-anchor="end" font-size="4.75">0.18</text><text x="19.70" y="285.70" text-anchor="end" font-size="4.75">0.17</text><text x="19.70" y="295.60" text-anchor="end" font-size="4.75">0.16</text><text x="19.70" y="305.40" text-anchor="end" font-size="4.75">0.15</text><text x="19.70" y="314.80" text-anchor="end" font-size="4.75">0.14</text><text x="63.05" y="329.20" text-anchor="middle">k</text><text transform="translate(8.30,289.40) rotate(-90)" text-anchor="middle" fill="#222" font-size="5.2">RMSE</text></g>
<text x="63.65" y="259.50" text-anchor="middle" font-size="5.2" font-weight="bold" fill="#111" stroke="#111" stroke-width="0.08">(p) spacega</text>
<g fill="none"><polyline points="134.10,301.00 139.50,305.50 144.90,307.00 150.30,307.50 158.40,306.00 171.90,304.40 185.40,303.30 212.40,300.40" stroke="#ffb8b8" stroke-width="0.5"/><path d="M134.10,299.05L135.97,302.36L132.23,302.36Z" stroke="#ff3030" stroke-width="0.7"/><path d="M139.50,303.55L141.37,306.86L137.63,306.86Z" stroke="#ff3030" stroke-width="0.7"/><path d="M144.90,305.05L146.77,308.36L143.03,308.36Z" stroke="#ff3030" stroke-width="0.7"/><path d="M150.30,305.55L152.17,308.86L148.43,308.86Z" stroke="#ff3030" stroke-width="0.7"/><path d="M158.40,304.05L160.27,307.36L156.53,307.36Z" stroke="#ff3030" stroke-width="0.7"/><path d="M171.90,302.44L173.77,305.76L170.03,305.76Z" stroke="#ff3030" stroke-width="0.7"/><path d="M185.40,301.35L187.27,304.66L183.53,304.66Z" stroke="#ff3030" stroke-width="0.7"/><path d="M212.40,298.44L214.27,301.76L210.53,301.76Z" stroke="#ff3030" stroke-width="0.7"/><polyline points="134.10,301.50 139.50,306.00 144.90,307.50 150.30,308.00 158.40,307.00 171.90,305.50 185.40,304.80 212.40,302.60" stroke="#ffb8b8" stroke-width="0.5"/><path d="M134.10,299.29L135.72,301.50L134.10,303.71L132.48,301.50Z" stroke="#ff3030" stroke-width="0.7"/><path d="M139.50,303.79L141.12,306.00L139.50,308.21L137.88,306.00Z" stroke="#ff3030" stroke-width="0.7"/><path d="M144.90,305.29L146.52,307.50L144.90,309.71L143.28,307.50Z" stroke="#ff3030" stroke-width="0.7"/><path d="M150.30,305.79L151.92,308.00L150.30,310.21L148.69,308.00Z" stroke="#ff3030" stroke-width="0.7"/><path d="M158.40,304.79L160.02,307.00L158.40,309.21L156.78,307.00Z" stroke="#ff3030" stroke-width="0.7"/><path d="M171.90,303.29L173.52,305.50L171.90,307.71L170.28,305.50Z" stroke="#ff3030" stroke-width="0.7"/><path d="M185.40,302.59L187.02,304.80L185.40,307.01L183.78,304.80Z" stroke="#ff3030" stroke-width="0.7"/><path d="M212.40,300.39L214.02,302.60L212.40,304.81L210.78,302.60Z" stroke="#ff3030" stroke-width="0.7"/><polyline points="134.10,294.50 139.50,302.60 144.90,300.40 150.30,295.60 158.40,289.10 171.90,279.90 185.40,273.20 212.40,264.00" stroke="#ffb8b8" stroke-width="0.5"/><circle cx="134.10" cy="294.50" r="1.61" stroke="#ff3030" stroke-width="0.7"/><circle cx="139.50" cy="302.60" r="1.61" stroke="#ff3030" stroke-width="0.7"/><circle cx="144.90" cy="300.40" r="1.61" stroke="#ff3030" stroke-width="0.7"/><circle cx="150.30" cy="295.60" r="1.61" stroke="#ff3030" stroke-width="0.7"/><circle cx="158.40" cy="289.10" r="1.61" stroke="#ff3030" stroke-width="0.7"/><circle cx="171.90" cy="279.90" r="1.61" stroke="#ff3030" stroke-width="0.7"/><circle cx="185.40" cy="273.20" r="1.61" stroke="#ff3030" stroke-width="0.7"/><circle cx="212.40" cy="264.00" r="1.61" stroke="#ff3030" stroke-width="0.7"/><polyline points="134.10,301.00 139.50,307.00 144.90,309.00 150.30,309.50 158.40,309.50 171.90,309.00 185.40,308.50 212.40,308.50" stroke="#ff6cff" stroke-width="0.5" stroke-dasharray="2.2,0.8,0.6,0.8"/><path d="M134.10,299.05L135.97,302.36L132.23,302.36Z" stroke="#ff20ff" stroke-width="0.7"/><path d="M139.50,305.05L141.37,308.36L137.63,308.36Z" stroke="#ff20ff" stroke-width="0.7"/><path d="M144.90,307.05L146.77,310.36L143.03,310.36Z" stroke="#ff20ff" stroke-width="0.7"/><path d="M150.30,307.55L152.17,310.86L148.43,310.86Z" stroke="#ff20ff" stroke-width="0.7"/><path d="M158.40,307.55L160.27,310.86L156.53,310.86Z" stroke="#ff20ff" stroke-width="0.7"/><path d="M171.90,307.05L173.77,310.36L170.03,310.36Z" stroke="#ff20ff" stroke-width="0.7"/><path d="M185.40,306.55L187.27,309.86L183.53,309.86Z" stroke="#ff20ff" stroke-width="0.7"/><path d="M212.40,306.55L214.27,309.86L210.53,309.86Z" stroke="#ff20ff" stroke-width="0.7"/><polyline points="134.10,301.50 139.50,309.80 144.90,310.50 150.30,311.00 158.40,312.00 171.90,312.00 185.40,312.00 212.40,312.70" stroke="#ff6cff" stroke-width="0.5" stroke-dasharray="2.2,0.8,0.6,0.8"/><path d="M134.10,299.29L135.72,301.50L134.10,303.71L132.48,301.50Z" stroke="#ff20ff" stroke-width="0.7"/><path d="M139.50,307.59L141.12,309.80L139.50,312.01L137.88,309.80Z" stroke="#ff20ff" stroke-width="0.7"/><path d="M144.90,308.29L146.52,310.50L144.90,312.71L143.28,310.50Z" stroke="#ff20ff" stroke-width="0.7"/><path d="M150.30,308.79L151.92,311.00L150.30,313.21L148.69,311.00Z" stroke="#ff20ff" stroke-width="0.7"/><path d="M158.40,309.79L160.02,312.00L158.40,314.21L156.78,312.00Z" stroke="#ff20ff" stroke-width="0.7"/><path d="M171.90,309.79L173.52,312.00L171.90,314.21L170.28,312.00Z" stroke="#ff20ff" stroke-width="0.7"/><path d="M185.40,309.79L187.02,312.00L185.40,314.21L183.78,312.00Z" stroke="#ff20ff" stroke-width="0.7"/><path d="M212.40,310.49L214.02,312.70L212.40,314.91L210.78,312.70Z" stroke="#ff20ff" stroke-width="0.7"/><polyline points="134.10,294.50 139.50,303.00 144.90,305.00 150.30,301.10 158.40,296.30 171.90,288.70 185.40,283.00 212.40,273.80" stroke="#ff6cff" stroke-width="0.5" stroke-dasharray="2.2,0.8,0.6,0.8"/><circle cx="134.10" cy="294.50" r="1.61" stroke="#ff20ff" stroke-width="0.7"/><circle cx="139.50" cy="303.00" r="1.61" stroke="#ff20ff" stroke-width="0.7"/><circle cx="144.90" cy="305.00" r="1.61" stroke="#ff20ff" stroke-width="0.7"/><circle cx="150.30" cy="301.10" r="1.61" stroke="#ff20ff" stroke-width="0.7"/><circle cx="158.40" cy="296.30" r="1.61" stroke="#ff20ff" stroke-width="0.7"/><circle cx="171.90" cy="288.70" r="1.61" stroke="#ff20ff" stroke-width="0.7"/><circle cx="185.40" cy="283.00" r="1.61" stroke="#ff20ff" stroke-width="0.7"/><circle cx="212.40" cy="273.80" r="1.61" stroke="#ff20ff" stroke-width="0.7"/><polyline points="134.10,302.60 139.50,307.00 144.90,308.30 150.30,307.60 158.40,307.00 171.90,308.30 185.40,308.30 212.40,308.30" stroke="#4a4aff" stroke-width="0.6"/><path d="M134.10,300.65L135.97,303.96L132.23,303.96Z" stroke="#3030ff" stroke-width="0.7"/><path d="M139.50,305.05L141.37,308.36L137.63,308.36Z" stroke="#3030ff" stroke-width="0.7"/><path d="M144.90,306.35L146.77,309.66L143.03,309.66Z" stroke="#3030ff" stroke-width="0.7"/><path d="M150.30,305.65L152.17,308.96L148.43,308.96Z" stroke="#3030ff" stroke-width="0.7"/><path d="M158.40,305.05L160.27,308.36L156.53,308.36Z" stroke="#3030ff" stroke-width="0.7"/><path d="M171.90,306.35L173.77,309.66L170.03,309.66Z" stroke="#3030ff" stroke-width="0.7"/><path d="M185.40,306.35L187.27,309.66L183.53,309.66Z" stroke="#3030ff" stroke-width="0.7"/><path d="M212.40,306.35L214.27,309.66L210.53,309.66Z" stroke="#3030ff" stroke-width="0.7"/><polyline points="134.10,304.40 139.50,308.30 144.90,309.00 150.30,309.00 158.40,309.00 171.90,309.50 185.40,309.50 212.40,309.50" stroke="#4a4aff" stroke-width="0.6"/><path d="M134.10,302.19L135.72,304.40L134.10,306.61L132.48,304.40Z" stroke="#3030ff" stroke-width="0.7"/><path d="M139.50,306.09L141.12,308.30L139.50,310.51L137.88,308.30Z" stroke="#3030ff" stroke-width="0.7"/><path d="M144.90,306.79L146.52,309.00L144.90,311.21L143.28,309.00Z" stroke="#3030ff" stroke-width="0.7"/><path d="M150.30,306.79L151.92,309.00L150.30,311.21L148.69,309.00Z" stroke="#3030ff" stroke-width="0.7"/><path d="M158.40,306.79L160.02,309.00L158.40,311.21L156.78,309.00Z" stroke="#3030ff" stroke-width="0.7"/><path d="M171.90,307.29L173.52,309.50L171.90,311.71L170.28,309.50Z" stroke="#3030ff" stroke-width="0.7"/><path d="M185.40,307.29L187.02,309.50L185.40,311.71L183.78,309.50Z" stroke="#3030ff" stroke-width="0.7"/><path d="M212.40,307.29L214.02,309.50L212.40,311.71L210.78,309.50Z" stroke="#3030ff" stroke-width="0.7"/><polyline points="134.10,301.10 139.50,307.50 144.90,308.50 150.30,309.00 158.40,310.50 171.90,310.50 185.40,310.50 212.40,310.50" stroke="#4a4aff" stroke-width="0.6"/><circle cx="134.10" cy="301.10" r="1.61" stroke="#3030ff" stroke-width="0.7"/><circle cx="139.50" cy="307.50" r="1.61" stroke="#3030ff" stroke-width="0.7"/><circle cx="144.90" cy="308.50" r="1.61" stroke="#3030ff" stroke-width="0.7"/><circle cx="150.30" cy="309.00" r="1.61" stroke="#3030ff" stroke-width="0.7"/><circle cx="158.40" cy="310.50" r="1.61" stroke="#3030ff" stroke-width="0.7"/><circle cx="171.90" cy="310.50" r="1.61" stroke="#3030ff" stroke-width="0.7"/><circle cx="185.40" cy="310.50" r="1.61" stroke="#3030ff" stroke-width="0.7"/><circle cx="212.40" cy="310.50" r="1.61" stroke="#3030ff" stroke-width="0.7"/></g>
<rect x="132.10" y="262.00" width="83.30" height="53.60" fill="none" stroke="#8c8c8c" stroke-width="0.8"/>
<path d="M134.10,315.60v-0.9M134.10,262.00v0.9M139.50,315.60v-0.9M139.50,262.00v0.9M144.90,315.60v-0.9M144.90,262.00v0.9M150.30,315.60v-0.9M150.30,262.00v0.9M158.40,315.60v-0.9M158.40,262.00v0.9M171.90,315.60v-0.9M171.90,262.00v0.9M185.40,315.60v-0.9M185.40,262.00v0.9M212.40,315.60v-0.9M212.40,262.00v0.9M132.10,272.30h0.9M215.40,272.30h-0.9M132.10,285.80h0.9M215.40,285.80h-0.9M132.10,298.90h0.9M215.40,298.90h-0.9M132.10,312.00h0.9M215.40,312.00h-0.9" stroke="#8c8c8c" stroke-width="0.6"/>
<g font-size="5.0" fill="#1e1e1e" stroke="#1e1e1e" stroke-width="0.09"><text x="134.10" y="322.20" text-anchor="middle">1</text><text x="139.50" y="322.20" text-anchor="middle">3</text><text x="144.90" y="322.20" text-anchor="middle">5</text><text x="150.30" y="322.20" text-anchor="middle">7</text><text x="158.40" y="322.20" text-anchor="middle">10</text><text x="171.90" y="322.20" text-anchor="middle">15</text><text x="185.40" y="322.20" text-anchor="middle">20</text><text x="212.40" y="322.20" text-anchor="middle">30</text><text x="129.80" y="274.40" text-anchor="end" font-size="4.75">0.4</text><text x="129.80" y="287.90" text-anchor="end" font-size="4.75">0.35</text><text x="129.80" y="301.00" text-anchor="end" font-size="4.75">0.3</text><text x="129.80" y="314.10" text-anchor="end" font-size="4.75">0.25</text><text x="173.15" y="329.20" text-anchor="middle">k</text><text transform="translate(118.40,289.40) rotate(-90)" text-anchor="middle" fill="#222" font-size="5.2">RMSE</text></g>
<text x="173.75" y="259.50" text-anchor="middle" font-size="5.2" font-weight="bold" fill="#111" stroke="#111" stroke-width="0.08">(q) superconductivity</text>
<g fill="none"><polyline points="244.30,264.70 249.70,296.70 255.10,302.20 260.50,303.30 268.60,303.30 282.10,303.00 295.60,302.50 322.60,301.70" stroke="#ffb8b8" stroke-width="0.5"/><path d="M244.30,262.75L246.17,266.06L242.43,266.06Z" stroke="#ff3030" stroke-width="0.7"/><path d="M249.70,294.75L251.57,298.06L247.83,298.06Z" stroke="#ff3030" stroke-width="0.7"/><path d="M255.10,300.25L256.97,303.56L253.23,303.56Z" stroke="#ff3030" stroke-width="0.7"/><path d="M260.50,301.35L262.37,304.66L258.63,304.66Z" stroke="#ff3030" stroke-width="0.7"/><path d="M268.60,301.35L270.47,304.66L266.73,304.66Z" stroke="#ff3030" stroke-width="0.7"/><path d="M282.10,301.05L283.97,304.36L280.23,304.36Z" stroke="#ff3030" stroke-width="0.7"/><path d="M295.60,300.55L297.47,303.86L293.73,303.86Z" stroke="#ff3030" stroke-width="0.7"/><path d="M322.60,299.75L324.47,303.06L320.73,303.06Z" stroke="#ff3030" stroke-width="0.7"/><polyline points="244.30,265.00 249.70,297.50 255.10,303.00 260.50,304.00 268.60,304.00 282.10,303.50 295.60,303.00 322.60,302.50" stroke="#ffb8b8" stroke-width="0.5"/><path d="M244.30,262.79L245.92,265.00L244.30,267.21L242.69,265.00Z" stroke="#ff3030" stroke-width="0.7"/><path d="M249.70,295.29L251.32,297.50L249.70,299.71L248.09,297.50Z" stroke="#ff3030" stroke-width="0.7"/><path d="M255.10,300.79L256.72,303.00L255.10,305.21L253.49,303.00Z" stroke="#ff3030" stroke-width="0.7"/><path d="M260.50,301.79L262.12,304.00L260.50,306.21L258.88,304.00Z" stroke="#ff3030" stroke-width="0.7"/><path d="M268.60,301.79L270.22,304.00L268.60,306.21L266.99,304.00Z" stroke="#ff3030" stroke-width="0.7"/><path d="M282.10,301.29L283.72,303.50L282.10,305.71L280.49,303.50Z" stroke="#ff3030" stroke-width="0.7"/><path d="M295.60,300.79L297.22,303.00L295.60,305.21L293.99,303.00Z" stroke="#ff3030" stroke-width="0.7"/><path d="M322.60,300.29L324.22,302.50L322.60,304.71L320.99,302.50Z" stroke="#ff3030" stroke-width="0.7"/><polyline points="244.30,274.90 249.70,305.50 255.10,310.90 260.50,311.60 268.60,312.00 282.10,309.80 295.60,309.20 322.60,307.60" stroke="#ffb8b8" stroke-width="0.5"/><circle cx="244.30" cy="274.90" r="1.61" stroke="#ff3030" stroke-width="0.7"/><circle cx="249.70" cy="305.50" r="1.61" stroke="#ff3030" stroke-width="0.7"/><circle cx="255.10" cy="310.90" r="1.61" stroke="#ff3030" stroke-width="0.7"/><circle cx="260.50" cy="311.60" r="1.61" stroke="#ff3030" stroke-width="0.7"/><circle cx="268.60" cy="312.00" r="1.61" stroke="#ff3030" stroke-width="0.7"/><circle cx="282.10" cy="309.80" r="1.61" stroke="#ff3030" stroke-width="0.7"/><circle cx="295.60" cy="309.20" r="1.61" stroke="#ff3030" stroke-width="0.7"/><circle cx="322.60" cy="307.60" r="1.61" stroke="#ff3030" stroke-width="0.7"/><polyline points="244.30,264.70 249.70,298.90 255.10,303.50 260.50,304.40 268.60,304.40 282.10,304.20 295.60,304.00 322.60,303.30" stroke="#ff6cff" stroke-width="0.5" stroke-dasharray="2.2,0.8,0.6,0.8"/><path d="M244.30,262.75L246.17,266.06L242.43,266.06Z" stroke="#ff20ff" stroke-width="0.7"/><path d="M249.70,296.94L251.57,300.26L247.83,300.26Z" stroke="#ff20ff" stroke-width="0.7"/><path d="M255.10,301.55L256.97,304.86L253.23,304.86Z" stroke="#ff20ff" stroke-width="0.7"/><path d="M260.50,302.44L262.37,305.76L258.63,305.76Z" stroke="#ff20ff" stroke-width="0.7"/><path d="M268.60,302.44L270.47,305.76L266.73,305.76Z" stroke="#ff20ff" stroke-width="0.7"/><path d="M282.10,302.25L283.97,305.56L280.23,305.56Z" stroke="#ff20ff" stroke-width="0.7"/><path d="M295.60,302.05L297.47,305.36L293.73,305.36Z" stroke="#ff20ff" stroke-width="0.7"/><path d="M322.60,301.35L324.47,304.66L320.73,304.66Z" stroke="#ff20ff" stroke-width="0.7"/><polyline points="244.30,265.00 249.70,299.50 255.10,304.00 260.50,305.00 268.60,305.00 282.10,305.00 295.60,305.00 322.60,305.50" stroke="#ff6cff" stroke-width="0.5" stroke-dasharray="2.2,0.8,0.6,0.8"/><path d="M244.30,262.79L245.92,265.00L244.30,267.21L242.69,265.00Z" stroke="#ff20ff" stroke-width="0.7"/><path d="M249.70,297.29L251.32,299.50L249.70,301.71L248.09,299.50Z" stroke="#ff20ff" stroke-width="0.7"/><path d="M255.10,301.79L256.72,304.00L255.10,306.21L253.49,304.00Z" stroke="#ff20ff" stroke-width="0.7"/><path d="M260.50,302.79L262.12,305.00L260.50,307.21L258.88,305.00Z" stroke="#ff20ff" stroke-width="0.7"/><path d="M268.60,302.79L270.22,305.00L268.60,307.21L266.99,305.00Z" stroke="#ff20ff" stroke-width="0.7"/><path d="M282.10,302.79L283.72,305.00L282.10,307.21L280.49,305.00Z" stroke="#ff20ff" stroke-width="0.7"/><path d="M295.60,302.79L297.22,305.00L295.60,307.21L293.99,305.00Z" stroke="#ff20ff" stroke-width="0.7"/><path d="M322.60,303.29L324.22,305.50L322.60,307.71L320.99,305.50Z" stroke="#ff20ff" stroke-width="0.7"/><polyline points="244.30,274.90 249.70,306.00 255.10,311.00 260.50,312.00 268.60,312.50 282.10,312.00 295.60,311.50 322.60,310.00" stroke="#ff6cff" stroke-width="0.5" stroke-dasharray="2.2,0.8,0.6,0.8"/><circle cx="244.30" cy="274.90" r="1.61" stroke="#ff20ff" stroke-width="0.7"/><circle cx="249.70" cy="306.00" r="1.61" stroke="#ff20ff" stroke-width="0.7"/><circle cx="255.10" cy="311.00" r="1.61" stroke="#ff20ff" stroke-width="0.7"/><circle cx="260.50" cy="312.00" r="1.61" stroke="#ff20ff" stroke-width="0.7"/><circle cx="268.60" cy="312.50" r="1.61" stroke="#ff20ff" stroke-width="0.7"/><circle cx="282.10" cy="312.00" r="1.61" stroke="#ff20ff" stroke-width="0.7"/><circle cx="295.60" cy="311.50" r="1.61" stroke="#ff20ff" stroke-width="0.7"/><circle cx="322.60" cy="310.00" r="1.61" stroke="#ff20ff" stroke-width="0.7"/><polyline points="244.30,297.80 249.70,301.70 255.10,302.50 260.50,303.30 268.60,303.30 282.10,303.90 295.60,304.00 322.60,303.50" stroke="#4a4aff" stroke-width="0.6"/><path d="M244.30,295.85L246.17,299.16L242.43,299.16Z" stroke="#3030ff" stroke-width="0.7"/><path d="M249.70,299.75L251.57,303.06L247.83,303.06Z" stroke="#3030ff" stroke-width="0.7"/><path d="M255.10,300.55L256.97,303.86L253.23,303.86Z" stroke="#3030ff" stroke-width="0.7"/><path d="M260.50,301.35L262.37,304.66L258.63,304.66Z" stroke="#3030ff" stroke-width="0.7"/><path d="M268.60,301.35L270.47,304.66L266.73,304.66Z" stroke="#3030ff" stroke-width="0.7"/><path d="M282.10,301.94L283.97,305.26L280.23,305.26Z" stroke="#3030ff" stroke-width="0.7"/><path d="M295.60,302.05L297.47,305.36L293.73,305.36Z" stroke="#3030ff" stroke-width="0.7"/><path d="M322.60,301.55L324.47,304.86L320.73,304.86Z" stroke="#3030ff" stroke-width="0.7"/><polyline points="244.30,298.50 249.70,302.50 255.10,303.90 260.50,304.40 268.60,304.40 282.10,304.40 295.60,304.40 322.60,304.00" stroke="#4a4aff" stroke-width="0.6"/><path d="M244.30,296.29L245.92,298.50L244.30,300.71L242.69,298.50Z" stroke="#3030ff" stroke-width="0.7"/><path d="M249.70,300.29L251.32,302.50L249.70,304.71L248.09,302.50Z" stroke="#3030ff" stroke-width="0.7"/><path d="M255.10,301.69L256.72,303.90L255.10,306.11L253.49,303.90Z" stroke="#3030ff" stroke-width="0.7"/><path d="M260.50,302.19L262.12,304.40L260.50,306.61L258.88,304.40Z" stroke="#3030ff" stroke-width="0.7"/><path d="M268.60,302.19L270.22,304.40L268.60,306.61L266.99,304.40Z" stroke="#3030ff" stroke-width="0.7"/><path d="M282.10,302.19L283.72,304.40L282.10,306.61L280.49,304.40Z" stroke="#3030ff" stroke-width="0.7"/><path d="M295.60,302.19L297.22,304.40L295.60,306.61L293.99,304.40Z" stroke="#3030ff" stroke-width="0.7"/><path d="M322.60,301.79L324.22,304.00L322.60,306.21L320.99,304.00Z" stroke="#3030ff" stroke-width="0.7"/><polyline points="244.30,303.30 249.70,309.80 255.10,310.90 260.50,311.60 268.60,312.00 282.10,312.00 295.60,312.00 322.60,310.50" stroke="#4a4aff" stroke-width="0.6"/><circle cx="244.30" cy="303.30" r="1.61" stroke="#3030ff" stroke-width="0.7"/><circle cx="249.70" cy="309.80" r="1.61" stroke="#3030ff" stroke-width="0.7"/><circle cx="255.10" cy="310.90" r="1.61" stroke="#3030ff" stroke-width="0.7"/><circle cx="260.50" cy="311.60" r="1.61" stroke="#3030ff" stroke-width="0.7"/><circle cx="268.60" cy="312.00" r="1.61" stroke="#3030ff" stroke-width="0.7"/><circle cx="282.10" cy="312.00" r="1.61" stroke="#3030ff" stroke-width="0.7"/><circle cx="295.60" cy="312.00" r="1.61" stroke="#3030ff" stroke-width="0.7"/><circle cx="322.60" cy="310.50" r="1.61" stroke="#3030ff" stroke-width="0.7"/></g>
<rect x="242.30" y="262.00" width="83.30" height="53.60" fill="none" stroke="#8c8c8c" stroke-width="0.8"/>
<path d="M244.30,315.60v-0.9M244.30,262.00v0.9M249.70,315.60v-0.9M249.70,262.00v0.9M255.10,315.60v-0.9M255.10,262.00v0.9M260.50,315.60v-0.9M260.50,262.00v0.9M268.60,315.60v-0.9M268.60,262.00v0.9M282.10,315.60v-0.9M282.10,262.00v0.9M295.60,315.60v-0.9M295.60,262.00v0.9M322.60,315.60v-0.9M322.60,262.00v0.9M242.30,274.30h0.9M325.60,274.30h-0.9M242.30,292.40h0.9M325.60,292.40h-0.9M242.30,310.30h0.9M325.60,310.30h-0.9" stroke="#8c8c8c" stroke-width="0.6"/>
<g font-size="5.0" fill="#1e1e1e" stroke="#1e1e1e" stroke-width="0.09"><text x="244.30" y="322.20" text-anchor="middle">1</text><text x="249.70" y="322.20" text-anchor="middle">3</text><text x="255.10" y="322.20" text-anchor="middle">5</text><text x="260.50" y="322.20" text-anchor="middle">7</text><text x="268.60" y="322.20" text-anchor="middle">10</text><text x="282.10" y="322.20" text-anchor="middle">15</text><text x="295.60" y="322.20" text-anchor="middle">20</text><text x="322.60" y="322.20" text-anchor="middle">30</text><text x="240.00" y="276.40" text-anchor="end" font-size="4.75">0.5</text><text x="240.00" y="294.50" text-anchor="end" font-size="4.75">0.45</text><text x="240.00" y="312.40" text-anchor="end" font-size="4.75">0.4</text><text x="283.35" y="329.20" text-anchor="middle">k</text><text transform="translate(228.60,289.40) rotate(-90)" text-anchor="middle" fill="#222" font-size="5.2">RMSE</text></g>
<text x="283.95" y="259.50" text-anchor="middle" font-size="5.2" font-weight="bold" fill="#111" stroke="#111" stroke-width="0.08">(r) telemonitoring</text>
<g fill="none"><polyline points="354.50,264.00 359.90,291.40 365.30,300.20 370.70,302.80 378.80,304.90 392.30,306.30 405.80,306.60 432.80,306.60" stroke="#ffb8b8" stroke-width="0.5"/><path d="M354.50,262.05L356.37,265.36L352.63,265.36Z" stroke="#ff3030" stroke-width="0.7"/><path d="M359.90,289.44L361.77,292.76L358.03,292.76Z" stroke="#ff3030" stroke-width="0.7"/><path d="M365.30,298.25L367.17,301.56L363.43,301.56Z" stroke="#ff3030" stroke-width="0.7"/><path d="M370.70,300.85L372.57,304.16L368.83,304.16Z" stroke="#ff3030" stroke-width="0.7"/><path d="M378.80,302.94L380.67,306.26L376.93,306.26Z" stroke="#ff3030" stroke-width="0.7"/><path d="M392.30,304.35L394.17,307.66L390.43,307.66Z" stroke="#ff3030" stroke-width="0.7"/><path d="M405.80,304.65L407.67,307.96L403.93,307.96Z" stroke="#ff3030" stroke-width="0.7"/><path d="M432.80,304.65L434.67,307.96L430.93,307.96Z" stroke="#ff3030" stroke-width="0.7"/><polyline points="354.50,264.50 359.90,292.00 365.30,300.80 370.70,303.50 378.80,305.50 392.30,306.80 405.80,307.20 432.80,307.40" stroke="#ffb8b8" stroke-width="0.5"/><path d="M354.50,262.29L356.12,264.50L354.50,266.71L352.88,264.50Z" stroke="#ff3030" stroke-width="0.7"/><path d="M359.90,289.79L361.51,292.00L359.90,294.21L358.28,292.00Z" stroke="#ff3030" stroke-width="0.7"/><path d="M365.30,298.59L366.92,300.80L365.30,303.01L363.69,300.80Z" stroke="#ff3030" stroke-width="0.7"/><path d="M370.70,301.29L372.31,303.50L370.70,305.71L369.08,303.50Z" stroke="#ff3030" stroke-width="0.7"/><path d="M378.80,303.29L380.42,305.50L378.80,307.71L377.19,305.50Z" stroke="#ff3030" stroke-width="0.7"/><path d="M392.30,304.59L393.92,306.80L392.30,309.01L390.69,306.80Z" stroke="#ff3030" stroke-width="0.7"/><path d="M405.80,304.99L407.42,307.20L405.80,309.41L404.19,307.20Z" stroke="#ff3030" stroke-width="0.7"/><path d="M432.80,305.19L434.42,307.40L432.80,309.61L431.19,307.40Z" stroke="#ff3030" stroke-width="0.7"/><polyline points="354.50,268.60 359.90,293.00 365.30,299.00 370.70,301.50 378.80,303.00 392.30,303.00 405.80,303.00 432.80,301.40" stroke="#ffb8b8" stroke-width="0.5"/><circle cx="354.50" cy="268.60" r="1.61" stroke="#ff3030" stroke-width="0.7"/><circle cx="359.90" cy="293.00" r="1.61" stroke="#ff3030" stroke-width="0.7"/><circle cx="365.30" cy="299.00" r="1.61" stroke="#ff3030" stroke-width="0.7"/><circle cx="370.70" cy="301.50" r="1.61" stroke="#ff3030" stroke-width="0.7"/><circle cx="378.80" cy="303.00" r="1.61" stroke="#ff3030" stroke-width="0.7"/><circle cx="392.30" cy="303.00" r="1.61" stroke="#ff3030" stroke-width="0.7"/><circle cx="405.80" cy="303.00" r="1.61" stroke="#ff3030" stroke-width="0.7"/><circle cx="432.80" cy="301.40" r="1.61" stroke="#ff3030" stroke-width="0.7"/><polyline points="354.50,264.00 359.90,298.40 365.30,302.50 370.70,306.00 378.80,308.00 392.30,308.00 405.80,308.30 432.80,308.90" stroke="#ff6cff" stroke-width="0.5" stroke-dasharray="2.2,0.8,0.6,0.8"/><path d="M354.50,262.05L356.37,265.36L352.63,265.36Z" stroke="#ff20ff" stroke-width="0.7"/><path d="M359.90,296.44L361.77,299.76L358.03,299.76Z" stroke="#ff20ff" stroke-width="0.7"/><path d="M365.30,300.55L367.17,303.86L363.43,303.86Z" stroke="#ff20ff" stroke-width="0.7"/><path d="M370.70,304.05L372.57,307.36L368.83,307.36Z" stroke="#ff20ff" stroke-width="0.7"/><path d="M378.80,306.05L380.67,309.36L376.93,309.36Z" stroke="#ff20ff" stroke-width="0.7"/><path d="M392.30,306.05L394.17,309.36L390.43,309.36Z" stroke="#ff20ff" stroke-width="0.7"/><path d="M405.80,306.35L407.67,309.66L403.93,309.66Z" stroke="#ff20ff" stroke-width="0.7"/><path d="M432.80,306.94L434.67,310.26L430.93,310.26Z" stroke="#ff20ff" stroke-width="0.7"/><polyline points="354.50,264.50 359.90,299.00 365.30,304.90 370.70,308.00 378.80,310.70 392.30,311.90 405.80,312.40 432.80,312.40" stroke="#ff6cff" stroke-width="0.5" stroke-dasharray="2.2,0.8,0.6,0.8"/><path d="M354.50,262.29L356.12,264.50L354.50,266.71L352.88,264.50Z" stroke="#ff20ff" stroke-width="0.7"/><path d="M359.90,296.79L361.51,299.00L359.90,301.21L358.28,299.00Z" stroke="#ff20ff" stroke-width="0.7"/><path d="M365.30,302.69L366.92,304.90L365.30,307.11L363.69,304.90Z" stroke="#ff20ff" stroke-width="0.7"/><path d="M370.70,305.79L372.31,308.00L370.70,310.21L369.08,308.00Z" stroke="#ff20ff" stroke-width="0.7"/><path d="M378.80,308.49L380.42,310.70L378.80,312.91L377.19,310.70Z" stroke="#ff20ff" stroke-width="0.7"/><path d="M392.30,309.69L393.92,311.90L392.30,314.11L390.69,311.90Z" stroke="#ff20ff" stroke-width="0.7"/><path d="M405.80,310.19L407.42,312.40L405.80,314.61L404.19,312.40Z" stroke="#ff20ff" stroke-width="0.7"/><path d="M432.80,310.19L434.42,312.40L432.80,314.61L431.19,312.40Z" stroke="#ff20ff" stroke-width="0.7"/><polyline points="354.50,268.60 359.90,297.00 365.30,302.00 370.70,305.00 378.80,306.50 392.30,307.50 405.80,308.00 432.80,308.50" stroke="#ff6cff" stroke-width="0.5" stroke-dasharray="2.2,0.8,0.6,0.8"/><circle cx="354.50" cy="268.60" r="1.61" stroke="#ff20ff" stroke-width="0.7"/><circle cx="359.90" cy="297.00" r="1.61" stroke="#ff20ff" stroke-width="0.7"/><circle cx="365.30" cy="302.00" r="1.61" stroke="#ff20ff" stroke-width="0.7"/><circle cx="370.70" cy="305.00" r="1.61" stroke="#ff20ff" stroke-width="0.7"/><circle cx="378.80" cy="306.50" r="1.61" stroke="#ff20ff" stroke-width="0.7"/><circle cx="392.30" cy="307.50" r="1.61" stroke="#ff20ff" stroke-width="0.7"/><circle cx="405.80" cy="308.00" r="1.61" stroke="#ff20ff" stroke-width="0.7"/><circle cx="432.80" cy="308.50" r="1.61" stroke="#ff20ff" stroke-width="0.7"/><polyline points="354.50,289.60 359.90,294.90 365.30,296.70 370.70,299.60 378.80,300.70 392.30,302.40 405.80,302.80 432.80,304.90" stroke="#4a4aff" stroke-width="0.6"/><path d="M354.50,287.65L356.37,290.96L352.63,290.96Z" stroke="#3030ff" stroke-width="0.7"/><path d="M359.90,292.94L361.77,296.26L358.03,296.26Z" stroke="#3030ff" stroke-width="0.7"/><path d="M365.30,294.75L367.17,298.06L363.43,298.06Z" stroke="#3030ff" stroke-width="0.7"/><path d="M370.70,297.65L372.57,300.96L368.83,300.96Z" stroke="#3030ff" stroke-width="0.7"/><path d="M378.80,298.75L380.67,302.06L376.93,302.06Z" stroke="#3030ff" stroke-width="0.7"/><path d="M392.30,300.44L394.17,303.76L390.43,303.76Z" stroke="#3030ff" stroke-width="0.7"/><path d="M405.80,300.85L407.67,304.16L403.93,304.16Z" stroke="#3030ff" stroke-width="0.7"/><path d="M432.80,302.94L434.67,306.26L430.93,306.26Z" stroke="#3030ff" stroke-width="0.7"/><polyline points="354.50,290.30 359.90,295.50 365.30,297.30 370.70,300.10 378.80,301.20 392.30,302.90 405.80,303.30 432.80,305.30" stroke="#4a4aff" stroke-width="0.6"/><path d="M354.50,288.09L356.12,290.30L354.50,292.51L352.88,290.30Z" stroke="#3030ff" stroke-width="0.7"/><path d="M359.90,293.29L361.51,295.50L359.90,297.71L358.28,295.50Z" stroke="#3030ff" stroke-width="0.7"/><path d="M365.30,295.09L366.92,297.30L365.30,299.51L363.69,297.30Z" stroke="#3030ff" stroke-width="0.7"/><path d="M370.70,297.89L372.31,300.10L370.70,302.31L369.08,300.10Z" stroke="#3030ff" stroke-width="0.7"/><path d="M378.80,298.99L380.42,301.20L378.80,303.41L377.19,301.20Z" stroke="#3030ff" stroke-width="0.7"/><path d="M392.30,300.69L393.92,302.90L392.30,305.11L390.69,302.90Z" stroke="#3030ff" stroke-width="0.7"/><path d="M405.80,301.09L407.42,303.30L405.80,305.51L404.19,303.30Z" stroke="#3030ff" stroke-width="0.7"/><path d="M432.80,303.09L434.42,305.30L432.80,307.51L431.19,305.30Z" stroke="#3030ff" stroke-width="0.7"/><polyline points="354.50,289.90 359.90,295.20 365.30,297.00 370.70,299.80 378.80,301.00 392.30,302.60 405.80,303.00 432.80,305.00" stroke="#4a4aff" stroke-width="0.6"/><circle cx="354.50" cy="289.90" r="1.61" stroke="#3030ff" stroke-width="0.7"/><circle cx="359.90" cy="295.20" r="1.61" stroke="#3030ff" stroke-width="0.7"/><circle cx="365.30" cy="297.00" r="1.61" stroke="#3030ff" stroke-width="0.7"/><circle cx="370.70" cy="299.80" r="1.61" stroke="#3030ff" stroke-width="0.7"/><circle cx="378.80" cy="301.00" r="1.61" stroke="#3030ff" stroke-width="0.7"/><circle cx="392.30" cy="302.60" r="1.61" stroke="#3030ff" stroke-width="0.7"/><circle cx="405.80" cy="303.00" r="1.61" stroke="#3030ff" stroke-width="0.7"/><circle cx="432.80" cy="305.00" r="1.61" stroke="#3030ff" stroke-width="0.7"/></g>
<rect x="352.50" y="262.00" width="83.30" height="53.60" fill="none" stroke="#8c8c8c" stroke-width="0.8"/>
<path d="M354.50,315.60v-0.9M354.50,262.00v0.9M359.90,315.60v-0.9M359.90,262.00v0.9M365.30,315.60v-0.9M365.30,262.00v0.9M370.70,315.60v-0.9M370.70,262.00v0.9M378.80,315.60v-0.9M378.80,262.00v0.9M392.30,315.60v-0.9M392.30,262.00v0.9M405.80,315.60v-0.9M405.80,262.00v0.9M432.80,315.60v-0.9M432.80,262.00v0.9M352.50,267.70h0.9M435.80,267.70h-0.9M352.50,278.60h0.9M435.80,278.60h-0.9M352.50,289.50h0.9M435.80,289.50h-0.9M352.50,299.60h0.9M435.80,299.60h-0.9M352.50,310.50h0.9M435.80,310.50h-0.9" stroke="#8c8c8c" stroke-width="0.6"/>
<g font-size="5.0" fill="#1e1e1e" stroke="#1e1e1e" stroke-width="0.09"><text x="354.50" y="322.20" text-anchor="middle">1</text><text x="359.90" y="322.20" text-anchor="middle">3</text><text x="365.30" y="322.20" text-anchor="middle">5</text><text x="370.70" y="322.20" text-anchor="middle">7</text><text x="378.80" y="322.20" text-anchor="middle">10</text><text x="392.30" y="322.20" text-anchor="middle">15</text><text x="405.80" y="322.20" text-anchor="middle">20</text><text x="432.80" y="322.20" text-anchor="middle">30</text><text x="350.20" y="269.80" text-anchor="end" font-size="4.75">0.34</text><text x="350.20" y="280.70" text-anchor="end" font-size="4.75">0.32</text><text x="350.20" y="291.60" text-anchor="end" font-size="4.75">0.3</text><text x="350.20" y="301.70" text-anchor="end" font-size="4.75">0.28</text><text x="350.20" y="312.60" text-anchor="end" font-size="4.75">0.26</text><text x="393.55" y="329.20" text-anchor="middle">k</text><text transform="translate(338.80,289.40) rotate(-90)" text-anchor="middle" fill="#222" font-size="5.2">RMSE</text></g>
<text x="394.15" y="259.50" text-anchor="middle" font-size="5.2" font-weight="bold" fill="#111" stroke="#111" stroke-width="0.08">(s) wine-red</text>
<g fill="none"><polyline points="464.60,264.30 470.00,296.70 475.40,303.70 480.80,305.90 488.90,307.20 502.40,308.40 515.90,308.40 542.90,308.40" stroke="#ffb8b8" stroke-width="0.5"/><path d="M464.60,262.35L466.47,265.66L462.73,265.66Z" stroke="#ff3030" stroke-width="0.7"/><path d="M470.00,294.75L471.87,298.06L468.13,298.06Z" stroke="#ff3030" stroke-width="0.7"/><path d="M475.40,301.75L477.27,305.06L473.53,305.06Z" stroke="#ff3030" stroke-width="0.7"/><path d="M480.80,303.94L482.67,307.26L478.93,307.26Z" stroke="#ff3030" stroke-width="0.7"/><path d="M488.90,305.25L490.77,308.56L487.03,308.56Z" stroke="#ff3030" stroke-width="0.7"/><path d="M502.40,306.44L504.27,309.76L500.53,309.76Z" stroke="#ff3030" stroke-width="0.7"/><path d="M515.90,306.44L517.77,309.76L514.03,309.76Z" stroke="#ff3030" stroke-width="0.7"/><path d="M542.90,306.44L544.77,309.76L541.03,309.76Z" stroke="#ff3030" stroke-width="0.7"/><polyline points="464.60,264.50 470.00,297.50 475.40,304.20 480.80,306.50 488.90,307.80 502.40,308.80 515.90,308.80 542.90,308.80" stroke="#ffb8b8" stroke-width="0.5"/><path d="M464.60,262.29L466.22,264.50L464.60,266.71L462.99,264.50Z" stroke="#ff3030" stroke-width="0.7"/><path d="M470.00,295.29L471.62,297.50L470.00,299.71L468.38,297.50Z" stroke="#ff3030" stroke-width="0.7"/><path d="M475.40,301.99L477.02,304.20L475.40,306.41L473.79,304.20Z" stroke="#ff3030" stroke-width="0.7"/><path d="M480.80,304.29L482.42,306.50L480.80,308.71L479.19,306.50Z" stroke="#ff3030" stroke-width="0.7"/><path d="M488.90,305.59L490.52,307.80L488.90,310.01L487.29,307.80Z" stroke="#ff3030" stroke-width="0.7"/><path d="M502.40,306.59L504.02,308.80L502.40,311.01L500.79,308.80Z" stroke="#ff3030" stroke-width="0.7"/><path d="M515.90,306.59L517.51,308.80L515.90,311.01L514.28,308.80Z" stroke="#ff3030" stroke-width="0.7"/><path d="M542.90,306.59L544.52,308.80L542.90,311.01L541.29,308.80Z" stroke="#ff3030" stroke-width="0.7"/><polyline points="464.60,270.40 470.00,297.50 475.40,303.00 480.80,305.00 488.90,306.50 502.40,307.50 515.90,307.70 542.90,307.70" stroke="#ffb8b8" stroke-width="0.5"/><circle cx="464.60" cy="270.40" r="1.61" stroke="#ff3030" stroke-width="0.7"/><circle cx="470.00" cy="297.50" r="1.61" stroke="#ff3030" stroke-width="0.7"/><circle cx="475.40" cy="303.00" r="1.61" stroke="#ff3030" stroke-width="0.7"/><circle cx="480.80" cy="305.00" r="1.61" stroke="#ff3030" stroke-width="0.7"/><circle cx="488.90" cy="306.50" r="1.61" stroke="#ff3030" stroke-width="0.7"/><circle cx="502.40" cy="307.50" r="1.61" stroke="#ff3030" stroke-width="0.7"/><circle cx="515.90" cy="307.70" r="1.61" stroke="#ff3030" stroke-width="0.7"/><circle cx="542.90" cy="307.70" r="1.61" stroke="#ff3030" stroke-width="0.7"/><polyline points="464.60,264.30 470.00,299.50 475.40,305.50 480.80,309.00 488.90,310.50 502.40,311.50 515.90,311.50 542.90,311.50" stroke="#ff6cff" stroke-width="0.5" stroke-dasharray="2.2,0.8,0.6,0.8"/><path d="M464.60,262.35L466.47,265.66L462.73,265.66Z" stroke="#ff20ff" stroke-width="0.7"/><path d="M470.00,297.55L471.87,300.86L468.13,300.86Z" stroke="#ff20ff" stroke-width="0.7"/><path d="M475.40,303.55L477.27,306.86L473.53,306.86Z" stroke="#ff20ff" stroke-width="0.7"/><path d="M480.80,307.05L482.67,310.36L478.93,310.36Z" stroke="#ff20ff" stroke-width="0.7"/><path d="M488.90,308.55L490.77,311.86L487.03,311.86Z" stroke="#ff20ff" stroke-width="0.7"/><path d="M502.40,309.55L504.27,312.86L500.53,312.86Z" stroke="#ff20ff" stroke-width="0.7"/><path d="M515.90,309.55L517.77,312.86L514.03,312.86Z" stroke="#ff20ff" stroke-width="0.7"/><path d="M542.90,309.55L544.77,312.86L541.03,312.86Z" stroke="#ff20ff" stroke-width="0.7"/><polyline points="464.60,264.50 470.00,300.20 475.40,305.90 480.80,309.80 488.90,311.20 502.40,312.40 515.90,312.40 542.90,312.40" stroke="#ff6cff" stroke-width="0.5" stroke-dasharray="2.2,0.8,0.6,0.8"/><path d="M464.60,262.29L466.22,264.50L464.60,266.71L462.99,264.50Z" stroke="#ff20ff" stroke-width="0.7"/><path d="M470.00,297.99L471.62,300.20L470.00,302.41L468.38,300.20Z" stroke="#ff20ff" stroke-width="0.7"/><path d="M475.40,303.69L477.02,305.90L475.40,308.11L473.79,305.90Z" stroke="#ff20ff" stroke-width="0.7"/><path d="M480.80,307.59L482.42,309.80L480.80,312.01L479.19,309.80Z" stroke="#ff20ff" stroke-width="0.7"/><path d="M488.90,308.99L490.52,311.20L488.90,313.41L487.29,311.20Z" stroke="#ff20ff" stroke-width="0.7"/><path d="M502.40,310.19L504.02,312.40L502.40,314.61L500.79,312.40Z" stroke="#ff20ff" stroke-width="0.7"/><path d="M515.90,310.19L517.51,312.40L515.90,314.61L514.28,312.40Z" stroke="#ff20ff" stroke-width="0.7"/><path d="M542.90,310.19L544.52,312.40L542.90,314.61L541.29,312.40Z" stroke="#ff20ff" stroke-width="0.7"/><polyline points="464.60,270.40 470.00,300.00 475.40,305.50 480.80,309.30 488.90,310.80 502.40,312.00 515.90,312.00 542.90,312.00" stroke="#ff6cff" stroke-width="0.5" stroke-dasharray="2.2,0.8,0.6,0.8"/><circle cx="464.60" cy="270.40" r="1.61" stroke="#ff20ff" stroke-width="0.7"/><circle cx="470.00" cy="300.00" r="1.61" stroke="#ff20ff" stroke-width="0.7"/><circle cx="475.40" cy="305.50" r="1.61" stroke="#ff20ff" stroke-width="0.7"/><circle cx="480.80" cy="309.30" r="1.61" stroke="#ff20ff" stroke-width="0.7"/><circle cx="488.90" cy="310.80" r="1.61" stroke="#ff20ff" stroke-width="0.7"/><circle cx="502.40" cy="312.00" r="1.61" stroke="#ff20ff" stroke-width="0.7"/><circle cx="515.90" cy="312.00" r="1.61" stroke="#ff20ff" stroke-width="0.7"/><circle cx="542.90" cy="312.00" r="1.61" stroke="#ff20ff" stroke-width="0.7"/><polyline points="464.60,293.20 470.00,299.30 475.40,301.40 480.80,302.80 488.90,304.50 502.40,305.40 515.90,304.90 542.90,305.90" stroke="#4a4aff" stroke-width="0.6"/><path d="M464.60,291.25L466.47,294.56L462.73,294.56Z" stroke="#3030ff" stroke-width="0.7"/><path d="M470.00,297.35L471.87,300.66L468.13,300.66Z" stroke="#3030ff" stroke-width="0.7"/><path d="M475.40,299.44L477.27,302.76L473.53,302.76Z" stroke="#3030ff" stroke-width="0.7"/><path d="M480.80,300.85L482.67,304.16L478.93,304.16Z" stroke="#3030ff" stroke-width="0.7"/><path d="M488.90,302.55L490.77,305.86L487.03,305.86Z" stroke="#3030ff" stroke-width="0.7"/><path d="M502.40,303.44L504.27,306.76L500.53,306.76Z" stroke="#3030ff" stroke-width="0.7"/><path d="M515.90,302.94L517.77,306.26L514.03,306.26Z" stroke="#3030ff" stroke-width="0.7"/><path d="M542.90,303.94L544.77,307.26L541.03,307.26Z" stroke="#3030ff" stroke-width="0.7"/><polyline points="464.60,294.90 470.00,300.00 475.40,302.30 480.80,303.80 488.90,305.50 502.40,306.50 515.90,306.50 542.90,307.70" stroke="#4a4aff" stroke-width="0.6"/><path d="M464.60,292.69L466.22,294.90L464.60,297.11L462.99,294.90Z" stroke="#3030ff" stroke-width="0.7"/><path d="M470.00,297.79L471.62,300.00L470.00,302.21L468.38,300.00Z" stroke="#3030ff" stroke-width="0.7"/><path d="M475.40,300.09L477.02,302.30L475.40,304.51L473.79,302.30Z" stroke="#3030ff" stroke-width="0.7"/><path d="M480.80,301.59L482.42,303.80L480.80,306.01L479.19,303.80Z" stroke="#3030ff" stroke-width="0.7"/><path d="M488.90,303.29L490.52,305.50L488.90,307.71L487.29,305.50Z" stroke="#3030ff" stroke-width="0.7"/><path d="M502.40,304.29L504.02,306.50L502.40,308.71L500.79,306.50Z" stroke="#3030ff" stroke-width="0.7"/><path d="M515.90,304.29L517.51,306.50L515.90,308.71L514.28,306.50Z" stroke="#3030ff" stroke-width="0.7"/><path d="M542.90,305.49L544.52,307.70L542.90,309.91L541.29,307.70Z" stroke="#3030ff" stroke-width="0.7"/><polyline points="464.60,294.00 470.00,299.60 475.40,301.80 480.80,303.30 488.90,305.00 502.40,306.00 515.90,306.00 542.90,306.80" stroke="#4a4aff" stroke-width="0.6"/><circle cx="464.60" cy="294.00" r="1.61" stroke="#3030ff" stroke-width="0.7"/><circle cx="470.00" cy="299.60" r="1.61" stroke="#3030ff" stroke-width="0.7"/><circle cx="475.40" cy="301.80" r="1.61" stroke="#3030ff" stroke-width="0.7"/><circle cx="480.80" cy="303.30" r="1.61" stroke="#3030ff" stroke-width="0.7"/><circle cx="488.90" cy="305.00" r="1.61" stroke="#3030ff" stroke-width="0.7"/><circle cx="502.40" cy="306.00" r="1.61" stroke="#3030ff" stroke-width="0.7"/><circle cx="515.90" cy="306.00" r="1.61" stroke="#3030ff" stroke-width="0.7"/><circle cx="542.90" cy="306.80" r="1.61" stroke="#3030ff" stroke-width="0.7"/></g>
<rect x="462.60" y="262.00" width="83.30" height="53.60" fill="none" stroke="#8c8c8c" stroke-width="0.8"/>
<path d="M464.60,315.60v-0.9M464.60,262.00v0.9M470.00,315.60v-0.9M470.00,262.00v0.9M475.40,315.60v-0.9M475.40,262.00v0.9M480.80,315.60v-0.9M480.80,262.00v0.9M488.90,315.60v-0.9M488.90,262.00v0.9M502.40,315.60v-0.9M502.40,262.00v0.9M515.90,315.60v-0.9M515.90,262.00v0.9M542.90,315.60v-0.9M542.90,262.00v0.9M462.60,271.60h0.9M545.90,271.60h-0.9M462.60,283.60h0.9M545.90,283.60h-0.9M462.60,295.00h0.9M545.90,295.00h-0.9M462.60,306.10h0.9M545.90,306.10h-0.9" stroke="#8c8c8c" stroke-width="0.6"/>
<g font-size="5.0" fill="#1e1e1e" stroke="#1e1e1e" stroke-width="0.09"><text x="464.60" y="322.20" text-anchor="middle">1</text><text x="470.00" y="322.20" text-anchor="middle">3</text><text x="475.40" y="322.20" text-anchor="middle">5</text><text x="480.80" y="322.20" text-anchor="middle">7</text><text x="488.90" y="322.20" text-anchor="middle">10</text><text x="502.40" y="322.20" text-anchor="middle">15</text><text x="515.90" y="322.20" text-anchor="middle">20</text><text x="542.90" y="322.20" text-anchor="middle">30</text><text x="460.30" y="273.70" text-anchor="end" font-size="4.75">0.34</text><text x="460.30" y="285.70" text-anchor="end" font-size="4.75">0.32</text><text x="460.30" y="297.10" text-anchor="end" font-size="4.75">0.3</text><text x="460.30" y="308.20" text-anchor="end" font-size="4.75">0.28</text><text x="503.65" y="329.20" text-anchor="middle">k</text><text transform="translate(448.90,289.40) rotate(-90)" text-anchor="middle" fill="#222" font-size="5.2">RMSE</text></g>
<text x="504.25" y="259.50" text-anchor="middle" font-size="5.2" font-weight="bold" fill="#111" stroke="#111" stroke-width="0.08">(t) wine-white</text>
<rect x="431.6" y="2.0" width="114.30" height="18.50" fill="#fff" stroke="#8c8c8c" stroke-width="0.7"/><path d="M433.3,5.5H446.4" stroke="#ffb8b8" stroke-width="0.5" stroke-dasharray="1.2,1"/><g fill="none"><path d="M440.60,3.66L442.36,6.78L438.84,6.78Z" stroke="#ff3030" stroke-width="0.7"/></g><text x="449.2" y="7.00" font-size="4.25" fill="#222" stroke="#222" stroke-width="0.1">kNN_L1</text><path d="M433.3,11.2H446.4" stroke="#ffb8b8" stroke-width="0.5" stroke-dasharray="1.2,1"/><g fill="none"><path d="M440.60,9.12L442.12,11.20L440.60,13.28L439.08,11.20Z" stroke="#ff3030" stroke-width="0.7"/></g><text x="449.2" y="12.70" font-size="4.25" fill="#222" stroke="#222" stroke-width="0.1">kNN_L2</text><path d="M433.3,16.9H446.4" stroke="#ffb8b8" stroke-width="0.5" stroke-dasharray="1.2,1"/><g fill="none"><circle cx="440.60" cy="16.90" r="1.52" stroke="#ff3030" stroke-width="0.7"/></g><text x="449.2" y="18.40" font-size="4.25" fill="#222" stroke="#222" stroke-width="0.1">kNN_M</text><path d="M467.6,5.5H481.3" stroke="#ff6cff" stroke-width="0.5" stroke-dasharray="2,1"/><g fill="none"><path d="M474.70,3.66L476.46,6.78L472.94,6.78Z" stroke="#ff20ff" stroke-width="0.7"/></g><text x="483.6" y="7.00" font-size="4.25" fill="#222" stroke="#222" stroke-width="0.1">WANN_L1</text><path d="M467.6,11.2H481.3" stroke="#ff6cff" stroke-width="0.5" stroke-dasharray="2,1"/><g fill="none"><path d="M474.70,9.12L476.22,11.20L474.70,13.28L473.18,11.20Z" stroke="#ff20ff" stroke-width="0.7"/></g><text x="483.6" y="12.70" font-size="4.25" fill="#222" stroke="#222" stroke-width="0.1">WANN_L2</text><path d="M467.6,16.9H481.3" stroke="#ff6cff" stroke-width="0.5" stroke-dasharray="2,1"/><g fill="none"><circle cx="474.70" cy="16.90" r="1.52" stroke="#ff20ff" stroke-width="0.7"/></g><text x="483.6" y="18.40" font-size="4.25" fill="#222" stroke="#222" stroke-width="0.1">WANN_M</text><path d="M505.0,5.5H519.3" stroke="#4a4aff" stroke-width="0.5"/><g fill="none"><path d="M512.40,3.66L514.16,6.78L510.64,6.78Z" stroke="#3030ff" stroke-width="0.7"/></g><text x="520.7" y="7.00" font-size="4.25" fill="#222" stroke="#222" stroke-width="0.1">kNNGNN_L1</text><path d="M505.0,11.2H519.3" stroke="#4a4aff" stroke-width="0.5"/><g fill="none"><path d="M512.40,9.12L513.92,11.20L512.40,13.28L510.88,11.20Z" stroke="#3030ff" stroke-width="0.7"/></g><text x="520.7" y="12.70" font-size="4.25" fill="#222" stroke="#222" stroke-width="0.1">kNNGNN_L2</text><path d="M505.0,16.9H519.3" stroke="#4a4aff" stroke-width="0.5"/><g fill="none"><circle cx="512.40" cy="16.90" r="1.52" stroke="#3030ff" stroke-width="0.7"/></g><text x="520.7" y="18.40" font-size="4.25" fill="#222" stroke="#222" stroke-width="0.1">kNNGNN_M</text>
</svg></body></html>
